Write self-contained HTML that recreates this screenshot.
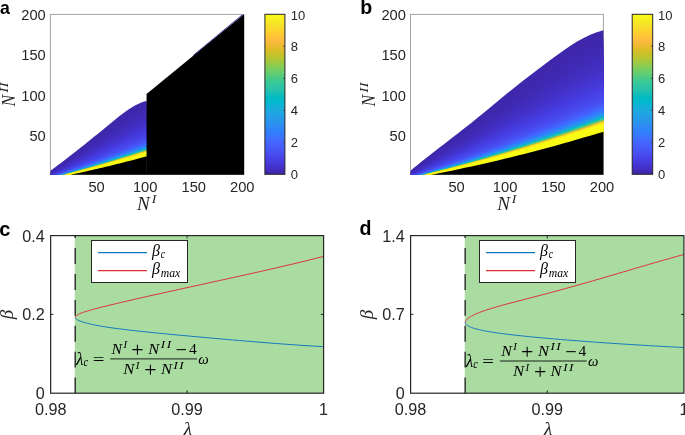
<!DOCTYPE html>
<html><head><meta charset="utf-8"><title>figure</title><style>html,body{margin:0;padding:0;background:#fff}body{width:685px;height:435px;overflow:hidden}</style></head><body>
<svg width="685" height="435" viewBox="0 0 685 435" style="display:block">
<rect width="685" height="435" fill="#fff"/>
<rect x="50.4" y="14.4" width="193.3" height="159.9" fill="none" stroke="#a4a4a4" stroke-width="1"/>
<clipPath id="clip1"><rect x="50.4" y="14.4" width="193.8" height="160.4"/></clipPath>
<g clip-path="url(#clip1)">
<polygon fill="#3e27aa" points="50.4,174.78 53.92,174.78 57.44,174.78 60.96,174.78 64.48,174.78 68.01,174.78 71.53,174.78 75.05,174.29 78.57,173.52 81.3,172.92 84.03,172.32 86.76,171.71 89.5,171.09 92.23,170.47 94.96,169.84 97.69,169.2 100.42,168.56 103.15,167.92 105.88,167.27 108.62,166.61 111.35,165.94 114.08,165.28 116.81,164.6 119.54,163.92 122.27,163.23 125,162.54 127.74,161.84 130.47,161.14 133.2,160.42 135.93,159.71 138.66,158.99 141.39,158.26 144.12,157.52 146.86,156.78 146.86,100.93 144.12,101.59 141.39,102.5 138.66,103.63 135.93,104.97 133.2,106.48 130.47,108.15 127.74,109.96 125,111.89 122.27,113.91 119.54,116.01 116.81,118.18 114.08,120.39 111.35,122.64 108.62,124.9 105.88,127.16 103.15,129.42 100.42,131.66 97.69,133.9 94.96,136.12 92.23,138.34 89.5,140.54 86.76,142.74 84.03,144.92 81.3,147.1 78.57,149.26 75.05,152.03 71.53,154.78 68.01,157.51 64.48,160.21 60.96,162.89 57.44,165.55 53.92,168.18 50.4,170.79"/>
<polygon fill="#3f28ad" points="50.4,174.78 53.92,174.78 57.44,174.78 60.96,174.78 64.48,174.78 68.01,174.78 71.53,174.78 75.05,174.29 78.57,173.52 81.3,172.92 84.03,172.32 86.76,171.71 89.5,171.09 92.23,170.47 94.96,169.84 97.69,169.2 100.42,168.56 103.15,167.92 105.88,167.27 108.62,166.61 111.35,165.94 114.08,165.28 116.81,164.6 119.54,163.92 122.27,163.23 125,162.54 127.74,161.84 130.47,161.14 133.2,160.42 135.93,159.71 138.66,158.99 141.39,158.26 144.12,157.52 146.86,156.78 146.86,104.98 144.12,105.78 141.39,106.79 138.66,108 135.93,109.37 133.2,110.89 130.47,112.54 127.74,114.3 125,116.16 122.27,118.1 119.54,120.1 116.81,122.15 114.08,124.24 111.35,126.35 108.62,128.48 105.88,130.61 103.15,132.72 100.42,134.83 97.69,136.93 94.96,139.03 92.23,141.11 89.5,143.18 86.76,145.25 84.03,147.3 81.3,149.35 78.57,151.38 75.05,153.99 71.53,156.57 68.01,159.14 64.48,161.69 60.96,164.22 57.44,166.74 53.92,169.23 50.4,171.71"/>
<polygon fill="#3f29b1" points="50.4,174.78 53.92,174.78 57.44,174.78 60.96,174.78 64.48,174.78 68.01,174.78 71.53,174.78 75.05,174.29 78.57,173.52 81.3,172.92 84.03,172.32 86.76,171.71 89.5,171.09 92.23,170.47 94.96,169.84 97.69,169.2 100.42,168.56 103.15,167.92 105.88,167.27 108.62,166.61 111.35,165.94 114.08,165.28 116.81,164.6 119.54,163.92 122.27,163.23 125,162.54 127.74,161.84 130.47,161.14 133.2,160.42 135.93,159.71 138.66,158.99 141.39,158.26 144.12,157.52 146.86,156.78 146.86,108.35 144.12,109.24 141.39,110.32 138.66,111.56 135.93,112.95 133.2,114.46 130.47,116.09 127.74,117.81 125,119.61 122.27,121.47 119.54,123.39 116.81,125.34 114.08,127.33 111.35,129.34 108.62,131.36 105.88,133.37 103.15,135.38 100.42,137.38 97.69,139.37 94.96,141.36 92.23,143.33 89.5,145.3 86.76,147.26 84.03,149.2 81.3,151.14 78.57,153.07 75.05,155.55 71.53,158 68.01,160.44 64.48,162.86 60.96,165.27 57.44,167.66 53.92,170.03 50.4,172.4"/>
<polygon fill="#402ab4" points="50.4,174.78 53.92,174.78 57.44,174.78 60.96,174.78 64.48,174.78 68.01,174.78 71.53,174.78 75.05,174.29 78.57,173.52 81.3,172.92 84.03,172.32 86.76,171.71 89.5,171.09 92.23,170.47 94.96,169.84 97.69,169.2 100.42,168.56 103.15,167.92 105.88,167.27 108.62,166.61 111.35,165.94 114.08,165.28 116.81,164.6 119.54,163.92 122.27,163.23 125,162.54 127.74,161.84 130.47,161.14 133.2,160.42 135.93,159.71 138.66,158.99 141.39,158.26 144.12,157.52 146.86,156.78 146.86,111.2 144.12,112.17 141.39,113.29 138.66,114.55 135.93,115.95 133.2,117.45 130.47,119.04 127.74,120.72 125,122.46 122.27,124.26 119.54,126.11 116.81,127.98 114.08,129.89 111.35,131.81 108.62,133.73 105.88,135.66 103.15,137.57 100.42,139.48 97.69,141.39 94.96,143.28 92.23,145.17 89.5,147.04 86.76,148.91 84.03,150.77 81.3,152.62 78.57,154.47 75.05,156.83 71.53,159.17 68.01,161.51 64.48,163.82 60.96,166.12 57.44,168.4 53.92,170.68 50.4,172.95"/>
<polygon fill="#402bb7" points="50.4,174.78 53.92,174.78 57.44,174.78 60.96,174.78 64.48,174.78 68.01,174.78 71.53,174.78 75.05,174.29 78.57,173.52 81.3,172.92 84.03,172.32 86.76,171.71 89.5,171.09 92.23,170.47 94.96,169.84 97.69,169.2 100.42,168.56 103.15,167.92 105.88,167.27 108.62,166.61 111.35,165.94 114.08,165.28 116.81,164.6 119.54,163.92 122.27,163.23 125,162.54 127.74,161.84 130.47,161.14 133.2,160.42 135.93,159.71 138.66,158.99 141.39,158.26 144.12,157.52 146.86,156.78 146.86,113.66 144.12,114.67 141.39,115.83 138.66,117.11 135.93,118.49 133.2,119.98 130.47,121.55 127.74,123.18 125,124.88 122.27,126.62 119.54,128.4 116.81,130.21 114.08,132.04 111.35,133.89 108.62,135.74 105.88,137.59 103.15,139.43 100.42,141.26 97.69,143.08 94.96,144.9 92.23,146.71 89.5,148.51 86.76,150.31 84.03,152.09 81.3,153.87 78.57,155.64 75.05,157.91 71.53,160.16 68.01,162.4 64.48,164.62 60.96,166.83 57.44,169.02 53.92,171.21 50.4,173.39"/>
<polygon fill="#412cbb" points="50.4,174.78 53.92,174.78 57.44,174.78 60.96,174.78 64.48,174.78 68.01,174.78 71.53,174.78 75.05,174.29 78.57,173.52 81.3,172.92 84.03,172.32 86.76,171.71 89.5,171.09 92.23,170.47 94.96,169.84 97.69,169.2 100.42,168.56 103.15,167.92 105.88,167.27 108.62,166.61 111.35,165.94 114.08,165.28 116.81,164.6 119.54,163.92 122.27,163.23 125,162.54 127.74,161.84 130.47,161.14 133.2,160.42 135.93,159.71 138.66,158.99 141.39,158.26 144.12,157.52 146.86,156.78 146.86,115.8 144.12,116.84 141.39,118.02 138.66,119.31 135.93,120.69 133.2,122.16 130.47,123.7 127.74,125.31 125,126.96 122.27,128.65 119.54,130.38 116.81,132.13 114.08,133.9 111.35,135.68 108.62,137.46 105.88,139.24 103.15,141.01 100.42,142.78 97.69,144.54 94.96,146.29 92.23,148.04 89.5,149.77 86.76,151.5 84.03,153.22 81.3,154.94 78.57,156.64 75.05,158.83 71.53,161 68.01,163.15 64.48,165.3 60.96,167.43 57.44,169.55 53.92,171.65 50.4,173.76"/>
<polygon fill="#412ebe" points="50.4,174.78 53.92,174.78 57.44,174.78 60.96,174.78 64.48,174.78 68.01,174.78 71.53,174.78 75.05,174.29 78.57,173.52 81.3,172.92 84.03,172.32 86.76,171.71 89.5,171.09 92.23,170.47 94.96,169.84 97.69,169.2 100.42,168.56 103.15,167.92 105.88,167.27 108.62,166.61 111.35,165.94 114.08,165.28 116.81,164.6 119.54,163.92 122.27,163.23 125,162.54 127.74,161.84 130.47,161.14 133.2,160.42 135.93,159.71 138.66,158.99 141.39,158.26 144.12,157.52 146.86,156.78 146.86,117.68 144.12,118.75 141.39,119.94 138.66,121.23 135.93,122.61 133.2,124.06 130.47,125.57 127.74,127.14 125,128.76 122.27,130.41 119.54,132.09 116.81,133.78 114.08,135.5 111.35,137.22 108.62,138.95 105.88,140.67 103.15,142.39 100.42,144.1 97.69,145.8 94.96,147.5 92.23,149.19 89.5,150.87 86.76,152.54 84.03,154.2 81.3,155.86 78.57,157.51 75.05,159.62 71.53,161.72 68.01,163.81 64.48,165.89 60.96,167.95 57.44,169.99 53.92,172.03 50.4,174.07"/>
<polygon fill="#422fc1" points="50.4,174.78 53.92,174.78 57.44,174.78 60.96,174.78 64.48,174.78 68.01,174.78 71.53,174.78 75.05,174.29 78.57,173.52 81.3,172.92 84.03,172.32 86.76,171.71 89.5,171.09 92.23,170.47 94.96,169.84 97.69,169.2 100.42,168.56 103.15,167.92 105.88,167.27 108.62,166.61 111.35,165.94 114.08,165.28 116.81,164.6 119.54,163.92 122.27,163.23 125,162.54 127.74,161.84 130.47,161.14 133.2,160.42 135.93,159.71 138.66,158.99 141.39,158.26 144.12,157.52 146.86,156.78 146.86,119.35 144.12,120.45 141.39,121.64 138.66,122.93 135.93,124.3 133.2,125.73 130.47,127.22 127.74,128.76 125,130.34 122.27,131.95 119.54,133.58 116.81,135.24 114.08,136.91 111.35,138.58 108.62,140.26 105.88,141.93 103.15,143.59 100.42,145.25 97.69,146.91 94.96,148.55 92.23,150.19 89.5,151.82 86.76,153.44 84.03,155.06 81.3,156.67 78.57,158.27 75.05,160.32 71.53,162.36 68.01,164.38 64.48,166.4 60.96,168.4 57.44,170.38 53.92,172.36 50.4,174.34"/>
<polygon fill="#4230c4" points="50.4,174.78 53.92,174.78 57.44,174.78 60.96,174.78 64.48,174.78 68.01,174.78 71.53,174.78 75.05,174.29 78.57,173.52 81.3,172.92 84.03,172.32 86.76,171.71 89.5,171.09 92.23,170.47 94.96,169.84 97.69,169.2 100.42,168.56 103.15,167.92 105.88,167.27 108.62,166.61 111.35,165.94 114.08,165.28 116.81,164.6 119.54,163.92 122.27,163.23 125,162.54 127.74,161.84 130.47,161.14 133.2,160.42 135.93,159.71 138.66,158.99 141.39,158.26 144.12,157.52 146.86,156.78 146.86,120.86 144.12,121.96 141.39,123.16 138.66,124.45 135.93,125.8 133.2,127.22 130.47,128.69 127.74,130.2 125,131.74 122.27,133.32 119.54,134.92 116.81,136.53 114.08,138.15 111.35,139.78 108.62,141.41 105.88,143.04 103.15,144.66 100.42,146.28 97.69,147.89 94.96,149.49 92.23,151.08 89.5,152.67 86.76,154.25 84.03,155.82 81.3,157.38 78.57,158.94 75.05,160.93 71.53,162.92 68.01,164.89 64.48,166.85 60.96,168.79 57.44,170.73 53.92,172.65 50.4,174.57"/>
<polygon fill="#4331c7" points="50.4,174.78 53.92,174.78 57.44,174.78 60.96,174.78 64.48,174.78 68.01,174.78 71.53,174.78 75.05,174.29 78.57,173.52 81.3,172.92 84.03,172.32 86.76,171.71 89.5,171.09 92.23,170.47 94.96,169.84 97.69,169.2 100.42,168.56 103.15,167.92 105.88,167.27 108.62,166.61 111.35,165.94 114.08,165.28 116.81,164.6 119.54,163.92 122.27,163.23 125,162.54 127.74,161.84 130.47,161.14 133.2,160.42 135.93,159.71 138.66,158.99 141.39,158.26 144.12,157.52 146.86,156.78 146.86,122.22 144.12,123.33 141.39,124.53 138.66,125.81 135.93,127.16 133.2,128.56 130.47,130 127.74,131.49 125,133 122.27,134.55 119.54,136.11 116.81,137.68 114.08,139.27 111.35,140.86 108.62,142.45 105.88,144.04 103.15,145.62 100.42,147.2 97.69,148.76 94.96,150.32 92.23,151.88 89.5,153.42 86.76,154.96 84.03,156.5 81.3,158.02 78.57,159.54 75.05,161.48 71.53,163.42 68.01,165.34 64.48,167.25 60.96,169.14 57.44,171.03 53.92,172.91 50.4,174.78"/>
<polygon fill="#4332ca" points="50.4,174.78 53.92,174.78 57.44,174.78 60.96,174.78 64.48,174.78 68.01,174.78 71.53,174.78 75.05,174.29 78.57,173.52 81.3,172.92 84.03,172.32 86.76,171.71 89.5,171.09 92.23,170.47 94.96,169.84 97.69,169.2 100.42,168.56 103.15,167.92 105.88,167.27 108.62,166.61 111.35,165.94 114.08,165.28 116.81,164.6 119.54,163.92 122.27,163.23 125,162.54 127.74,161.84 130.47,161.14 133.2,160.42 135.93,159.71 138.66,158.99 141.39,158.26 144.12,157.52 146.86,156.78 146.86,123.45 144.12,124.57 141.39,125.78 138.66,127.05 135.93,128.38 133.2,129.76 130.47,131.19 127.74,132.65 125,134.14 122.27,135.65 119.54,137.18 116.81,138.73 114.08,140.28 111.35,141.83 108.62,143.39 105.88,144.94 103.15,146.48 100.42,148.02 97.69,149.55 94.96,151.08 92.23,152.6 89.5,154.11 86.76,155.61 84.03,157.11 81.3,158.6 78.57,160.08 75.05,161.98 71.53,163.87 68.01,165.74 64.48,167.61 60.96,169.46 57.44,171.3 53.92,173.13 50.4,174.78"/>
<polygon fill="#4433cd" points="50.4,174.78 53.92,174.78 57.44,174.78 60.96,174.78 64.48,174.78 68.01,174.78 71.53,174.78 75.05,174.29 78.57,173.52 81.3,172.92 84.03,172.32 86.76,171.71 89.5,171.09 92.23,170.47 94.96,169.84 97.69,169.2 100.42,168.56 103.15,167.92 105.88,167.27 108.62,166.61 111.35,165.94 114.08,165.28 116.81,164.6 119.54,163.92 122.27,163.23 125,162.54 127.74,161.84 130.47,161.14 133.2,160.42 135.93,159.71 138.66,158.99 141.39,158.26 144.12,157.52 146.86,156.78 146.86,124.58 144.12,125.71 141.39,126.91 138.66,128.17 135.93,129.5 133.2,130.86 130.47,132.27 127.74,133.71 125,135.17 122.27,136.66 119.54,138.16 116.81,139.67 114.08,141.19 111.35,142.71 108.62,144.24 105.88,145.75 103.15,147.27 100.42,148.77 97.69,150.27 94.96,151.76 92.23,153.25 89.5,154.72 86.76,156.2 84.03,157.66 81.3,159.12 78.57,160.57 75.05,162.43 71.53,164.27 68.01,166.11 64.48,167.93 60.96,169.74 57.44,171.55 53.92,173.34 50.4,174.78"/>
<polygon fill="#4435d0" points="50.4,174.78 53.92,174.78 57.44,174.78 60.96,174.78 64.48,174.78 68.01,174.78 71.53,174.78 75.05,174.29 78.57,173.52 81.3,172.92 84.03,172.32 86.76,171.71 89.5,171.09 92.23,170.47 94.96,169.84 97.69,169.2 100.42,168.56 103.15,167.92 105.88,167.27 108.62,166.61 111.35,165.94 114.08,165.28 116.81,164.6 119.54,163.92 122.27,163.23 125,162.54 127.74,161.84 130.47,161.14 133.2,160.42 135.93,159.71 138.66,158.99 141.39,158.26 144.12,157.52 146.86,156.78 146.86,125.62 144.12,126.75 141.39,127.95 138.66,129.21 135.93,130.51 133.2,131.87 130.47,133.26 127.74,134.67 125,136.12 122.27,137.58 119.54,139.05 116.81,140.53 114.08,142.02 111.35,143.52 108.62,145.01 105.88,146.5 103.15,147.98 100.42,149.45 97.69,150.92 94.96,152.39 92.23,153.84 89.5,155.29 86.76,156.73 84.03,158.17 81.3,159.59 78.57,161.01 75.05,162.83 71.53,164.64 68.01,166.44 64.48,168.23 60.96,170 57.44,171.77 53.92,173.52 50.4,174.78"/>
<polygon fill="#4536d3" points="50.4,174.78 53.92,174.78 57.44,174.78 60.96,174.78 64.48,174.78 68.01,174.78 71.53,174.78 75.05,174.29 78.57,173.52 81.3,172.92 84.03,172.32 86.76,171.71 89.5,171.09 92.23,170.47 94.96,169.84 97.69,169.2 100.42,168.56 103.15,167.92 105.88,167.27 108.62,166.61 111.35,165.94 114.08,165.28 116.81,164.6 119.54,163.92 122.27,163.23 125,162.54 127.74,161.84 130.47,161.14 133.2,160.42 135.93,159.71 138.66,158.99 141.39,158.26 144.12,157.52 146.86,156.78 146.86,126.68 144.12,127.71 141.39,128.9 138.66,130.15 135.93,131.45 133.2,132.79 130.47,134.16 127.74,135.56 125,136.98 122.27,138.42 119.54,139.87 116.81,141.32 114.08,142.79 111.35,144.26 108.62,145.72 105.88,147.18 103.15,148.63 100.42,150.08 97.69,151.52 94.96,152.96 92.23,154.39 89.5,155.81 86.76,157.22 84.03,158.63 81.3,160.03 78.57,161.42 75.05,163.21 71.53,164.98 68.01,166.75 64.48,168.5 60.96,170.24 57.44,171.97 53.92,173.69 50.4,174.78"/>
<polygon fill="#4537d6" points="50.4,174.78 53.92,174.78 57.44,174.78 60.96,174.78 64.48,174.78 68.01,174.78 71.53,174.78 75.05,174.29 78.57,173.52 81.3,172.92 84.03,172.32 86.76,171.71 89.5,171.09 92.23,170.47 94.96,169.84 97.69,169.2 100.42,168.56 103.15,167.92 105.88,167.27 108.62,166.61 111.35,165.94 114.08,165.28 116.81,164.6 119.54,163.92 122.27,163.23 125,162.54 127.74,161.84 130.47,161.14 133.2,160.42 135.93,159.71 138.66,158.99 141.39,158.26 144.12,157.52 146.86,156.78 146.86,127.85 144.12,128.87 141.39,129.97 138.66,131.13 135.93,132.35 133.2,133.64 130.47,135 127.74,136.38 125,137.78 122.27,139.19 119.54,140.62 116.81,142.05 114.08,143.49 111.35,144.93 108.62,146.37 105.88,147.81 103.15,149.24 100.42,150.66 97.69,152.08 94.96,153.48 92.23,154.89 89.5,156.28 86.76,157.67 84.03,159.05 81.3,160.43 78.57,161.8 75.05,163.55 71.53,165.3 68.01,167.03 64.48,168.75 60.96,170.46 57.44,172.16 53.92,173.85 50.4,174.78"/>
<polygon fill="#4539d8" points="50.4,174.78 53.92,174.78 57.44,174.78 60.96,174.78 64.48,174.78 68.01,174.78 71.53,174.78 75.05,174.29 78.57,173.52 81.3,172.92 84.03,172.32 86.76,171.71 89.5,171.09 92.23,170.47 94.96,169.84 97.69,169.2 100.42,168.56 103.15,167.92 105.88,167.27 108.62,166.61 111.35,165.94 114.08,165.28 116.81,164.6 119.54,163.92 122.27,163.23 125,162.54 127.74,161.84 130.47,161.14 133.2,160.42 135.93,159.71 138.66,158.99 141.39,158.26 144.12,157.52 146.86,156.78 146.86,128.94 144.12,129.96 141.39,131.06 138.66,132.22 135.93,133.43 133.2,134.68 130.47,135.98 127.74,137.31 125,138.66 122.27,140.03 119.54,141.42 116.81,142.82 114.08,144.23 111.35,145.64 108.62,147.05 105.88,148.46 103.15,149.86 100.42,151.25 97.69,152.64 94.96,154.02 92.23,155.39 89.5,156.76 86.76,158.12 84.03,159.47 81.3,160.81 78.57,162.15 75.05,163.87 71.53,165.58 68.01,167.29 64.48,168.98 60.96,170.66 57.44,172.33 53.92,173.99 50.4,174.78"/>
<polygon fill="#463adb" points="50.4,174.78 53.92,174.78 57.44,174.78 60.96,174.78 64.48,174.78 68.01,174.78 71.53,174.78 75.05,174.29 78.57,173.52 81.3,172.92 84.03,172.32 86.76,171.71 89.5,171.09 92.23,170.47 94.96,169.84 97.69,169.2 100.42,168.56 103.15,167.92 105.88,167.27 108.62,166.61 111.35,165.94 114.08,165.28 116.81,164.6 119.54,163.92 122.27,163.23 125,162.54 127.74,161.84 130.47,161.14 133.2,160.42 135.93,159.71 138.66,158.99 141.39,158.26 144.12,157.52 146.86,156.78 146.86,129.96 144.12,130.99 141.39,132.08 138.66,133.23 135.93,134.43 133.2,135.68 130.47,136.95 127.74,138.26 125,139.59 122.27,140.94 119.54,142.3 116.81,143.67 114.08,145.05 111.35,146.43 108.62,147.81 105.88,149.19 103.15,150.56 100.42,151.93 97.69,153.28 94.96,154.63 92.23,155.98 89.5,157.31 86.76,158.64 84.03,159.97 81.3,161.28 78.57,162.59 75.05,164.27 71.53,165.94 68.01,167.59 64.48,169.23 60.96,170.86 57.44,172.49 53.92,174.12 50.4,174.78"/>
<polygon fill="#463bdd" points="50.4,174.78 53.92,174.78 57.44,174.78 60.96,174.78 64.48,174.78 68.01,174.78 71.53,174.78 75.05,174.29 78.57,173.52 81.3,172.92 84.03,172.32 86.76,171.71 89.5,171.09 92.23,170.47 94.96,169.84 97.69,169.2 100.42,168.56 103.15,167.92 105.88,167.27 108.62,166.61 111.35,165.94 114.08,165.28 116.81,164.6 119.54,163.92 122.27,163.23 125,162.54 127.74,161.84 130.47,161.14 133.2,160.42 135.93,159.71 138.66,158.99 141.39,158.26 144.12,157.52 146.86,156.78 146.86,130.92 144.12,131.95 141.39,133.05 138.66,134.19 135.93,135.38 133.2,136.61 130.47,137.87 127.74,139.15 125,140.46 122.27,141.79 119.54,143.12 116.81,144.47 114.08,145.82 111.35,147.18 108.62,148.53 105.88,149.88 103.15,151.22 100.42,152.56 97.69,153.89 94.96,155.21 92.23,156.53 89.5,157.84 86.76,159.14 84.03,160.43 81.3,161.72 78.57,163.01 75.05,164.65 71.53,166.28 68.01,167.9 64.48,169.5 60.96,171.1 57.44,172.69 53.92,174.26 50.4,174.78"/>
<polygon fill="#463de0" points="50.4,174.78 53.92,174.78 57.44,174.78 60.96,174.78 64.48,174.78 68.01,174.78 71.53,174.78 75.05,174.29 78.57,173.52 81.3,172.92 84.03,172.32 86.76,171.71 89.5,171.09 92.23,170.47 94.96,169.84 97.69,169.2 100.42,168.56 103.15,167.92 105.88,167.27 108.62,166.61 111.35,165.94 114.08,165.28 116.81,164.6 119.54,163.92 122.27,163.23 125,162.54 127.74,161.84 130.47,161.14 133.2,160.42 135.93,159.71 138.66,158.99 141.39,158.26 144.12,157.52 146.86,156.78 146.86,131.83 144.12,132.86 141.39,133.95 138.66,135.09 135.93,136.27 133.2,137.48 130.47,138.72 127.74,139.99 125,141.28 122.27,142.58 119.54,143.9 116.81,145.22 114.08,146.55 111.35,147.87 108.62,149.2 105.88,150.52 103.15,151.84 100.42,153.15 97.69,154.45 94.96,155.75 92.23,157.04 89.5,158.33 86.76,159.6 84.03,160.87 81.3,162.14 78.57,163.39 75.05,165 71.53,166.6 68.01,168.19 64.48,169.76 60.96,171.32 57.44,172.88 53.92,174.42 50.4,174.78"/>
<polygon fill="#473ee2" points="50.4,174.78 53.92,174.78 57.44,174.78 60.96,174.78 64.48,174.78 68.01,174.78 71.53,174.78 75.05,174.29 78.57,173.52 81.3,172.92 84.03,172.32 86.76,171.71 89.5,171.09 92.23,170.47 94.96,169.84 97.69,169.2 100.42,168.56 103.15,167.92 105.88,167.27 108.62,166.61 111.35,165.94 114.08,165.28 116.81,164.6 119.54,163.92 122.27,163.23 125,162.54 127.74,161.84 130.47,161.14 133.2,160.42 135.93,159.71 138.66,158.99 141.39,158.26 144.12,157.52 146.86,156.78 146.86,132.69 144.12,133.72 141.39,134.8 138.66,135.93 135.93,137.1 133.2,138.3 130.47,139.53 127.74,140.78 125,142.05 122.27,143.33 119.54,144.62 116.81,145.92 114.08,147.22 111.35,148.53 108.62,149.83 105.88,151.13 103.15,152.42 100.42,153.71 97.69,154.99 94.96,156.26 92.23,157.53 89.5,158.78 86.76,160.04 84.03,161.28 81.3,162.52 78.57,163.75 75.05,165.33 71.53,166.9 68.01,168.46 64.48,170 60.96,171.53 57.44,173.06 53.92,174.57 50.4,174.78"/>
<polygon fill="#4740e4" points="50.4,174.78 53.92,174.78 57.44,174.78 60.96,174.78 64.48,174.78 68.01,174.78 71.53,174.78 75.05,174.29 78.57,173.52 81.3,172.92 84.03,172.32 86.76,171.71 89.5,171.09 92.23,170.47 94.96,169.84 97.69,169.2 100.42,168.56 103.15,167.92 105.88,167.27 108.62,166.61 111.35,165.94 114.08,165.28 116.81,164.6 119.54,163.92 122.27,163.23 125,162.54 127.74,161.84 130.47,161.14 133.2,160.42 135.93,159.71 138.66,158.99 141.39,158.26 144.12,157.52 146.86,156.78 146.86,133.5 144.12,134.53 141.39,135.61 138.66,136.73 135.93,137.89 133.2,139.07 130.47,140.29 127.74,141.52 125,142.77 122.27,144.03 119.54,145.3 116.81,146.58 114.08,147.86 111.35,149.15 108.62,150.42 105.88,151.7 103.15,152.97 100.42,154.23 97.69,155.49 94.96,156.74 92.23,157.98 89.5,159.22 86.76,160.45 84.03,161.67 81.3,162.89 78.57,164.1 75.05,165.65 71.53,167.18 68.01,168.71 64.48,170.23 60.96,171.73 57.44,173.23 53.92,174.71 50.4,174.78"/>
<polygon fill="#4742e6" points="53.92,174.78 57.44,174.78 60.96,174.78 64.48,174.78 68.01,174.78 71.53,174.78 75.05,174.29 78.57,173.52 81.3,172.92 84.03,172.32 86.76,171.71 89.5,171.09 92.23,170.47 94.96,169.84 97.69,169.2 100.42,168.56 103.15,167.92 105.88,167.27 108.62,166.61 111.35,165.94 114.08,165.28 116.81,164.6 119.54,163.92 122.27,163.23 125,162.54 127.74,161.84 130.47,161.14 133.2,160.42 135.93,159.71 138.66,158.99 141.39,158.26 144.12,157.52 146.86,156.78 146.86,134.26 144.12,135.29 141.39,136.37 138.66,137.48 135.93,138.63 133.2,139.8 130.47,141 127.74,142.22 125,143.45 122.27,144.7 119.54,145.95 116.81,147.2 114.08,148.46 111.35,149.73 108.62,150.98 105.88,152.24 103.15,153.48 100.42,154.72 97.69,155.96 94.96,157.19 92.23,158.41 89.5,159.62 86.76,160.83 84.03,162.03 81.3,163.23 78.57,164.42 75.05,165.94 71.53,167.45 68.01,168.95 64.48,170.44 60.96,171.92 57.44,173.38 53.92,174.78"/>
<polygon fill="#4743e7" points="53.92,174.78 57.44,174.78 60.96,174.78 64.48,174.78 68.01,174.78 71.53,174.78 75.05,174.29 78.57,173.52 81.3,172.92 84.03,172.32 86.76,171.71 89.5,171.09 92.23,170.47 94.96,169.84 97.69,169.2 100.42,168.56 103.15,167.92 105.88,167.27 108.62,166.61 111.35,165.94 114.08,165.28 116.81,164.6 119.54,163.92 122.27,163.23 125,162.54 127.74,161.84 130.47,161.14 133.2,160.42 135.93,159.71 138.66,158.99 141.39,158.26 144.12,157.52 146.86,156.78 146.86,134.99 144.12,136.02 141.39,137.08 138.66,138.19 135.93,139.33 133.2,140.49 130.47,141.68 127.74,142.88 125,144.09 122.27,145.32 119.54,146.55 116.81,147.79 114.08,149.03 111.35,150.27 108.62,151.51 105.88,152.74 103.15,153.97 100.42,155.19 97.69,156.4 94.96,157.61 92.23,158.81 89.5,160.01 86.76,161.19 84.03,162.38 81.3,163.55 78.57,164.72 75.05,166.22 71.53,167.7 68.01,169.17 64.48,170.64 60.96,172.09 57.44,173.53 53.92,174.78"/>
<polygon fill="#4745e9" points="53.92,174.78 57.44,174.78 60.96,174.78 64.48,174.78 68.01,174.78 71.53,174.78 75.05,174.29 78.57,173.52 81.3,172.92 84.03,172.32 86.76,171.71 89.5,171.09 92.23,170.47 94.96,169.84 97.69,169.2 100.42,168.56 103.15,167.92 105.88,167.27 108.62,166.61 111.35,165.94 114.08,165.28 116.81,164.6 119.54,163.92 122.27,163.23 125,162.54 127.74,161.84 130.47,161.14 133.2,160.42 135.93,159.71 138.66,158.99 141.39,158.26 144.12,157.52 146.86,156.78 146.86,135.67 144.12,136.7 141.39,137.76 138.66,138.86 135.93,139.99 133.2,141.14 130.47,142.31 127.74,143.5 125,144.7 122.27,145.91 119.54,147.13 116.81,148.35 114.08,149.57 111.35,150.79 108.62,152.01 105.88,153.22 103.15,154.43 100.42,155.63 97.69,156.82 94.96,158.01 92.23,159.19 89.5,160.37 86.76,161.54 84.03,162.7 81.3,163.86 78.57,165 75.05,166.48 71.53,167.94 68.01,169.39 64.48,170.83 60.96,172.25 57.44,173.67 53.92,174.78"/>
<polygon fill="#4746ea" points="53.92,174.78 57.44,174.78 60.96,174.78 64.48,174.78 68.01,174.78 71.53,174.78 75.05,174.29 78.57,173.52 81.3,172.92 84.03,172.32 86.76,171.71 89.5,171.09 92.23,170.47 94.96,169.84 97.69,169.2 100.42,168.56 103.15,167.92 105.88,167.27 108.62,166.61 111.35,165.94 114.08,165.28 116.81,164.6 119.54,163.92 122.27,163.23 125,162.54 127.74,161.84 130.47,161.14 133.2,160.42 135.93,159.71 138.66,158.99 141.39,158.26 144.12,157.52 146.86,156.78 146.86,136.32 144.12,137.35 141.39,138.41 138.66,139.5 135.93,140.62 133.2,141.76 130.47,142.92 127.74,144.09 125,145.28 122.27,146.47 119.54,147.67 116.81,148.87 114.08,150.07 111.35,151.28 108.62,152.48 105.88,153.67 103.15,154.86 100.42,156.04 97.69,157.22 94.96,158.39 92.23,159.55 89.5,160.71 86.76,161.86 84.03,163.01 81.3,164.14 78.57,165.27 75.05,166.72 71.53,168.16 68.01,169.59 64.48,171 60.96,172.41 57.44,173.8 53.92,174.78"/>
<polygon fill="#4848ec" points="53.92,174.78 57.44,174.78 60.96,174.78 64.48,174.78 68.01,174.78 71.53,174.78 75.05,174.29 78.57,173.52 81.3,172.92 84.03,172.32 86.76,171.71 89.5,171.09 92.23,170.47 94.96,169.84 97.69,169.2 100.42,168.56 103.15,167.92 105.88,167.27 108.62,166.61 111.35,165.94 114.08,165.28 116.81,164.6 119.54,163.92 122.27,163.23 125,162.54 127.74,161.84 130.47,161.14 133.2,160.42 135.93,159.71 138.66,158.99 141.39,158.26 144.12,157.52 146.86,156.78 146.86,136.94 144.12,137.96 141.39,139.02 138.66,140.1 135.93,141.21 133.2,142.34 130.47,143.49 127.74,144.65 125,145.82 122.27,147 119.54,148.18 116.81,149.37 114.08,150.55 111.35,151.74 108.62,152.92 105.88,154.1 103.15,155.27 100.42,156.44 97.69,157.59 94.96,158.75 92.23,159.89 89.5,161.03 86.76,162.17 84.03,163.29 81.3,164.42 78.57,165.53 75.05,166.96 71.53,168.37 68.01,169.78 64.48,171.17 60.96,172.56 57.44,173.93 53.92,174.78"/>
<polygon fill="#484aed" points="53.92,174.78 57.44,174.78 60.96,174.78 64.48,174.78 68.01,174.78 71.53,174.78 75.05,174.29 78.57,173.52 81.3,172.92 84.03,172.32 86.76,171.71 89.5,171.09 92.23,170.47 94.96,169.84 97.69,169.2 100.42,168.56 103.15,167.92 105.88,167.27 108.62,166.61 111.35,165.94 114.08,165.28 116.81,164.6 119.54,163.92 122.27,163.23 125,162.54 127.74,161.84 130.47,161.14 133.2,160.42 135.93,159.71 138.66,158.99 141.39,158.26 144.12,157.52 146.86,156.78 146.86,137.53 144.12,138.55 141.39,139.6 138.66,140.67 135.93,141.77 133.2,142.89 130.47,144.03 127.74,145.18 125,146.33 122.27,147.5 119.54,148.67 116.81,149.84 114.08,151.01 111.35,152.18 108.62,153.34 105.88,154.5 103.15,155.66 100.42,156.81 97.69,157.95 94.96,159.09 92.23,160.22 89.5,161.34 86.76,162.46 84.03,163.57 81.3,164.67 78.57,165.77 75.05,167.18 71.53,168.57 68.01,169.96 64.48,171.33 60.96,172.69 57.44,174.05 53.92,174.78"/>
<polygon fill="#484bef" points="53.92,174.78 57.44,174.78 60.96,174.78 64.48,174.78 68.01,174.78 71.53,174.78 75.05,174.29 78.57,173.52 81.3,172.92 84.03,172.32 86.76,171.71 89.5,171.09 92.23,170.47 94.96,169.84 97.69,169.2 100.42,168.56 103.15,167.92 105.88,167.27 108.62,166.61 111.35,165.94 114.08,165.28 116.81,164.6 119.54,163.92 122.27,163.23 125,162.54 127.74,161.84 130.47,161.14 133.2,160.42 135.93,159.71 138.66,158.99 141.39,158.26 144.12,157.52 146.86,156.78 146.86,138.09 144.12,139.1 141.39,140.15 138.66,141.22 135.93,142.31 133.2,143.42 130.47,144.54 127.74,145.68 125,146.82 122.27,147.97 119.54,149.13 116.81,150.28 114.08,151.44 111.35,152.59 108.62,153.74 105.88,154.89 103.15,156.03 100.42,157.16 97.69,158.29 94.96,159.41 92.23,160.52 89.5,161.63 86.76,162.73 84.03,163.83 81.3,164.92 78.57,166 75.05,167.39 71.53,168.76 68.01,170.13 64.48,171.48 60.96,172.82 57.44,174.16 53.92,174.78"/>
<polygon fill="#484df0" points="53.92,174.78 57.44,174.78 60.96,174.78 64.48,174.78 68.01,174.78 71.53,174.78 75.05,174.29 78.57,173.52 81.3,172.92 84.03,172.32 86.76,171.71 89.5,171.09 92.23,170.47 94.96,169.84 97.69,169.2 100.42,168.56 103.15,167.92 105.88,167.27 108.62,166.61 111.35,165.94 114.08,165.28 116.81,164.6 119.54,163.92 122.27,163.23 125,162.54 127.74,161.84 130.47,161.14 133.2,160.42 135.93,159.71 138.66,158.99 141.39,158.26 144.12,157.52 146.86,156.78 146.86,138.62 144.12,139.63 141.39,140.67 138.66,141.73 135.93,142.82 133.2,143.92 130.47,145.03 127.74,146.15 125,147.29 122.27,148.42 119.54,149.56 116.81,150.71 114.08,151.85 111.35,152.99 108.62,154.12 105.88,155.25 103.15,156.38 100.42,157.5 97.69,158.61 94.96,159.71 92.23,160.81 89.5,161.91 86.76,162.99 84.03,164.07 81.3,165.15 78.57,166.22 75.05,167.58 71.53,168.94 68.01,170.29 64.48,171.62 60.96,172.95 57.44,174.26 53.92,174.78"/>
<polygon fill="#484ef1" points="53.92,174.78 57.44,174.78 60.96,174.78 64.48,174.78 68.01,174.78 71.53,174.78 75.05,174.29 78.57,173.52 81.3,172.92 84.03,172.32 86.76,171.71 89.5,171.09 92.23,170.47 94.96,169.84 97.69,169.2 100.42,168.56 103.15,167.92 105.88,167.27 108.62,166.61 111.35,165.94 114.08,165.28 116.81,164.6 119.54,163.92 122.27,163.23 125,162.54 127.74,161.84 130.47,161.14 133.2,160.42 135.93,159.71 138.66,158.99 141.39,158.26 144.12,157.52 146.86,156.78 146.86,139.12 144.12,140.13 141.39,141.17 138.66,142.22 135.93,143.3 133.2,144.39 130.47,145.49 127.74,146.61 125,147.73 122.27,148.85 119.54,149.98 116.81,151.11 114.08,152.23 111.35,153.36 108.62,154.48 105.88,155.6 103.15,156.71 100.42,157.81 97.69,158.91 94.96,160 92.23,161.09 89.5,162.17 86.76,163.24 84.03,164.31 81.3,165.37 78.57,166.42 75.05,167.77 71.53,169.11 68.01,170.44 64.48,171.76 60.96,173.07 57.44,174.36 53.92,174.78"/>
<polygon fill="#4850f2" points="53.92,174.78 57.44,174.78 60.96,174.78 64.48,174.78 68.01,174.78 71.53,174.78 75.05,174.29 78.57,173.52 81.3,172.92 84.03,172.32 86.76,171.71 89.5,171.09 92.23,170.47 94.96,169.84 97.69,169.2 100.42,168.56 103.15,167.92 105.88,167.27 108.62,166.61 111.35,165.94 114.08,165.28 116.81,164.6 119.54,163.92 122.27,163.23 125,162.54 127.74,161.84 130.47,161.14 133.2,160.42 135.93,159.71 138.66,158.99 141.39,158.26 144.12,157.52 146.86,156.78 146.86,139.61 144.12,140.61 141.39,141.64 138.66,142.69 135.93,143.76 133.2,144.84 130.47,145.94 127.74,147.04 125,148.15 122.27,149.26 119.54,150.37 116.81,151.49 114.08,152.6 111.35,153.72 108.62,154.82 105.88,155.93 103.15,157.02 100.42,158.12 97.69,159.2 94.96,160.28 92.23,161.35 89.5,162.42 86.76,163.48 84.03,164.53 81.3,165.58 78.57,166.62 75.05,167.95 71.53,169.27 68.01,170.59 64.48,171.89 60.96,173.18 57.44,174.46 53.92,174.78"/>
<polygon fill="#4852f4" points="53.92,174.78 57.44,174.78 60.96,174.78 64.48,174.78 68.01,174.78 71.53,174.78 75.05,174.29 78.57,173.52 81.3,172.92 84.03,172.32 86.76,171.71 89.5,171.09 92.23,170.47 94.96,169.84 97.69,169.2 100.42,168.56 103.15,167.92 105.88,167.27 108.62,166.61 111.35,165.94 114.08,165.28 116.81,164.6 119.54,163.92 122.27,163.23 125,162.54 127.74,161.84 130.47,161.14 133.2,160.42 135.93,159.71 138.66,158.99 141.39,158.26 144.12,157.52 146.86,156.78 146.86,140 144.12,141.05 141.39,142.09 138.66,143.14 135.93,144.2 133.2,145.27 130.47,146.36 127.74,147.45 125,148.55 122.27,149.65 119.54,150.75 116.81,151.85 114.08,152.96 111.35,154.06 108.62,155.15 105.88,156.24 103.15,157.33 100.42,158.4 97.69,159.48 94.96,160.54 92.23,161.6 89.5,162.65 86.76,163.7 84.03,164.74 81.3,165.78 78.57,166.81 75.05,168.12 71.53,169.43 68.01,170.72 64.48,172.01 60.96,173.28 57.44,174.55 53.92,174.78"/>
<polygon fill="#4853f5" points="53.92,174.78 57.44,174.78 60.96,174.78 64.48,174.78 68.01,174.78 71.53,174.78 75.05,174.29 78.57,173.52 81.3,172.92 84.03,172.32 86.76,171.71 89.5,171.09 92.23,170.47 94.96,169.84 97.69,169.2 100.42,168.56 103.15,167.92 105.88,167.27 108.62,166.61 111.35,165.94 114.08,165.28 116.81,164.6 119.54,163.92 122.27,163.23 125,162.54 127.74,161.84 130.47,161.14 133.2,160.42 135.93,159.71 138.66,158.99 141.39,158.26 144.12,157.52 146.86,156.78 146.86,140.32 144.12,141.36 141.39,142.42 138.66,143.49 135.93,144.56 133.2,145.65 130.47,146.74 127.74,147.84 125,148.93 122.27,150.02 119.54,151.11 116.81,152.2 114.08,153.29 111.35,154.38 108.62,155.46 105.88,156.54 103.15,157.61 100.42,158.68 97.69,159.74 94.96,160.79 92.23,161.84 89.5,162.88 86.76,163.92 84.03,164.94 81.3,165.97 78.57,166.98 75.05,168.28 71.53,169.58 68.01,170.86 64.48,172.12 60.96,173.38 57.44,174.63 53.92,174.78"/>
<polygon fill="#4755f6" points="53.92,174.78 57.44,174.78 60.96,174.78 64.48,174.78 68.01,174.78 71.53,174.78 75.05,174.29 78.57,173.52 81.3,172.92 84.03,172.32 86.76,171.71 89.5,171.09 92.23,170.47 94.96,169.84 97.69,169.2 100.42,168.56 103.15,167.92 105.88,167.27 108.62,166.61 111.35,165.94 114.08,165.28 116.81,164.6 119.54,163.92 122.27,163.23 125,162.54 127.74,161.84 130.47,161.14 133.2,160.42 135.93,159.71 138.66,158.99 141.39,158.26 144.12,157.52 146.86,156.78 146.86,140.63 144.12,141.66 141.39,142.71 138.66,143.78 135.93,144.85 133.2,145.93 130.47,147.01 127.74,148.1 125,149.19 122.27,150.28 119.54,151.37 116.81,152.45 114.08,153.54 111.35,154.62 108.62,155.69 105.88,156.76 103.15,157.83 100.42,158.88 97.69,159.94 94.96,160.98 92.23,162.02 89.5,163.06 86.76,164.08 84.03,165.1 81.3,166.12 78.57,167.13 75.05,168.42 71.53,169.7 68.01,170.97 64.48,172.23 60.96,173.48 57.44,174.72 53.92,174.78"/>
<polygon fill="#4756f7" points="53.92,174.78 57.44,174.78 60.96,174.78 64.48,174.78 68.01,174.78 71.53,174.78 75.05,174.29 78.57,173.52 81.3,172.92 84.03,172.32 86.76,171.71 89.5,171.09 92.23,170.47 94.96,169.84 97.69,169.2 100.42,168.56 103.15,167.92 105.88,167.27 108.62,166.61 111.35,165.94 114.08,165.28 116.81,164.6 119.54,163.92 122.27,163.23 125,162.54 127.74,161.84 130.47,161.14 133.2,160.42 135.93,159.71 138.66,158.99 141.39,158.26 144.12,157.52 146.86,156.78 146.86,140.92 144.12,141.95 141.39,143 138.66,144.06 135.93,145.12 133.2,146.2 130.47,147.28 127.74,148.36 125,149.44 122.27,150.52 119.54,151.6 116.81,152.68 114.08,153.76 111.35,154.83 108.62,155.89 105.88,156.96 103.15,158.01 100.42,159.06 97.69,160.11 94.96,161.14 92.23,162.18 89.5,163.2 86.76,164.22 84.03,165.23 81.3,166.24 78.57,167.24 75.05,168.52 71.53,169.8 68.01,171.06 64.48,172.31 60.96,173.55 57.44,174.78 53.92,174.78"/>
<polygon fill="#4758f8" points="57.44,174.78 60.96,174.78 64.48,174.78 68.01,174.78 71.53,174.78 75.05,174.29 78.57,173.52 81.3,172.92 84.03,172.32 86.76,171.71 89.5,171.09 92.23,170.47 94.96,169.84 97.69,169.2 100.42,168.56 103.15,167.92 105.88,167.27 108.62,166.61 111.35,165.94 114.08,165.28 116.81,164.6 119.54,163.92 122.27,163.23 125,162.54 127.74,161.84 130.47,161.14 133.2,160.42 135.93,159.71 138.66,158.99 141.39,158.26 144.12,157.52 146.86,156.78 146.86,141.2 144.12,142.23 141.39,143.27 138.66,144.33 135.93,145.39 133.2,146.45 130.47,147.53 127.74,148.6 125,149.68 122.27,150.75 119.54,151.82 116.81,152.9 114.08,153.96 111.35,155.03 108.62,156.09 105.88,157.14 103.15,158.19 100.42,159.23 97.69,160.27 94.96,161.3 92.23,162.32 89.5,163.34 86.76,164.35 84.03,165.36 81.3,166.36 78.57,167.35 75.05,168.62 71.53,169.89 68.01,171.14 64.48,172.38 60.96,173.61 57.44,174.78"/>
<polygon fill="#4759f9" points="57.44,174.78 60.96,174.78 64.48,174.78 68.01,174.78 71.53,174.78 75.05,174.29 78.57,173.52 81.3,172.92 84.03,172.32 86.76,171.71 89.5,171.09 92.23,170.47 94.96,169.84 97.69,169.2 100.42,168.56 103.15,167.92 105.88,167.27 108.62,166.61 111.35,165.94 114.08,165.28 116.81,164.6 119.54,163.92 122.27,163.23 125,162.54 127.74,161.84 130.47,161.14 133.2,160.42 135.93,159.71 138.66,158.99 141.39,158.26 144.12,157.52 146.86,156.78 146.86,141.47 144.12,142.49 141.39,143.53 138.66,144.58 135.93,145.64 133.2,146.7 130.47,147.77 127.74,148.83 125,149.9 122.27,150.97 119.54,152.04 116.81,153.1 114.08,154.16 111.35,155.22 108.62,156.27 105.88,157.32 103.15,158.36 100.42,159.4 97.69,160.42 94.96,161.45 92.23,162.46 89.5,163.48 86.76,164.48 84.03,165.48 81.3,166.47 78.57,167.46 75.05,168.72 71.53,169.97 68.01,171.22 64.48,172.45 60.96,173.67 57.44,174.78"/>
<polygon fill="#475bf9" points="57.44,174.78 60.96,174.78 64.48,174.78 68.01,174.78 71.53,174.78 75.05,174.29 78.57,173.52 81.3,172.92 84.03,172.32 86.76,171.71 89.5,171.09 92.23,170.47 94.96,169.84 97.69,169.2 100.42,168.56 103.15,167.92 105.88,167.27 108.62,166.61 111.35,165.94 114.08,165.28 116.81,164.6 119.54,163.92 122.27,163.23 125,162.54 127.74,161.84 130.47,161.14 133.2,160.42 135.93,159.71 138.66,158.99 141.39,158.26 144.12,157.52 146.86,156.78 146.86,141.73 144.12,142.75 141.39,143.79 138.66,144.83 135.93,145.88 133.2,146.94 130.47,148 127.74,149.06 125,150.12 122.27,151.18 119.54,152.24 116.81,153.3 114.08,154.35 111.35,155.41 108.62,156.45 105.88,157.49 103.15,158.52 100.42,159.55 97.69,160.57 94.96,161.59 92.23,162.6 89.5,163.6 86.76,164.6 84.03,165.59 81.3,166.58 78.57,167.56 75.05,168.81 71.53,170.06 68.01,171.29 64.48,172.51 60.96,173.73 57.44,174.78"/>
<polygon fill="#475dfa" points="57.44,174.78 60.96,174.78 64.48,174.78 68.01,174.78 71.53,174.78 75.05,174.29 78.57,173.52 81.3,172.92 84.03,172.32 86.76,171.71 89.5,171.09 92.23,170.47 94.96,169.84 97.69,169.2 100.42,168.56 103.15,167.92 105.88,167.27 108.62,166.61 111.35,165.94 114.08,165.28 116.81,164.6 119.54,163.92 122.27,163.23 125,162.54 127.74,161.84 130.47,161.14 133.2,160.42 135.93,159.71 138.66,158.99 141.39,158.26 144.12,157.52 146.86,156.78 146.86,141.98 144.12,143 141.39,144.03 138.66,145.07 135.93,146.11 133.2,147.16 130.47,148.22 127.74,149.27 125,150.33 122.27,151.39 119.54,152.44 116.81,153.49 114.08,154.54 111.35,155.58 108.62,156.62 105.88,157.65 103.15,158.68 100.42,159.7 97.69,160.72 94.96,161.73 92.23,162.73 89.5,163.73 86.76,164.72 84.03,165.7 81.3,166.68 78.57,167.66 75.05,168.9 71.53,170.14 68.01,171.36 64.48,172.58 60.96,173.78 57.44,174.78"/>
<polygon fill="#465efb" points="57.44,174.78 60.96,174.78 64.48,174.78 68.01,174.78 71.53,174.78 75.05,174.29 78.57,173.52 81.3,172.92 84.03,172.32 86.76,171.71 89.5,171.09 92.23,170.47 94.96,169.84 97.69,169.2 100.42,168.56 103.15,167.92 105.88,167.27 108.62,166.61 111.35,165.94 114.08,165.28 116.81,164.6 119.54,163.92 122.27,163.23 125,162.54 127.74,161.84 130.47,161.14 133.2,160.42 135.93,159.71 138.66,158.99 141.39,158.26 144.12,157.52 146.86,156.78 146.86,142.22 144.12,143.23 141.39,144.26 138.66,145.3 135.93,146.34 133.2,147.38 130.47,148.43 127.74,149.48 125,150.53 122.27,151.58 119.54,152.63 116.81,153.67 114.08,154.72 111.35,155.75 108.62,156.79 105.88,157.81 103.15,158.83 100.42,159.85 97.69,160.86 94.96,161.86 92.23,162.86 89.5,163.85 86.76,164.83 84.03,165.81 81.3,166.78 78.57,167.75 75.05,168.99 71.53,170.21 68.01,171.43 64.48,172.64 60.96,173.83 57.44,174.78"/>
<polygon fill="#4660fb" points="57.44,174.78 60.96,174.78 64.48,174.78 68.01,174.78 71.53,174.78 75.05,174.29 78.57,173.52 81.3,172.92 84.03,172.32 86.76,171.71 89.5,171.09 92.23,170.47 94.96,169.84 97.69,169.2 100.42,168.56 103.15,167.92 105.88,167.27 108.62,166.61 111.35,165.94 114.08,165.28 116.81,164.6 119.54,163.92 122.27,163.23 125,162.54 127.74,161.84 130.47,161.14 133.2,160.42 135.93,159.71 138.66,158.99 141.39,158.26 144.12,157.52 146.86,156.78 146.86,142.45 144.12,143.46 141.39,144.48 138.66,145.51 135.93,146.55 133.2,147.59 130.47,148.64 127.74,149.68 125,150.73 122.27,151.77 119.54,152.81 116.81,153.85 114.08,154.89 111.35,155.92 108.62,156.94 105.88,157.96 103.15,158.98 100.42,159.99 97.69,160.99 94.96,161.99 92.23,162.98 89.5,163.96 86.76,164.94 84.03,165.91 81.3,166.88 78.57,167.84 75.05,169.07 71.53,170.29 68.01,171.5 64.48,172.7 60.96,173.88 57.44,174.78"/>
<polygon fill="#4561fc" points="57.44,174.78 60.96,174.78 64.48,174.78 68.01,174.78 71.53,174.78 75.05,174.29 78.57,173.52 81.3,172.92 84.03,172.32 86.76,171.71 89.5,171.09 92.23,170.47 94.96,169.84 97.69,169.2 100.42,168.56 103.15,167.92 105.88,167.27 108.62,166.61 111.35,165.94 114.08,165.28 116.81,164.6 119.54,163.92 122.27,163.23 125,162.54 127.74,161.84 130.47,161.14 133.2,160.42 135.93,159.71 138.66,158.99 141.39,158.26 144.12,157.52 146.86,156.78 146.86,142.67 144.12,143.68 141.39,144.7 138.66,145.73 135.93,146.76 133.2,147.8 130.47,148.83 127.74,149.87 125,150.91 122.27,151.95 119.54,152.99 116.81,154.02 114.08,155.05 111.35,156.08 108.62,157.1 105.88,158.11 103.15,159.12 100.42,160.12 97.69,161.12 94.96,162.11 92.23,163.09 89.5,164.07 86.76,165.04 84.03,166.01 81.3,166.97 78.57,167.93 75.05,169.15 71.53,170.36 68.01,171.56 64.48,172.75 60.96,173.93 57.44,174.78"/>
<polygon fill="#4563fd" points="57.44,174.78 60.96,174.78 64.48,174.78 68.01,174.78 71.53,174.78 75.05,174.29 78.57,173.52 81.3,172.92 84.03,172.32 86.76,171.71 89.5,171.09 92.23,170.47 94.96,169.84 97.69,169.2 100.42,168.56 103.15,167.92 105.88,167.27 108.62,166.61 111.35,165.94 114.08,165.28 116.81,164.6 119.54,163.92 122.27,163.23 125,162.54 127.74,161.84 130.47,161.14 133.2,160.42 135.93,159.71 138.66,158.99 141.39,158.26 144.12,157.52 146.86,156.78 146.86,142.88 144.12,143.89 141.39,144.91 138.66,145.93 135.93,146.96 133.2,147.99 130.47,149.03 127.74,150.06 125,151.09 122.27,152.13 119.54,153.16 116.81,154.18 114.08,155.21 111.35,156.23 108.62,157.24 105.88,158.25 103.15,159.25 100.42,160.25 97.69,161.24 94.96,162.23 92.23,163.21 89.5,164.18 86.76,165.15 84.03,166.11 81.3,167.06 78.57,168.01 75.05,169.22 71.53,170.43 68.01,171.62 64.48,172.81 60.96,173.98 57.44,174.78"/>
<polygon fill="#4465fd" points="57.44,174.78 60.96,174.78 64.48,174.78 68.01,174.78 71.53,174.78 75.05,174.29 78.57,173.52 81.3,172.92 84.03,172.32 86.76,171.71 89.5,171.09 92.23,170.47 94.96,169.84 97.69,169.2 100.42,168.56 103.15,167.92 105.88,167.27 108.62,166.61 111.35,165.94 114.08,165.28 116.81,164.6 119.54,163.92 122.27,163.23 125,162.54 127.74,161.84 130.47,161.14 133.2,160.42 135.93,159.71 138.66,158.99 141.39,158.26 144.12,157.52 146.86,156.78 146.86,143.09 144.12,144.09 141.39,145.11 138.66,146.13 135.93,147.15 133.2,148.18 130.47,149.21 127.74,150.24 125,151.27 122.27,152.3 119.54,153.32 116.81,154.34 114.08,155.36 111.35,156.37 108.62,157.38 105.88,158.39 103.15,159.38 100.42,160.38 97.69,161.36 94.96,162.34 92.23,163.31 89.5,164.28 86.76,165.24 84.03,166.2 81.3,167.15 78.57,168.09 75.05,169.3 71.53,170.49 68.01,171.68 64.48,172.86 60.96,174.02 57.44,174.78"/>
<polygon fill="#4466fd" points="57.44,174.78 60.96,174.78 64.48,174.78 68.01,174.78 71.53,174.78 75.05,174.29 78.57,173.52 81.3,172.92 84.03,172.32 86.76,171.71 89.5,171.09 92.23,170.47 94.96,169.84 97.69,169.2 100.42,168.56 103.15,167.92 105.88,167.27 108.62,166.61 111.35,165.94 114.08,165.28 116.81,164.6 119.54,163.92 122.27,163.23 125,162.54 127.74,161.84 130.47,161.14 133.2,160.42 135.93,159.71 138.66,158.99 141.39,158.26 144.12,157.52 146.86,156.78 146.86,143.29 144.12,144.29 141.39,145.3 138.66,146.32 135.93,147.34 133.2,148.36 130.47,149.39 127.74,150.41 125,151.44 122.27,152.46 119.54,153.48 116.81,154.49 114.08,155.51 111.35,156.52 108.62,157.52 105.88,158.52 103.15,159.51 100.42,160.5 97.69,161.48 94.96,162.45 92.23,163.42 89.5,164.38 86.76,165.34 84.03,166.29 81.3,167.23 78.57,168.17 75.05,169.37 71.53,170.56 68.01,171.74 64.48,172.91 60.96,174.07 57.44,174.78"/>
<polygon fill="#4368fe" points="57.44,174.78 60.96,174.78 64.48,174.78 68.01,174.78 71.53,174.78 75.05,174.29 78.57,173.52 81.3,172.92 84.03,172.32 86.76,171.71 89.5,171.09 92.23,170.47 94.96,169.84 97.69,169.2 100.42,168.56 103.15,167.92 105.88,167.27 108.62,166.61 111.35,165.94 114.08,165.28 116.81,164.6 119.54,163.92 122.27,163.23 125,162.54 127.74,161.84 130.47,161.14 133.2,160.42 135.93,159.71 138.66,158.99 141.39,158.26 144.12,157.52 146.86,156.78 146.86,143.48 144.12,144.48 141.39,145.49 138.66,146.5 135.93,147.52 133.2,148.54 130.47,149.56 127.74,150.58 125,151.6 122.27,152.62 119.54,153.63 116.81,154.64 114.08,155.65 111.35,156.65 108.62,157.65 105.88,158.64 103.15,159.63 100.42,160.61 97.69,161.59 94.96,162.56 92.23,163.52 89.5,164.48 86.76,165.43 84.03,166.37 81.3,167.31 78.57,168.24 75.05,169.44 71.53,170.62 68.01,171.79 64.48,172.96 60.96,174.11 57.44,174.78"/>
<polygon fill="#426afe" points="57.44,174.78 60.96,174.78 64.48,174.78 68.01,174.78 71.53,174.78 75.05,174.29 78.57,173.52 81.3,172.92 84.03,172.32 86.76,171.71 89.5,171.09 92.23,170.47 94.96,169.84 97.69,169.2 100.42,168.56 103.15,167.92 105.88,167.27 108.62,166.61 111.35,165.94 114.08,165.28 116.81,164.6 119.54,163.92 122.27,163.23 125,162.54 127.74,161.84 130.47,161.14 133.2,160.42 135.93,159.71 138.66,158.99 141.39,158.26 144.12,157.52 146.86,156.78 146.86,143.67 144.12,144.67 141.39,145.67 138.66,146.68 135.93,147.69 133.2,148.71 130.47,149.72 127.74,150.74 125,151.75 122.27,152.77 119.54,153.78 116.81,154.78 114.08,155.79 111.35,156.79 108.62,157.78 105.88,158.77 103.15,159.75 100.42,160.72 97.69,161.69 94.96,162.66 92.23,163.62 89.5,164.57 86.76,165.51 84.03,166.45 81.3,167.39 78.57,168.31 75.05,169.5 71.53,170.68 68.01,171.85 64.48,173 60.96,174.15 57.44,174.78"/>
<polygon fill="#416bfe" points="57.44,174.78 60.96,174.78 64.48,174.78 68.01,174.78 71.53,174.78 75.05,174.29 78.57,173.52 81.3,172.92 84.03,172.32 86.76,171.71 89.5,171.09 92.23,170.47 94.96,169.84 97.69,169.2 100.42,168.56 103.15,167.92 105.88,167.27 108.62,166.61 111.35,165.94 114.08,165.28 116.81,164.6 119.54,163.92 122.27,163.23 125,162.54 127.74,161.84 130.47,161.14 133.2,160.42 135.93,159.71 138.66,158.99 141.39,158.26 144.12,157.52 146.86,156.78 146.86,143.85 144.12,144.85 141.39,145.85 138.66,146.85 135.93,147.86 133.2,148.87 130.47,149.88 127.74,150.9 125,151.91 122.27,152.91 119.54,153.92 116.81,154.92 114.08,155.92 111.35,156.91 108.62,157.9 105.88,158.88 103.15,159.86 100.42,160.83 97.69,161.8 94.96,162.76 92.23,163.71 89.5,164.66 86.76,165.6 84.03,166.53 81.3,167.46 78.57,168.38 75.05,169.57 71.53,170.74 68.01,171.9 64.48,173.05 60.96,174.19 57.44,174.78"/>
<polygon fill="#406dfe" points="57.44,174.78 60.96,174.78 64.48,174.78 68.01,174.78 71.53,174.78 75.05,174.29 78.57,173.52 81.3,172.92 84.03,172.32 86.76,171.71 89.5,171.09 92.23,170.47 94.96,169.84 97.69,169.2 100.42,168.56 103.15,167.92 105.88,167.27 108.62,166.61 111.35,165.94 114.08,165.28 116.81,164.6 119.54,163.92 122.27,163.23 125,162.54 127.74,161.84 130.47,161.14 133.2,160.42 135.93,159.71 138.66,158.99 141.39,158.26 144.12,157.52 146.86,156.78 146.86,144.03 144.12,145.02 141.39,146.02 138.66,147.02 135.93,148.02 133.2,149.03 130.47,150.04 127.74,151.05 125,152.05 122.27,153.06 119.54,154.06 116.81,155.05 114.08,156.05 111.35,157.04 108.62,158.02 105.88,159 103.15,159.97 100.42,160.94 97.69,161.9 94.96,162.85 92.23,163.8 89.5,164.74 86.76,165.68 84.03,166.61 81.3,167.53 78.57,168.45 75.05,169.63 71.53,170.79 68.01,171.95 64.48,173.09 60.96,174.23 57.44,174.78"/>
<polygon fill="#3f6fff" points="57.44,174.78 60.96,174.78 64.48,174.78 68.01,174.78 71.53,174.78 75.05,174.29 78.57,173.52 81.3,172.92 84.03,172.32 86.76,171.71 89.5,171.09 92.23,170.47 94.96,169.84 97.69,169.2 100.42,168.56 103.15,167.92 105.88,167.27 108.62,166.61 111.35,165.94 114.08,165.28 116.81,164.6 119.54,163.92 122.27,163.23 125,162.54 127.74,161.84 130.47,161.14 133.2,160.42 135.93,159.71 138.66,158.99 141.39,158.26 144.12,157.52 146.86,156.78 146.86,144.2 144.12,145.19 141.39,146.18 138.66,147.18 135.93,148.18 133.2,149.19 130.47,150.19 127.74,151.19 125,152.19 122.27,153.19 119.54,154.19 116.81,155.18 114.08,156.17 111.35,157.16 108.62,158.14 105.88,159.11 103.15,160.08 100.42,161.04 97.69,162 94.96,162.94 92.23,163.89 89.5,164.83 86.76,165.76 84.03,166.68 81.3,167.6 78.57,168.52 75.05,169.69 71.53,170.85 68.01,172 64.48,173.13 60.96,174.26 57.44,174.78"/>
<polygon fill="#3d70ff" points="57.44,174.78 60.96,174.78 64.48,174.78 68.01,174.78 71.53,174.78 75.05,174.29 78.57,173.52 81.3,172.92 84.03,172.32 86.76,171.71 89.5,171.09 92.23,170.47 94.96,169.84 97.69,169.2 100.42,168.56 103.15,167.92 105.88,167.27 108.62,166.61 111.35,165.94 114.08,165.28 116.81,164.6 119.54,163.92 122.27,163.23 125,162.54 127.74,161.84 130.47,161.14 133.2,160.42 135.93,159.71 138.66,158.99 141.39,158.26 144.12,157.52 146.86,156.78 146.86,144.36 144.12,145.35 141.39,146.34 138.66,147.34 135.93,148.33 133.2,149.33 130.47,150.33 127.74,151.33 125,152.33 122.27,153.33 119.54,154.32 116.81,155.31 114.08,156.29 111.35,157.27 108.62,158.25 105.88,159.22 103.15,160.18 100.42,161.14 97.69,162.09 94.96,163.03 92.23,163.97 89.5,164.91 86.76,165.84 84.03,166.76 81.3,167.67 78.57,168.58 75.05,169.75 71.53,170.9 68.01,172.04 64.48,173.18 60.96,174.3 57.44,174.78"/>
<polygon fill="#3b72ff" points="57.44,174.78 60.96,174.78 64.48,174.78 68.01,174.78 71.53,174.78 75.05,174.29 78.57,173.52 81.3,172.92 84.03,172.32 86.76,171.71 89.5,171.09 92.23,170.47 94.96,169.84 97.69,169.2 100.42,168.56 103.15,167.92 105.88,167.27 108.62,166.61 111.35,165.94 114.08,165.28 116.81,164.6 119.54,163.92 122.27,163.23 125,162.54 127.74,161.84 130.47,161.14 133.2,160.42 135.93,159.71 138.66,158.99 141.39,158.26 144.12,157.52 146.86,156.78 146.86,144.52 144.12,145.51 141.39,146.49 138.66,147.49 135.93,148.48 133.2,149.48 130.47,150.48 127.74,151.47 125,152.47 122.27,153.46 119.54,154.45 116.81,155.43 114.08,156.41 111.35,157.39 108.62,158.36 105.88,159.32 103.15,160.28 100.42,161.23 97.69,162.18 94.96,163.12 92.23,164.06 89.5,164.99 86.76,165.91 84.03,166.83 81.3,167.74 78.57,168.64 75.05,169.8 71.53,170.95 68.01,172.09 64.48,173.22 60.96,174.33 57.44,174.78"/>
<polygon fill="#3a74fe" points="57.44,174.78 60.96,174.78 64.48,174.78 68.01,174.78 71.53,174.78 75.05,174.29 78.57,173.52 81.3,172.92 84.03,172.32 86.76,171.71 89.5,171.09 92.23,170.47 94.96,169.84 97.69,169.2 100.42,168.56 103.15,167.92 105.88,167.27 108.62,166.61 111.35,165.94 114.08,165.28 116.81,164.6 119.54,163.92 122.27,163.23 125,162.54 127.74,161.84 130.47,161.14 133.2,160.42 135.93,159.71 138.66,158.99 141.39,158.26 144.12,157.52 146.86,156.78 146.86,144.68 144.12,145.66 141.39,146.64 138.66,147.63 135.93,148.63 133.2,149.62 130.47,150.61 127.74,151.6 125,152.59 122.27,153.58 119.54,154.57 116.81,155.55 114.08,156.52 111.35,157.5 108.62,158.46 105.88,159.42 103.15,160.38 100.42,161.33 97.69,162.27 94.96,163.21 92.23,164.14 89.5,165.06 86.76,165.98 84.03,166.89 81.3,167.8 78.57,168.7 75.05,169.86 71.53,171 68.01,172.13 64.48,173.25 60.96,174.37 57.44,174.78"/>
<polygon fill="#3876fe" points="57.44,174.78 60.96,174.78 64.48,174.78 68.01,174.78 71.53,174.78 75.05,174.29 78.57,173.52 81.3,172.92 84.03,172.32 86.76,171.71 89.5,171.09 92.23,170.47 94.96,169.84 97.69,169.2 100.42,168.56 103.15,167.92 105.88,167.27 108.62,166.61 111.35,165.94 114.08,165.28 116.81,164.6 119.54,163.92 122.27,163.23 125,162.54 127.74,161.84 130.47,161.14 133.2,160.42 135.93,159.71 138.66,158.99 141.39,158.26 144.12,157.52 146.86,156.78 146.86,144.83 144.12,145.81 141.39,146.79 138.66,147.78 135.93,148.77 133.2,149.76 130.47,150.75 127.74,151.73 125,152.72 122.27,153.7 119.54,154.68 116.81,155.66 114.08,156.63 111.35,157.6 108.62,158.56 105.88,159.52 103.15,160.47 100.42,161.42 97.69,162.36 94.96,163.29 92.23,164.22 89.5,165.14 86.76,166.05 84.03,166.96 81.3,167.86 78.57,168.76 75.05,169.91 71.53,171.05 68.01,172.17 64.48,173.29 60.96,174.4 57.44,174.78"/>
<polygon fill="#3677fe" points="57.44,174.78 60.96,174.78 64.48,174.78 68.01,174.78 71.53,174.78 75.05,174.29 78.57,173.52 81.3,172.92 84.03,172.32 86.76,171.71 89.5,171.09 92.23,170.47 94.96,169.84 97.69,169.2 100.42,168.56 103.15,167.92 105.88,167.27 108.62,166.61 111.35,165.94 114.08,165.28 116.81,164.6 119.54,163.92 122.27,163.23 125,162.54 127.74,161.84 130.47,161.14 133.2,160.42 135.93,159.71 138.66,158.99 141.39,158.26 144.12,157.52 146.86,156.78 146.86,144.98 144.12,145.95 141.39,146.93 138.66,147.92 135.93,148.9 133.2,149.89 130.47,150.87 127.74,151.86 125,152.84 122.27,153.82 119.54,154.8 116.81,155.77 114.08,156.74 111.35,157.7 108.62,158.66 105.88,159.62 103.15,160.56 100.42,161.5 97.69,162.44 94.96,163.37 92.23,164.29 89.5,165.21 86.76,166.12 84.03,167.02 81.3,167.92 78.57,168.82 75.05,169.96 71.53,171.09 68.01,172.22 64.48,173.33 60.96,174.43 57.44,174.78"/>
<polygon fill="#3479fd" points="57.44,174.78 60.96,174.78 64.48,174.78 68.01,174.78 71.53,174.78 75.05,174.29 78.57,173.52 81.3,172.92 84.03,172.32 86.76,171.71 89.5,171.09 92.23,170.47 94.96,169.84 97.69,169.2 100.42,168.56 103.15,167.92 105.88,167.27 108.62,166.61 111.35,165.94 114.08,165.28 116.81,164.6 119.54,163.92 122.27,163.23 125,162.54 127.74,161.84 130.47,161.14 133.2,160.42 135.93,159.71 138.66,158.99 141.39,158.26 144.12,157.52 146.86,156.78 146.86,145.12 144.12,146.09 141.39,147.07 138.66,148.05 135.93,149.03 133.2,150.02 130.47,151 127.74,151.98 125,152.96 122.27,153.94 119.54,154.91 116.81,155.88 114.08,156.84 111.35,157.8 108.62,158.76 105.88,159.71 103.15,160.65 100.42,161.59 97.69,162.52 94.96,163.44 92.23,164.36 89.5,165.28 86.76,166.19 84.03,167.09 81.3,167.98 78.57,168.87 75.05,170.01 71.53,171.14 68.01,172.26 64.48,173.36 60.96,174.46 57.44,174.78"/>
<polygon fill="#317efb" points="57.44,174.78 60.96,174.78 64.48,174.78 68.01,174.78 71.53,174.78 75.05,174.29 78.57,173.52 81.3,172.92 84.03,172.32 86.76,171.71 89.5,171.09 92.23,170.47 94.96,169.84 97.69,169.2 100.42,168.56 103.15,167.92 105.88,167.27 108.62,166.61 111.35,165.94 114.08,165.28 116.81,164.6 119.54,163.92 122.27,163.23 125,162.54 127.74,161.84 130.47,161.14 133.2,160.42 135.93,159.71 138.66,158.99 141.39,158.26 144.12,157.52 146.86,156.78 146.86,145.26 144.12,146.23 141.39,147.2 138.66,148.18 135.93,149.16 133.2,150.14 130.47,151.12 127.74,152.1 125,153.08 122.27,154.05 119.54,155.02 116.81,155.98 114.08,156.94 111.35,157.9 108.62,158.85 105.88,159.8 103.15,160.74 100.42,161.67 97.69,162.6 94.96,163.52 92.23,164.44 89.5,165.35 86.76,166.25 84.03,167.15 81.3,168.04 78.57,168.92 75.05,170.06 71.53,171.18 68.01,172.29 64.48,173.4 60.96,174.49 57.44,174.78"/>
<polygon fill="#2e86f7" points="57.44,174.78 60.96,174.78 64.48,174.78 68.01,174.78 71.53,174.78 75.05,174.29 78.57,173.52 81.3,172.92 84.03,172.32 86.76,171.71 89.5,171.09 92.23,170.47 94.96,169.84 97.69,169.2 100.42,168.56 103.15,167.92 105.88,167.27 108.62,166.61 111.35,165.94 114.08,165.28 116.81,164.6 119.54,163.92 122.27,163.23 125,162.54 127.74,161.84 130.47,161.14 133.2,160.42 135.93,159.71 138.66,158.99 141.39,158.26 144.12,157.52 146.86,156.78 146.86,145.91 144.12,146.87 141.39,147.83 138.66,148.8 135.93,149.76 133.2,150.73 130.47,151.69 127.74,152.65 125,153.61 122.27,154.57 119.54,155.52 116.81,156.47 114.08,157.42 111.35,158.36 108.62,159.29 105.88,160.22 103.15,161.14 100.42,162.06 97.69,162.97 94.96,163.87 92.23,164.77 89.5,165.66 86.76,166.55 84.03,167.43 81.3,168.3 78.57,169.17 75.05,170.28 71.53,171.39 68.01,172.48 64.48,173.56 60.96,174.63 57.44,174.78"/>
<polygon fill="#2c8ef1" points="57.44,174.78 60.96,174.78 64.48,174.78 68.01,174.78 71.53,174.78 75.05,174.29 78.57,173.52 81.3,172.92 84.03,172.32 86.76,171.71 89.5,171.09 92.23,170.47 94.96,169.84 97.69,169.2 100.42,168.56 103.15,167.92 105.88,167.27 108.62,166.61 111.35,165.94 114.08,165.28 116.81,164.6 119.54,163.92 122.27,163.23 125,162.54 127.74,161.84 130.47,161.14 133.2,160.42 135.93,159.71 138.66,158.99 141.39,158.26 144.12,157.52 146.86,156.78 146.86,146.48 144.12,147.43 141.39,148.38 138.66,149.33 135.93,150.29 133.2,151.24 130.47,152.19 127.74,153.14 125,154.09 122.27,155.03 119.54,155.97 116.81,156.9 114.08,157.83 111.35,158.75 108.62,159.67 105.88,160.59 103.15,161.49 100.42,162.39 97.69,163.29 94.96,164.18 92.23,165.06 89.5,165.94 86.76,166.81 84.03,167.68 81.3,168.54 78.57,169.39 75.05,170.48 71.53,171.56 68.01,172.64 64.48,173.7 60.96,174.75 57.44,174.78"/>
<polygon fill="#2895ec" points="60.96,174.78 64.48,174.78 68.01,174.78 71.53,174.78 75.05,174.29 78.57,173.52 81.3,172.92 84.03,172.32 86.76,171.71 89.5,171.09 92.23,170.47 94.96,169.84 97.69,169.2 100.42,168.56 103.15,167.92 105.88,167.27 108.62,166.61 111.35,165.94 114.08,165.28 116.81,164.6 119.54,163.92 122.27,163.23 125,162.54 127.74,161.84 130.47,161.14 133.2,160.42 135.93,159.71 138.66,158.99 141.39,158.26 144.12,157.52 146.86,156.78 146.86,146.98 144.12,147.92 141.39,148.87 138.66,149.81 135.93,150.75 133.2,151.69 130.47,152.63 127.74,153.57 125,154.5 122.27,155.43 119.54,156.36 116.81,157.28 114.08,158.2 111.35,159.11 108.62,160.01 105.88,160.91 103.15,161.81 100.42,162.69 97.69,163.57 94.96,164.45 92.23,165.32 89.5,166.19 86.76,167.04 84.03,167.9 81.3,168.74 78.57,169.58 75.05,170.66 71.53,171.72 68.01,172.78 64.48,173.82 60.96,174.78"/>
<polygon fill="#259ce7" points="60.96,174.78 64.48,174.78 68.01,174.78 71.53,174.78 75.05,174.29 78.57,173.52 81.3,172.92 84.03,172.32 86.76,171.71 89.5,171.09 92.23,170.47 94.96,169.84 97.69,169.2 100.42,168.56 103.15,167.92 105.88,167.27 108.62,166.61 111.35,165.94 114.08,165.28 116.81,164.6 119.54,163.92 122.27,163.23 125,162.54 127.74,161.84 130.47,161.14 133.2,160.42 135.93,159.71 138.66,158.99 141.39,158.26 144.12,157.52 146.86,156.78 146.86,147.38 144.12,148.32 141.39,149.26 138.66,150.21 135.93,151.14 133.2,152.08 130.47,153.01 127.74,153.94 125,154.87 122.27,155.79 119.54,156.7 116.81,157.61 114.08,158.52 111.35,159.42 108.62,160.31 105.88,161.2 103.15,162.08 100.42,162.96 97.69,163.83 94.96,164.69 92.23,165.55 89.5,166.4 86.76,167.25 84.03,168.09 81.3,168.92 78.57,169.75 75.05,170.81 71.53,171.86 68.01,172.9 64.48,173.93 60.96,174.78"/>
<polygon fill="#21a3e3" points="60.96,174.78 64.48,174.78 68.01,174.78 71.53,174.78 75.05,174.29 78.57,173.52 81.3,172.92 84.03,172.32 86.76,171.71 89.5,171.09 92.23,170.47 94.96,169.84 97.69,169.2 100.42,168.56 103.15,167.92 105.88,167.27 108.62,166.61 111.35,165.94 114.08,165.28 116.81,164.6 119.54,163.92 122.27,163.23 125,162.54 127.74,161.84 130.47,161.14 133.2,160.42 135.93,159.71 138.66,158.99 141.39,158.26 144.12,157.52 146.86,156.78 146.86,147.66 144.12,148.6 141.39,149.54 138.66,150.47 135.93,151.4 133.2,152.33 130.47,153.26 127.74,154.18 125,155.1 122.27,156.01 119.54,156.92 116.81,157.82 114.08,158.72 111.35,159.61 108.62,160.5 105.88,161.38 103.15,162.25 100.42,163.12 97.69,163.99 94.96,164.84 92.23,165.69 89.5,166.54 86.76,167.38 84.03,168.21 81.3,169.04 78.57,169.86 75.05,170.91 71.53,171.95 68.01,172.98 64.48,174 60.96,174.78"/>
<polygon fill="#1ca9df" points="60.96,174.78 64.48,174.78 68.01,174.78 71.53,174.78 75.05,174.29 78.57,173.52 81.3,172.92 84.03,172.32 86.76,171.71 89.5,171.09 92.23,170.47 94.96,169.84 97.69,169.2 100.42,168.56 103.15,167.92 105.88,167.27 108.62,166.61 111.35,165.94 114.08,165.28 116.81,164.6 119.54,163.92 122.27,163.23 125,162.54 127.74,161.84 130.47,161.14 133.2,160.42 135.93,159.71 138.66,158.99 141.39,158.26 144.12,157.52 146.86,156.78 146.86,147.92 144.12,148.85 141.39,149.79 138.66,150.72 135.93,151.64 133.2,152.57 130.47,153.48 127.74,154.4 125,155.31 122.27,156.22 119.54,157.12 116.81,158.01 114.08,158.9 111.35,159.79 108.62,160.67 105.88,161.54 103.15,162.41 100.42,163.27 97.69,164.13 94.96,164.98 92.23,165.82 89.5,166.66 86.76,167.5 84.03,168.32 81.3,169.14 78.57,169.96 75.05,171 71.53,172.03 68.01,173.05 64.48,174.07 60.96,174.78"/>
<polygon fill="#15afd9" points="60.96,174.78 64.48,174.78 68.01,174.78 71.53,174.78 75.05,174.29 78.57,173.52 81.3,172.92 84.03,172.32 86.76,171.71 89.5,171.09 92.23,170.47 94.96,169.84 97.69,169.2 100.42,168.56 103.15,167.92 105.88,167.27 108.62,166.61 111.35,165.94 114.08,165.28 116.81,164.6 119.54,163.92 122.27,163.23 125,162.54 127.74,161.84 130.47,161.14 133.2,160.42 135.93,159.71 138.66,158.99 141.39,158.26 144.12,157.52 146.86,156.78 146.86,148.16 144.12,149.09 141.39,150.01 138.66,150.94 135.93,151.86 133.2,152.78 130.47,153.69 127.74,154.6 125,155.51 122.27,156.41 119.54,157.3 116.81,158.19 114.08,159.07 111.35,159.95 108.62,160.83 105.88,161.69 103.15,162.56 100.42,163.41 97.69,164.26 94.96,165.11 92.23,165.94 89.5,166.78 86.76,167.6 84.03,168.42 81.3,169.24 78.57,170.05 75.05,171.08 71.53,172.11 68.01,173.12 64.48,174.12 60.96,174.78"/>
<polygon fill="#08b4d1" points="60.96,174.78 64.48,174.78 68.01,174.78 71.53,174.78 75.05,174.29 78.57,173.52 81.3,172.92 84.03,172.32 86.76,171.71 89.5,171.09 92.23,170.47 94.96,169.84 97.69,169.2 100.42,168.56 103.15,167.92 105.88,167.27 108.62,166.61 111.35,165.94 114.08,165.28 116.81,164.6 119.54,163.92 122.27,163.23 125,162.54 127.74,161.84 130.47,161.14 133.2,160.42 135.93,159.71 138.66,158.99 141.39,158.26 144.12,157.52 146.86,156.78 146.86,148.38 144.12,149.3 141.39,150.23 138.66,151.14 135.93,152.06 133.2,152.97 130.47,153.88 127.74,154.79 125,155.68 122.27,156.58 119.54,157.47 116.81,158.35 114.08,159.23 111.35,160.1 108.62,160.97 105.88,161.83 103.15,162.69 100.42,163.54 97.69,164.38 94.96,165.22 92.23,166.06 89.5,166.88 86.76,167.7 84.03,168.52 81.3,169.33 78.57,170.13 75.05,171.16 71.53,172.17 68.01,173.18 64.48,174.18 60.96,174.78"/>
<polygon fill="#01b9c8" points="60.96,174.78 64.48,174.78 68.01,174.78 71.53,174.78 75.05,174.29 78.57,173.52 81.3,172.92 84.03,172.32 86.76,171.71 89.5,171.09 92.23,170.47 94.96,169.84 97.69,169.2 100.42,168.56 103.15,167.92 105.88,167.27 108.62,166.61 111.35,165.94 114.08,165.28 116.81,164.6 119.54,163.92 122.27,163.23 125,162.54 127.74,161.84 130.47,161.14 133.2,160.42 135.93,159.71 138.66,158.99 141.39,158.26 144.12,157.52 146.86,156.78 146.86,148.58 144.12,149.5 141.39,150.42 138.66,151.34 135.93,152.25 133.2,153.15 130.47,154.06 127.74,154.96 125,155.85 122.27,156.74 119.54,157.62 116.81,158.5 114.08,159.38 111.35,160.24 108.62,161.11 105.88,161.96 103.15,162.81 100.42,163.66 97.69,164.5 94.96,165.33 92.23,166.16 89.5,166.98 86.76,167.79 84.03,168.6 81.3,169.41 78.57,170.21 75.05,171.23 71.53,172.23 68.01,173.24 64.48,174.23 60.96,174.78"/>
<polygon fill="#09bcbe" points="60.96,174.78 64.48,174.78 68.01,174.78 71.53,174.78 75.05,174.29 78.57,173.52 81.3,172.92 84.03,172.32 86.76,171.71 89.5,171.09 92.23,170.47 94.96,169.84 97.69,169.2 100.42,168.56 103.15,167.92 105.88,167.27 108.62,166.61 111.35,165.94 114.08,165.28 116.81,164.6 119.54,163.92 122.27,163.23 125,162.54 127.74,161.84 130.47,161.14 133.2,160.42 135.93,159.71 138.66,158.99 141.39,158.26 144.12,157.52 146.86,156.78 146.86,148.77 144.12,149.69 141.39,150.6 138.66,151.51 135.93,152.42 133.2,153.32 130.47,154.22 127.74,155.11 125,156 122.27,156.89 119.54,157.77 116.81,158.64 114.08,159.51 111.35,160.37 108.62,161.23 105.88,162.08 103.15,162.93 100.42,163.77 97.69,164.6 94.96,165.43 92.23,166.25 89.5,167.07 86.76,167.88 84.03,168.68 81.3,169.48 78.57,170.28 75.05,171.29 71.53,172.29 68.01,173.29 64.48,174.27 60.96,174.78"/>
<polygon fill="#1bc0b4" points="60.96,174.78 64.48,174.78 68.01,174.78 71.53,174.78 75.05,174.29 78.57,173.52 81.3,172.92 84.03,172.32 86.76,171.71 89.5,171.09 92.23,170.47 94.96,169.84 97.69,169.2 100.42,168.56 103.15,167.92 105.88,167.27 108.62,166.61 111.35,165.94 114.08,165.28 116.81,164.6 119.54,163.92 122.27,163.23 125,162.54 127.74,161.84 130.47,161.14 133.2,160.42 135.93,159.71 138.66,158.99 141.39,158.26 144.12,157.52 146.86,156.78 146.86,148.95 144.12,149.86 141.39,150.77 138.66,151.68 135.93,152.58 133.2,153.48 130.47,154.37 127.74,155.26 125,156.15 122.27,157.03 119.54,157.9 116.81,158.77 114.08,159.64 111.35,160.49 108.62,161.35 105.88,162.19 103.15,163.04 100.42,163.87 97.69,164.7 94.96,165.52 92.23,166.34 89.5,167.15 86.76,167.96 84.03,168.76 81.3,169.55 78.57,170.34 75.05,171.35 71.53,172.35 68.01,173.33 64.48,174.31 60.96,174.78"/>
<polygon fill="#29c3aa" points="60.96,174.78 64.48,174.78 68.01,174.78 71.53,174.78 75.05,174.29 78.57,173.52 81.3,172.92 84.03,172.32 86.76,171.71 89.5,171.09 92.23,170.47 94.96,169.84 97.69,169.2 100.42,168.56 103.15,167.92 105.88,167.27 108.62,166.61 111.35,165.94 114.08,165.28 116.81,164.6 119.54,163.92 122.27,163.23 125,162.54 127.74,161.84 130.47,161.14 133.2,160.42 135.93,159.71 138.66,158.99 141.39,158.26 144.12,157.52 146.86,156.78 146.86,149.18 144.12,150.09 141.39,150.98 138.66,151.88 135.93,152.78 133.2,153.67 130.47,154.55 127.74,155.44 125,156.31 122.27,157.19 119.54,158.06 116.81,158.92 114.08,159.78 111.35,160.63 108.62,161.48 105.88,162.32 103.15,163.16 100.42,163.99 97.69,164.81 94.96,165.63 92.23,166.44 89.5,167.25 86.76,168.05 84.03,168.84 81.3,169.63 78.57,170.41 75.05,171.42 71.53,172.41 68.01,173.39 64.48,174.36 60.96,174.78"/>
<polygon fill="#32c69f" points="60.96,174.78 64.48,174.78 68.01,174.78 71.53,174.78 75.05,174.29 78.57,173.52 81.3,172.92 84.03,172.32 86.76,171.71 89.5,171.09 92.23,170.47 94.96,169.84 97.69,169.2 100.42,168.56 103.15,167.92 105.88,167.27 108.62,166.61 111.35,165.94 114.08,165.28 116.81,164.6 119.54,163.92 122.27,163.23 125,162.54 127.74,161.84 130.47,161.14 133.2,160.42 135.93,159.71 138.66,158.99 141.39,158.26 144.12,157.52 146.86,156.78 146.86,149.41 144.12,150.3 141.39,151.2 138.66,152.09 135.93,152.98 133.2,153.86 130.47,154.75 127.74,155.62 125,156.5 122.27,157.36 119.54,158.23 116.81,159.09 114.08,159.94 111.35,160.79 108.62,161.63 105.88,162.46 103.15,163.29 100.42,164.12 97.69,164.94 94.96,165.75 92.23,166.55 89.5,167.36 86.76,168.15 84.03,168.94 81.3,169.72 78.57,170.5 75.05,171.49 71.53,172.47 68.01,173.45 64.48,174.41 60.96,174.78"/>
<polygon fill="#3bc992" points="60.96,174.78 64.48,174.78 68.01,174.78 71.53,174.78 75.05,174.29 78.57,173.52 81.3,172.92 84.03,172.32 86.76,171.71 89.5,171.09 92.23,170.47 94.96,169.84 97.69,169.2 100.42,168.56 103.15,167.92 105.88,167.27 108.62,166.61 111.35,165.94 114.08,165.28 116.81,164.6 119.54,163.92 122.27,163.23 125,162.54 127.74,161.84 130.47,161.14 133.2,160.42 135.93,159.71 138.66,158.99 141.39,158.26 144.12,157.52 146.86,156.78 146.86,149.62 144.12,150.51 141.39,151.4 138.66,152.29 135.93,153.17 133.2,154.05 130.47,154.93 127.74,155.8 125,156.67 122.27,157.53 119.54,158.39 116.81,159.24 114.08,160.09 111.35,160.93 108.62,161.77 105.88,162.6 103.15,163.42 100.42,164.24 97.69,165.05 94.96,165.86 92.23,166.66 89.5,167.45 86.76,168.24 84.03,169.03 81.3,169.8 78.57,170.58 75.05,171.56 71.53,172.54 68.01,173.5 64.48,174.46 60.96,174.78"/>
<polygon fill="#49cb85" points="60.96,174.78 64.48,174.78 68.01,174.78 71.53,174.78 75.05,174.29 78.57,173.52 81.3,172.92 84.03,172.32 86.76,171.71 89.5,171.09 92.23,170.47 94.96,169.84 97.69,169.2 100.42,168.56 103.15,167.92 105.88,167.27 108.62,166.61 111.35,165.94 114.08,165.28 116.81,164.6 119.54,163.92 122.27,163.23 125,162.54 127.74,161.84 130.47,161.14 133.2,160.42 135.93,159.71 138.66,158.99 141.39,158.26 144.12,157.52 146.86,156.78 146.86,149.81 144.12,150.7 141.39,151.58 138.66,152.47 135.93,153.35 133.2,154.22 130.47,155.09 127.74,155.96 125,156.82 122.27,157.68 119.54,158.54 116.81,159.38 114.08,160.23 111.35,161.06 108.62,161.89 105.88,162.72 103.15,163.54 100.42,164.35 97.69,165.16 94.96,165.96 92.23,166.76 89.5,167.55 86.76,168.33 84.03,169.11 81.3,169.88 78.57,170.65 75.05,171.63 71.53,172.6 68.01,173.56 64.48,174.51 60.96,174.78"/>
<polygon fill="#5ccc76" points="60.96,174.78 64.48,174.78 68.01,174.78 71.53,174.78 75.05,174.29 78.57,173.52 81.3,172.92 84.03,172.32 86.76,171.71 89.5,171.09 92.23,170.47 94.96,169.84 97.69,169.2 100.42,168.56 103.15,167.92 105.88,167.27 108.62,166.61 111.35,165.94 114.08,165.28 116.81,164.6 119.54,163.92 122.27,163.23 125,162.54 127.74,161.84 130.47,161.14 133.2,160.42 135.93,159.71 138.66,158.99 141.39,158.26 144.12,157.52 146.86,156.78 146.86,149.99 144.12,150.88 141.39,151.76 138.66,152.64 135.93,153.51 133.2,154.38 130.47,155.25 127.74,156.12 125,156.97 122.27,157.83 119.54,158.68 116.81,159.52 114.08,160.36 111.35,161.19 108.62,162.01 105.88,162.83 103.15,163.65 100.42,164.46 97.69,165.26 94.96,166.06 92.23,166.85 89.5,167.63 86.76,168.41 84.03,169.19 81.3,169.96 78.57,170.72 75.05,171.69 71.53,172.65 68.01,173.61 64.48,174.55 60.96,174.78"/>
<polygon fill="#6fcd66" points="60.96,174.78 64.48,174.78 68.01,174.78 71.53,174.78 75.05,174.29 78.57,173.52 81.3,172.92 84.03,172.32 86.76,171.71 89.5,171.09 92.23,170.47 94.96,169.84 97.69,169.2 100.42,168.56 103.15,167.92 105.88,167.27 108.62,166.61 111.35,165.94 114.08,165.28 116.81,164.6 119.54,163.92 122.27,163.23 125,162.54 127.74,161.84 130.47,161.14 133.2,160.42 135.93,159.71 138.66,158.99 141.39,158.26 144.12,157.52 146.86,156.78 146.86,150.16 144.12,151.04 141.39,151.92 138.66,152.8 135.93,153.67 133.2,154.54 130.47,155.4 127.74,156.26 125,157.11 122.27,157.96 119.54,158.81 116.81,159.64 114.08,160.48 111.35,161.31 108.62,162.13 105.88,162.94 103.15,163.75 100.42,164.56 97.69,165.36 94.96,166.15 92.23,166.94 89.5,167.72 86.76,168.49 84.03,169.26 81.3,170.02 78.57,170.78 75.05,171.75 71.53,172.71 68.01,173.65 64.48,174.59 60.96,174.78"/>
<polygon fill="#84cc56" points="60.96,174.78 64.48,174.78 68.01,174.78 71.53,174.78 75.05,174.29 78.57,173.52 81.3,172.92 84.03,172.32 86.76,171.71 89.5,171.09 92.23,170.47 94.96,169.84 97.69,169.2 100.42,168.56 103.15,167.92 105.88,167.27 108.62,166.61 111.35,165.94 114.08,165.28 116.81,164.6 119.54,163.92 122.27,163.23 125,162.54 127.74,161.84 130.47,161.14 133.2,160.42 135.93,159.71 138.66,158.99 141.39,158.26 144.12,157.52 146.86,156.78 146.86,150.31 144.12,151.19 141.39,152.07 138.66,152.94 135.93,153.81 133.2,154.68 130.47,155.54 127.74,156.39 125,157.24 122.27,158.09 119.54,158.93 116.81,159.76 114.08,160.59 111.35,161.42 108.62,162.23 105.88,163.05 103.15,163.85 100.42,164.65 97.69,165.45 94.96,166.23 92.23,167.02 89.5,167.79 86.76,168.56 84.03,169.33 81.3,170.09 78.57,170.84 75.05,171.8 71.53,172.76 68.01,173.7 64.48,174.63 60.96,174.78"/>
<polygon fill="#99c946" points="60.96,174.78 64.48,174.78 68.01,174.78 71.53,174.78 75.05,174.29 78.57,173.52 81.3,172.92 84.03,172.32 86.76,171.71 89.5,171.09 92.23,170.47 94.96,169.84 97.69,169.2 100.42,168.56 103.15,167.92 105.88,167.27 108.62,166.61 111.35,165.94 114.08,165.28 116.81,164.6 119.54,163.92 122.27,163.23 125,162.54 127.74,161.84 130.47,161.14 133.2,160.42 135.93,159.71 138.66,158.99 141.39,158.26 144.12,157.52 146.86,156.78 146.86,150.41 144.12,151.29 141.39,152.17 138.66,153.04 135.93,153.91 133.2,154.77 130.47,155.63 127.74,156.48 125,157.33 122.27,158.18 119.54,159.01 116.81,159.85 114.08,160.67 111.35,161.49 108.62,162.31 105.88,163.12 103.15,163.92 100.42,164.72 97.69,165.51 94.96,166.29 92.23,167.07 89.5,167.85 86.76,168.62 84.03,169.38 81.3,170.13 78.57,170.88 75.05,171.84 71.53,172.79 68.01,173.73 64.48,174.66 60.96,174.78"/>
<polygon fill="#adc638" points="60.96,174.78 64.48,174.78 68.01,174.78 71.53,174.78 75.05,174.29 78.57,173.52 81.3,172.92 84.03,172.32 86.76,171.71 89.5,171.09 92.23,170.47 94.96,169.84 97.69,169.2 100.42,168.56 103.15,167.92 105.88,167.27 108.62,166.61 111.35,165.94 114.08,165.28 116.81,164.6 119.54,163.92 122.27,163.23 125,162.54 127.74,161.84 130.47,161.14 133.2,160.42 135.93,159.71 138.66,158.99 141.39,158.26 144.12,157.52 146.86,156.78 146.86,150.52 144.12,151.39 141.39,152.27 138.66,153.14 135.93,154 133.2,154.86 130.47,155.72 127.74,156.57 125,157.42 122.27,158.26 119.54,159.09 116.81,159.92 114.08,160.74 111.35,161.56 108.62,162.37 105.88,163.18 103.15,163.98 100.42,164.78 97.69,165.56 94.96,166.35 92.23,167.12 89.5,167.9 86.76,168.66 84.03,169.42 81.3,170.17 78.57,170.92 75.05,171.88 71.53,172.82 68.01,173.76 64.48,174.68 60.96,174.78"/>
<polygon fill="#bfc32d" points="60.96,174.78 64.48,174.78 68.01,174.78 71.53,174.78 75.05,174.29 78.57,173.52 81.3,172.92 84.03,172.32 86.76,171.71 89.5,171.09 92.23,170.47 94.96,169.84 97.69,169.2 100.42,168.56 103.15,167.92 105.88,167.27 108.62,166.61 111.35,165.94 114.08,165.28 116.81,164.6 119.54,163.92 122.27,163.23 125,162.54 127.74,161.84 130.47,161.14 133.2,160.42 135.93,159.71 138.66,158.99 141.39,158.26 144.12,157.52 146.86,156.78 146.86,150.61 144.12,151.49 141.39,152.36 138.66,153.23 135.93,154.09 133.2,154.95 130.47,155.8 127.74,156.65 125,157.49 122.27,158.33 119.54,159.16 116.81,159.99 114.08,160.81 111.35,161.63 108.62,162.44 105.88,163.24 103.15,164.04 100.42,164.83 97.69,165.62 94.96,166.4 92.23,167.17 89.5,167.94 86.76,168.7 84.03,169.46 81.3,170.21 78.57,170.96 75.05,171.91 71.53,172.85 68.01,173.78 64.48,174.71 60.96,174.78"/>
<polygon fill="#d1bf27" points="60.96,174.78 64.48,174.78 68.01,174.78 71.53,174.78 75.05,174.29 78.57,173.52 81.3,172.92 84.03,172.32 86.76,171.71 89.5,171.09 92.23,170.47 94.96,169.84 97.69,169.2 100.42,168.56 103.15,167.92 105.88,167.27 108.62,166.61 111.35,165.94 114.08,165.28 116.81,164.6 119.54,163.92 122.27,163.23 125,162.54 127.74,161.84 130.47,161.14 133.2,160.42 135.93,159.71 138.66,158.99 141.39,158.26 144.12,157.52 146.86,156.78 146.86,150.71 144.12,151.58 141.39,152.45 138.66,153.31 135.93,154.17 133.2,155.03 130.47,155.88 127.74,156.73 125,157.57 122.27,158.4 119.54,159.23 116.81,160.06 114.08,160.88 111.35,161.69 108.62,162.5 105.88,163.3 103.15,164.09 100.42,164.88 97.69,165.67 94.96,166.45 92.23,167.22 89.5,167.99 86.76,168.75 84.03,169.5 81.3,170.25 78.57,170.99 75.05,171.94 71.53,172.88 68.01,173.81 64.48,174.73 60.96,174.78"/>
<polygon fill="#e0bc2b" points="60.96,174.78 64.48,174.78 68.01,174.78 71.53,174.78 75.05,174.29 78.57,173.52 81.3,172.92 84.03,172.32 86.76,171.71 89.5,171.09 92.23,170.47 94.96,169.84 97.69,169.2 100.42,168.56 103.15,167.92 105.88,167.27 108.62,166.61 111.35,165.94 114.08,165.28 116.81,164.6 119.54,163.92 122.27,163.23 125,162.54 127.74,161.84 130.47,161.14 133.2,160.42 135.93,159.71 138.66,158.99 141.39,158.26 144.12,157.52 146.86,156.78 146.86,150.79 144.12,151.67 141.39,152.53 138.66,153.4 135.93,154.26 133.2,155.11 130.47,155.96 127.74,156.8 125,157.64 122.27,158.47 119.54,159.3 116.81,160.12 114.08,160.94 111.35,161.75 108.62,162.56 105.88,163.35 103.15,164.15 100.42,164.94 97.69,165.72 94.96,166.49 92.23,167.26 89.5,168.03 86.76,168.79 84.03,169.54 81.3,170.28 78.57,171.02 75.05,171.97 71.53,172.91 68.01,173.83 64.48,174.75 60.96,174.78"/>
<polygon fill="#eeba34" points="60.96,174.78 64.48,174.78 68.01,174.78 71.53,174.78 75.05,174.29 78.57,173.52 81.3,172.92 84.03,172.32 86.76,171.71 89.5,171.09 92.23,170.47 94.96,169.84 97.69,169.2 100.42,168.56 103.15,167.92 105.88,167.27 108.62,166.61 111.35,165.94 114.08,165.28 116.81,164.6 119.54,163.92 122.27,163.23 125,162.54 127.74,161.84 130.47,161.14 133.2,160.42 135.93,159.71 138.66,158.99 141.39,158.26 144.12,157.52 146.86,156.78 146.86,150.88 144.12,151.75 141.39,152.61 138.66,153.48 135.93,154.33 133.2,155.18 130.47,156.03 127.74,156.87 125,157.71 122.27,158.54 119.54,159.37 116.81,160.19 114.08,161 111.35,161.81 108.62,162.61 105.88,163.41 103.15,164.2 100.42,164.98 97.69,165.76 94.96,166.54 92.23,167.31 89.5,168.07 86.76,168.82 84.03,169.57 81.3,170.32 78.57,171.06 75.05,172 71.53,172.93 68.01,173.86 64.48,174.77 60.96,174.78"/>
<polygon fill="#fabb3d" points="64.48,174.78 68.01,174.78 71.53,174.78 75.05,174.29 78.57,173.52 81.3,172.92 84.03,172.32 86.76,171.71 89.5,171.09 92.23,170.47 94.96,169.84 97.69,169.2 100.42,168.56 103.15,167.92 105.88,167.27 108.62,166.61 111.35,165.94 114.08,165.28 116.81,164.6 119.54,163.92 122.27,163.23 125,162.54 127.74,161.84 130.47,161.14 133.2,160.42 135.93,159.71 138.66,158.99 141.39,158.26 144.12,157.52 146.86,156.78 146.86,150.96 144.12,151.83 141.39,152.69 138.66,153.55 135.93,154.41 133.2,155.26 130.47,156.1 127.74,156.94 125,157.77 122.27,158.6 119.54,159.43 116.81,160.24 114.08,161.06 111.35,161.86 108.62,162.66 105.88,163.46 103.15,164.25 100.42,165.03 97.69,165.81 94.96,166.58 92.23,167.35 89.5,168.11 86.76,168.86 84.03,169.61 81.3,170.35 78.57,171.09 75.05,172.03 71.53,172.96 68.01,173.88 64.48,174.78"/>
<polygon fill="#fec239" points="64.48,174.78 68.01,174.78 71.53,174.78 75.05,174.29 78.57,173.52 81.3,172.92 84.03,172.32 86.76,171.71 89.5,171.09 92.23,170.47 94.96,169.84 97.69,169.2 100.42,168.56 103.15,167.92 105.88,167.27 108.62,166.61 111.35,165.94 114.08,165.28 116.81,164.6 119.54,163.92 122.27,163.23 125,162.54 127.74,161.84 130.47,161.14 133.2,160.42 135.93,159.71 138.66,158.99 141.39,158.26 144.12,157.52 146.86,156.78 146.86,151.04 144.12,151.9 141.39,152.77 138.66,153.62 135.93,154.48 133.2,155.32 130.47,156.17 127.74,157 125,157.84 122.27,158.66 119.54,159.49 116.81,160.3 114.08,161.11 111.35,161.92 108.62,162.71 105.88,163.51 103.15,164.29 100.42,165.08 97.69,165.85 94.96,166.62 92.23,167.38 89.5,168.14 86.76,168.89 84.03,169.64 81.3,170.38 78.57,171.11 75.05,172.05 71.53,172.98 68.01,173.9 64.48,174.78"/>
<polygon fill="#feca33" points="64.48,174.78 68.01,174.78 71.53,174.78 75.05,174.29 78.57,173.52 81.3,172.92 84.03,172.32 86.76,171.71 89.5,171.09 92.23,170.47 94.96,169.84 97.69,169.2 100.42,168.56 103.15,167.92 105.88,167.27 108.62,166.61 111.35,165.94 114.08,165.28 116.81,164.6 119.54,163.92 122.27,163.23 125,162.54 127.74,161.84 130.47,161.14 133.2,160.42 135.93,159.71 138.66,158.99 141.39,158.26 144.12,157.52 146.86,156.78 146.86,151.11 144.12,151.98 141.39,152.84 138.66,153.69 135.93,154.54 133.2,155.39 130.47,156.23 127.74,157.07 125,157.9 122.27,158.72 119.54,159.54 116.81,160.36 114.08,161.16 111.35,161.97 108.62,162.76 105.88,163.55 103.15,164.34 100.42,165.12 97.69,165.89 94.96,166.66 92.23,167.42 89.5,168.18 86.76,168.93 84.03,169.67 81.3,170.41 78.57,171.14 75.05,172.08 71.53,173 68.01,173.92 64.48,174.78"/>
<polygon fill="#fbd32e" points="64.48,174.78 68.01,174.78 71.53,174.78 75.05,174.29 78.57,173.52 81.3,172.92 84.03,172.32 86.76,171.71 89.5,171.09 92.23,170.47 94.96,169.84 97.69,169.2 100.42,168.56 103.15,167.92 105.88,167.27 108.62,166.61 111.35,165.94 114.08,165.28 116.81,164.6 119.54,163.92 122.27,163.23 125,162.54 127.74,161.84 130.47,161.14 133.2,160.42 135.93,159.71 138.66,158.99 141.39,158.26 144.12,157.52 146.86,156.78 146.86,151.25 144.12,152.1 141.39,152.95 138.66,153.8 135.93,154.64 133.2,155.48 130.47,156.32 127.74,157.15 125,157.97 122.27,158.79 119.54,159.61 116.81,160.42 114.08,161.23 111.35,162.03 108.62,162.82 105.88,163.61 103.15,164.39 100.42,165.17 97.69,165.94 94.96,166.71 92.23,167.46 89.5,168.22 86.76,168.97 84.03,169.71 81.3,170.44 78.57,171.17 75.05,172.1 71.53,173.03 68.01,173.94 64.48,174.78"/>
<polygon fill="#f7dc2a" points="64.48,174.78 68.01,174.78 71.53,174.78 75.05,174.29 78.57,173.52 81.3,172.92 84.03,172.32 86.76,171.71 89.5,171.09 92.23,170.47 94.96,169.84 97.69,169.2 100.42,168.56 103.15,167.92 105.88,167.27 108.62,166.61 111.35,165.94 114.08,165.28 116.81,164.6 119.54,163.92 122.27,163.23 125,162.54 127.74,161.84 130.47,161.14 133.2,160.42 135.93,159.71 138.66,158.99 141.39,158.26 144.12,157.52 146.86,156.78 146.86,151.41 144.12,152.26 141.39,153.11 138.66,153.95 135.93,154.79 133.2,155.63 130.47,156.46 127.74,157.28 125,158.11 122.27,158.92 119.54,159.73 116.81,160.54 114.08,161.34 111.35,162.14 108.62,162.93 105.88,163.71 103.15,164.49 100.42,165.26 97.69,166.03 94.96,166.79 92.23,167.55 89.5,168.3 86.76,169.04 84.03,169.78 81.3,170.51 78.57,171.23 75.05,172.16 71.53,173.08 68.01,173.98 64.48,174.78"/>
<polygon fill="#f5e526" points="64.48,174.78 68.01,174.78 71.53,174.78 75.05,174.29 78.57,173.52 81.3,172.92 84.03,172.32 86.76,171.71 89.5,171.09 92.23,170.47 94.96,169.84 97.69,169.2 100.42,168.56 103.15,167.92 105.88,167.27 108.62,166.61 111.35,165.94 114.08,165.28 116.81,164.6 119.54,163.92 122.27,163.23 125,162.54 127.74,161.84 130.47,161.14 133.2,160.42 135.93,159.71 138.66,158.99 141.39,158.26 144.12,157.52 146.86,156.78 146.86,151.57 144.12,152.41 141.39,153.25 138.66,154.09 135.93,154.93 133.2,155.76 130.47,156.59 127.74,157.41 125,158.23 122.27,159.04 119.54,159.85 116.81,160.65 114.08,161.45 111.35,162.24 108.62,163.03 105.88,163.81 103.15,164.58 100.42,165.35 97.69,166.12 94.96,166.87 92.23,167.62 89.5,168.37 86.76,169.11 84.03,169.84 81.3,170.57 78.57,171.29 75.05,172.21 71.53,173.12 68.01,174.03 64.48,174.78"/>
<polygon fill="#f5ee21" points="64.48,174.78 68.01,174.78 71.53,174.78 75.05,174.29 78.57,173.52 81.3,172.92 84.03,172.32 86.76,171.71 89.5,171.09 92.23,170.47 94.96,169.84 97.69,169.2 100.42,168.56 103.15,167.92 105.88,167.27 108.62,166.61 111.35,165.94 114.08,165.28 116.81,164.6 119.54,163.92 122.27,163.23 125,162.54 127.74,161.84 130.47,161.14 133.2,160.42 135.93,159.71 138.66,158.99 141.39,158.26 144.12,157.52 146.86,156.78 146.86,151.71 144.12,152.55 141.39,153.39 138.66,154.23 135.93,155.06 133.2,155.89 130.47,156.72 127.74,157.53 125,158.35 122.27,159.16 119.54,159.96 116.81,160.76 114.08,161.56 111.35,162.34 108.62,163.13 105.88,163.9 103.15,164.67 100.42,165.44 97.69,166.2 94.96,166.95 92.23,167.7 89.5,168.44 86.76,169.17 84.03,169.9 81.3,170.63 78.57,171.35 75.05,172.26 71.53,173.17 68.01,174.07 64.48,174.78"/>
<polygon fill="#f8f719" points="64.48,174.78 68.01,174.78 71.53,174.78 75.05,174.29 78.57,173.52 81.3,172.92 84.03,172.32 86.76,171.71 89.5,171.09 92.23,170.47 94.96,169.84 97.69,169.2 100.42,168.56 103.15,167.92 105.88,167.27 108.62,166.61 111.35,165.94 114.08,165.28 116.81,164.6 119.54,163.92 122.27,163.23 125,162.54 127.74,161.84 130.47,161.14 133.2,160.42 135.93,159.71 138.66,158.99 141.39,158.26 144.12,157.52 146.86,156.78 146.86,151.85 144.12,152.69 141.39,153.53 138.66,154.36 135.93,155.19 133.2,156.01 130.47,156.84 127.74,157.65 125,158.46 122.27,159.27 119.54,160.07 116.81,160.86 114.08,161.65 111.35,162.44 108.62,163.22 105.88,163.99 103.15,164.76 100.42,165.52 97.69,166.27 94.96,167.02 92.23,167.77 89.5,168.51 86.76,169.24 84.03,169.96 81.3,170.68 78.57,171.4 75.05,172.31 71.53,173.21 68.01,174.1 64.48,174.78"/>
<polygon fill="#f9fb15" points="64.48,174.78 68.01,174.78 71.53,174.78 75.05,174.29 78.57,173.52 81.3,172.92 84.03,172.32 86.76,171.71 89.5,171.09 92.23,170.47 94.96,169.84 97.69,169.2 100.42,168.56 103.15,167.92 105.88,167.27 108.62,166.61 111.35,165.94 114.08,165.28 116.81,164.6 119.54,163.92 122.27,163.23 125,162.54 127.74,161.84 130.47,161.14 133.2,160.42 135.93,159.71 138.66,158.99 141.39,158.26 144.12,157.52 146.86,156.78 146.86,151.98 144.12,152.82 141.39,153.65 138.66,154.48 135.93,155.31 133.2,156.13 130.47,156.95 127.74,157.76 125,158.57 122.27,159.37 119.54,160.17 116.81,160.96 114.08,161.75 111.35,162.53 108.62,163.31 105.88,164.07 103.15,164.84 100.42,165.6 97.69,166.35 94.96,167.09 92.23,167.83 89.5,168.57 86.76,169.3 84.03,170.02 81.3,170.74 78.57,171.45 75.05,172.35 71.53,173.25 68.01,174.14 64.48,174.78"/>
<polygon fill="#000" points="71.53,174.56 75.05,173.8 78.57,173.04 81.3,172.44 84.03,171.84 86.76,171.23 89.5,170.61 92.23,169.99 94.96,169.36 97.69,168.72 100.42,168.08 103.15,167.44 105.88,166.78 108.62,166.13 111.35,165.46 114.08,164.79 116.81,164.12 119.54,163.44 122.27,162.75 125,162.06 127.74,161.36 130.47,160.65 133.2,159.94 135.93,159.23 138.66,158.5 141.39,157.78 144.12,157.04 146.86,156.3 146.86,175.3 71.53,175.3"/>
<line x1="193.19" y1="55.46" x2="243.7" y2="13.68" stroke="#4a35b0" stroke-width="1"/><polygon fill="#000" points="146.56,93.95 244.7,13.6 244.7,175.3 146.56,175.3"/>
</g>
<rect x="410.5" y="14.4" width="192.9" height="159.9" fill="none" stroke="#a4a4a4" stroke-width="1"/>
<clipPath id="clip2"><rect x="410.5" y="14.4" width="193.4" height="160.4"/></clipPath>
<g clip-path="url(#clip2)">
<polygon fill="#3e27aa" points="410.5,174.78 414.01,174.78 417.53,174.78 421.04,174.78 424.56,174.78 428.07,174.78 431.58,174.78 435.1,174.47 438.61,173.78 445.2,172.46 451.79,171.12 458.39,169.74 464.98,168.34 471.57,166.9 478.16,165.44 484.75,163.95 491.34,162.43 497.94,160.88 504.53,159.3 511.12,157.7 517.71,156.06 524.3,154.39 530.89,152.7 537.48,150.98 544.08,149.22 550.67,147.44 557.26,145.63 563.85,143.79 570.44,141.93 577.03,140.03 583.63,138.1 590.22,136.15 596.81,134.16 603.4,132.15 603.4,30.36 596.81,32.18 590.22,34.74 583.63,37.91 577.03,41.62 570.44,45.76 563.85,50.23 557.26,54.94 550.67,59.78 544.08,64.68 537.48,69.64 530.89,74.66 524.3,79.74 517.71,84.91 511.12,90.17 504.53,95.53 497.94,100.99 491.34,106.49 484.75,111.98 478.16,117.37 471.57,122.66 464.98,127.86 458.39,133.01 451.79,138.11 445.2,143.2 438.61,148.29 435.1,151.02 431.58,153.76 428.07,156.52 424.56,159.3 421.04,162.1 417.53,164.92 414.01,167.78 410.5,170.67"/>
<polygon fill="#3f28ad" points="410.5,174.78 414.01,174.78 417.53,174.78 421.04,174.78 424.56,174.78 428.07,174.78 431.58,174.78 435.1,174.47 438.61,173.78 445.2,172.46 451.79,171.12 458.39,169.74 464.98,168.34 471.57,166.9 478.16,165.44 484.75,163.95 491.34,162.43 497.94,160.88 504.53,159.3 511.12,157.7 517.71,156.06 524.3,154.39 530.89,152.7 537.48,150.98 544.08,149.22 550.67,147.44 557.26,145.63 563.85,143.79 570.44,141.93 577.03,140.03 583.63,138.1 590.22,136.15 596.81,134.16 603.4,132.15 603.4,37.43 596.81,39.57 590.22,42.33 583.63,45.62 577.03,49.36 570.44,53.45 563.85,57.82 557.26,62.37 550.67,67.03 544.08,71.74 537.48,76.49 530.89,81.29 524.3,86.14 517.71,91.05 511.12,96.03 504.53,101.08 497.94,106.21 491.34,111.37 484.75,116.51 478.16,121.57 471.57,126.54 464.98,131.43 458.39,136.27 451.79,141.08 445.2,145.86 438.61,150.65 435.1,153.21 431.58,155.78 428.07,158.37 424.56,160.96 421.04,163.57 417.53,166.21 414.01,168.86 410.5,171.55"/>
<polygon fill="#3f29b1" points="410.5,174.78 414.01,174.78 417.53,174.78 421.04,174.78 424.56,174.78 428.07,174.78 431.58,174.78 435.1,174.47 438.61,173.78 445.2,172.46 451.79,171.12 458.39,169.74 464.98,168.34 471.57,166.9 478.16,165.44 484.75,163.95 491.34,162.43 497.94,160.88 504.53,159.3 511.12,157.7 517.71,156.06 524.3,154.39 530.89,152.7 537.48,150.98 544.08,149.22 550.67,147.44 557.26,145.63 563.85,143.79 570.44,141.93 577.03,140.03 583.63,138.1 590.22,136.15 596.81,134.16 603.4,132.15 603.4,43.36 596.81,45.71 590.22,48.6 583.63,51.96 577.03,55.69 570.44,59.73 563.85,63.99 557.26,68.41 550.67,72.92 544.08,77.46 537.48,82.03 530.89,86.64 524.3,91.29 517.71,95.98 511.12,100.72 504.53,105.53 497.94,110.39 491.34,115.28 484.75,120.14 478.16,124.93 471.57,129.64 464.98,134.28 458.39,138.88 451.79,143.44 445.2,147.98 438.61,152.52 435.1,154.94 431.58,157.37 428.07,159.81 424.56,162.26 421.04,164.72 417.53,167.2 414.01,169.7 410.5,172.21"/>
<polygon fill="#402ab4" points="410.5,174.78 414.01,174.78 417.53,174.78 421.04,174.78 424.56,174.78 428.07,174.78 431.58,174.78 435.1,174.47 438.61,173.78 445.2,172.46 451.79,171.12 458.39,169.74 464.98,168.34 471.57,166.9 478.16,165.44 484.75,163.95 491.34,162.43 497.94,160.88 504.53,159.3 511.12,157.7 517.71,156.06 524.3,154.39 530.89,152.7 537.48,150.98 544.08,149.22 550.67,147.44 557.26,145.63 563.85,143.79 570.44,141.93 577.03,140.03 583.63,138.1 590.22,136.15 596.81,134.16 603.4,132.15 603.4,48.42 596.81,50.92 590.22,53.91 583.63,57.29 577.03,61 570.44,64.98 563.85,69.14 557.26,73.44 550.67,77.81 544.08,82.21 537.48,86.62 530.89,91.07 524.3,95.54 517.71,100.05 511.12,104.6 504.53,109.2 497.94,113.84 491.34,118.5 484.75,123.13 478.16,127.7 471.57,132.19 464.98,136.63 458.39,141.02 451.79,145.37 445.2,149.7 438.61,154.03 435.1,156.34 431.58,158.66 428.07,160.98 424.56,163.31 421.04,165.64 417.53,167.99 414.01,170.36 410.5,172.74"/>
<polygon fill="#402bb7" points="410.5,174.78 414.01,174.78 417.53,174.78 421.04,174.78 424.56,174.78 428.07,174.78 431.58,174.78 435.1,174.47 438.61,173.78 445.2,172.46 451.79,171.12 458.39,169.74 464.98,168.34 471.57,166.9 478.16,165.44 484.75,163.95 491.34,162.43 497.94,160.88 504.53,159.3 511.12,157.7 517.71,156.06 524.3,154.39 530.89,152.7 537.48,150.98 544.08,149.22 550.67,147.44 557.26,145.63 563.85,143.79 570.44,141.93 577.03,140.03 583.63,138.1 590.22,136.15 596.81,134.16 603.4,132.15 603.4,52.78 596.81,55.41 590.22,58.46 583.63,61.86 577.03,65.54 570.44,69.45 563.85,73.53 557.26,77.71 550.67,81.96 544.08,86.23 537.48,90.51 530.89,94.81 524.3,99.14 517.71,103.49 511.12,107.87 504.53,112.29 497.94,116.75 491.34,121.21 484.75,125.65 478.16,130.03 471.57,134.34 464.98,138.6 458.39,142.81 451.79,146.99 445.2,151.15 438.61,155.3 435.1,157.51 431.58,159.73 428.07,161.95 424.56,164.17 421.04,166.41 417.53,168.65 414.01,170.9 410.5,173.17"/>
<polygon fill="#412cbb" points="410.5,174.78 414.01,174.78 417.53,174.78 421.04,174.78 424.56,174.78 428.07,174.78 431.58,174.78 435.1,174.47 438.61,173.78 445.2,172.46 451.79,171.12 458.39,169.74 464.98,168.34 471.57,166.9 478.16,165.44 484.75,163.95 491.34,162.43 497.94,160.88 504.53,159.3 511.12,157.7 517.71,156.06 524.3,154.39 530.89,152.7 537.48,150.98 544.08,149.22 550.67,147.44 557.26,145.63 563.85,143.79 570.44,141.93 577.03,140.03 583.63,138.1 590.22,136.15 596.81,134.16 603.4,132.15 603.4,56.6 596.81,59.31 590.22,62.4 583.63,65.8 577.03,69.46 570.44,73.31 563.85,77.31 557.26,81.4 550.67,85.54 544.08,89.69 537.48,93.85 530.89,98.03 524.3,102.22 517.71,106.44 511.12,110.68 504.53,114.95 497.94,119.24 491.34,123.54 484.75,127.81 478.16,132.03 471.57,136.18 464.98,140.29 458.39,144.35 451.79,148.37 445.2,152.38 438.61,156.38 435.1,158.51 431.58,160.64 428.07,162.77 424.56,164.91 421.04,167.05 417.53,169.2 414.01,171.36 410.5,173.53"/>
<polygon fill="#412ebe" points="410.5,174.78 414.01,174.78 417.53,174.78 421.04,174.78 424.56,174.78 428.07,174.78 431.58,174.78 435.1,174.47 438.61,173.78 445.2,172.46 451.79,171.12 458.39,169.74 464.98,168.34 471.57,166.9 478.16,165.44 484.75,163.95 491.34,162.43 497.94,160.88 504.53,159.3 511.12,157.7 517.71,156.06 524.3,154.39 530.89,152.7 537.48,150.98 544.08,149.22 550.67,147.44 557.26,145.63 563.85,143.79 570.44,141.93 577.03,140.03 583.63,138.1 590.22,136.15 596.81,134.16 603.4,132.15 603.4,59.98 596.81,62.75 590.22,65.87 583.63,69.26 577.03,72.88 570.44,76.67 563.85,80.59 557.26,84.6 550.67,88.64 544.08,92.69 537.48,96.75 530.89,100.82 524.3,104.9 517.71,108.99 511.12,113.11 504.53,117.24 497.94,121.4 491.34,125.55 484.75,129.68 478.16,133.76 471.57,137.78 464.98,141.75 458.39,145.68 451.79,149.57 445.2,153.45 438.61,157.31 435.1,159.36 431.58,161.42 428.07,163.48 424.56,165.54 421.04,167.6 417.53,169.67 414.01,171.75 410.5,173.83"/>
<polygon fill="#422fc1" points="410.5,174.78 414.01,174.78 417.53,174.78 421.04,174.78 424.56,174.78 428.07,174.78 431.58,174.78 435.1,174.47 438.61,173.78 445.2,172.46 451.79,171.12 458.39,169.74 464.98,168.34 471.57,166.9 478.16,165.44 484.75,163.95 491.34,162.43 497.94,160.88 504.53,159.3 511.12,157.7 517.71,156.06 524.3,154.39 530.89,152.7 537.48,150.98 544.08,149.22 550.67,147.44 557.26,145.63 563.85,143.79 570.44,141.93 577.03,140.03 583.63,138.1 590.22,136.15 596.81,134.16 603.4,132.15 603.4,63 596.81,65.82 590.22,68.95 583.63,72.33 577.03,75.91 570.44,79.65 563.85,83.5 557.26,87.42 550.67,91.37 544.08,95.33 537.48,99.3 530.89,103.27 524.3,107.24 517.71,111.23 511.12,115.23 504.53,119.25 497.94,123.28 491.34,127.31 484.75,131.32 478.16,135.27 471.57,139.17 464.98,143.02 458.39,146.83 451.79,150.61 445.2,154.37 438.61,158.11 435.1,160.11 431.58,162.1 428.07,164.09 424.56,166.08 421.04,168.08 417.53,170.08 414.01,172.08 410.5,174.1"/>
<polygon fill="#4230c4" points="410.5,174.78 414.01,174.78 417.53,174.78 421.04,174.78 424.56,174.78 428.07,174.78 431.58,174.78 435.1,174.47 438.61,173.78 445.2,172.46 451.79,171.12 458.39,169.74 464.98,168.34 471.57,166.9 478.16,165.44 484.75,163.95 491.34,162.43 497.94,160.88 504.53,159.3 511.12,157.7 517.71,156.06 524.3,154.39 530.89,152.7 537.48,150.98 544.08,149.22 550.67,147.44 557.26,145.63 563.85,143.79 570.44,141.93 577.03,140.03 583.63,138.1 590.22,136.15 596.81,134.16 603.4,132.15 603.4,65.72 596.81,68.57 590.22,71.71 583.63,75.07 577.03,78.62 570.44,82.3 563.85,86.08 557.26,89.93 550.67,93.81 544.08,97.68 537.48,101.56 530.89,105.44 524.3,109.33 517.71,113.22 511.12,117.12 504.53,121.03 497.94,124.96 491.34,128.88 484.75,132.77 478.16,136.61 471.57,140.4 464.98,144.15 458.39,147.86 451.79,151.53 445.2,155.19 438.61,158.83 435.1,160.76 431.58,162.69 428.07,164.63 424.56,166.56 421.04,168.5 417.53,170.44 414.01,172.38 410.5,174.33"/>
<polygon fill="#4331c7" points="410.5,174.78 414.01,174.78 417.53,174.78 421.04,174.78 424.56,174.78 428.07,174.78 431.58,174.78 435.1,174.47 438.61,173.78 445.2,172.46 451.79,171.12 458.39,169.74 464.98,168.34 471.57,166.9 478.16,165.44 484.75,163.95 491.34,162.43 497.94,160.88 504.53,159.3 511.12,157.7 517.71,156.06 524.3,154.39 530.89,152.7 537.48,150.98 544.08,149.22 550.67,147.44 557.26,145.63 563.85,143.79 570.44,141.93 577.03,140.03 583.63,138.1 590.22,136.15 596.81,134.16 603.4,132.15 603.4,68.18 596.81,71.06 590.22,74.19 583.63,77.54 577.03,81.05 570.44,84.68 563.85,88.41 557.26,92.19 550.67,95.99 544.08,99.79 537.48,103.59 530.89,107.39 524.3,111.19 517.71,115 511.12,118.81 504.53,122.63 497.94,126.45 491.34,130.27 484.75,134.06 478.16,137.81 471.57,141.51 464.98,145.16 458.39,148.77 451.79,152.36 445.2,155.92 438.61,159.46 435.1,161.34 431.58,163.22 428.07,165.11 424.56,166.99 421.04,168.87 417.53,170.75 414.01,172.64 410.5,174.53"/>
<polygon fill="#4332ca" points="410.5,174.78 414.01,174.78 417.53,174.78 421.04,174.78 424.56,174.78 428.07,174.78 431.58,174.78 435.1,174.47 438.61,173.78 445.2,172.46 451.79,171.12 458.39,169.74 464.98,168.34 471.57,166.9 478.16,165.44 484.75,163.95 491.34,162.43 497.94,160.88 504.53,159.3 511.12,157.7 517.71,156.06 524.3,154.39 530.89,152.7 537.48,150.98 544.08,149.22 550.67,147.44 557.26,145.63 563.85,143.79 570.44,141.93 577.03,140.03 583.63,138.1 590.22,136.15 596.81,134.16 603.4,132.15 603.4,70.43 596.81,73.32 590.22,76.45 583.63,79.78 577.03,83.25 570.44,86.84 563.85,90.51 557.26,94.23 550.67,97.96 544.08,101.69 537.48,105.42 530.89,109.15 524.3,112.87 517.71,116.6 511.12,120.33 504.53,124.06 497.94,127.8 491.34,131.53 484.75,135.23 478.16,138.89 471.57,142.5 464.98,146.07 458.39,149.6 451.79,153.1 445.2,156.57 438.61,160.03 435.1,161.87 431.58,163.7 428.07,165.53 424.56,167.37 421.04,169.2 417.53,171.03 414.01,172.87 410.5,174.71"/>
<polygon fill="#4433cd" points="410.5,174.78 414.01,174.78 417.53,174.78 421.04,174.78 424.56,174.78 428.07,174.78 431.58,174.78 435.1,174.47 438.61,173.78 445.2,172.46 451.79,171.12 458.39,169.74 464.98,168.34 471.57,166.9 478.16,165.44 484.75,163.95 491.34,162.43 497.94,160.88 504.53,159.3 511.12,157.7 517.71,156.06 524.3,154.39 530.89,152.7 537.48,150.98 544.08,149.22 550.67,147.44 557.26,145.63 563.85,143.79 570.44,141.93 577.03,140.03 583.63,138.1 590.22,136.15 596.81,134.16 603.4,132.15 603.4,72.48 596.81,75.39 590.22,78.52 583.63,81.82 577.03,85.26 570.44,88.81 563.85,92.42 557.26,96.08 550.67,99.75 544.08,103.42 537.48,107.09 530.89,110.74 524.3,114.4 517.71,118.05 511.12,121.71 504.53,125.36 497.94,129.02 491.34,132.67 484.75,136.29 478.16,139.87 471.57,143.4 464.98,146.89 458.39,150.34 451.79,153.77 445.2,157.16 438.61,160.54 435.1,162.34 431.58,164.13 428.07,165.92 424.56,167.71 421.04,169.5 417.53,171.29 414.01,173.08 410.5,174.78"/>
<polygon fill="#4435d0" points="410.5,174.78 414.01,174.78 417.53,174.78 421.04,174.78 424.56,174.78 428.07,174.78 431.58,174.78 435.1,174.47 438.61,173.78 445.2,172.46 451.79,171.12 458.39,169.74 464.98,168.34 471.57,166.9 478.16,165.44 484.75,163.95 491.34,162.43 497.94,160.88 504.53,159.3 511.12,157.7 517.71,156.06 524.3,154.39 530.89,152.7 537.48,150.98 544.08,149.22 550.67,147.44 557.26,145.63 563.85,143.79 570.44,141.93 577.03,140.03 583.63,138.1 590.22,136.15 596.81,134.16 603.4,132.15 603.4,74.37 596.81,77.29 590.22,80.41 583.63,83.69 577.03,87.1 570.44,90.6 563.85,94.17 557.26,97.78 550.67,101.39 544.08,105 537.48,108.61 530.89,112.2 524.3,115.79 517.71,119.38 511.12,122.97 504.53,126.55 497.94,130.14 491.34,133.71 484.75,137.26 478.16,140.77 471.57,144.22 464.98,147.64 458.39,151.02 451.79,154.38 445.2,157.7 438.61,161.01 435.1,162.77 431.58,164.52 428.07,166.27 424.56,168.02 421.04,169.77 417.53,171.52 414.01,173.26 410.5,174.78"/>
<polygon fill="#4536d3" points="410.5,174.78 414.01,174.78 417.53,174.78 421.04,174.78 424.56,174.78 428.07,174.78 431.58,174.78 435.1,174.47 438.61,173.78 445.2,172.46 451.79,171.12 458.39,169.74 464.98,168.34 471.57,166.9 478.16,165.44 484.75,163.95 491.34,162.43 497.94,160.88 504.53,159.3 511.12,157.7 517.71,156.06 524.3,154.39 530.89,152.7 537.48,150.98 544.08,149.22 550.67,147.44 557.26,145.63 563.85,143.79 570.44,141.93 577.03,140.03 583.63,138.1 590.22,136.15 596.81,134.16 603.4,132.15 603.4,76.63 596.81,79.28 590.22,82.18 583.63,85.42 577.03,88.79 570.44,92.26 563.85,95.78 557.26,99.33 550.67,102.9 544.08,106.45 537.48,110 530.89,113.54 524.3,117.07 517.71,120.6 511.12,124.12 504.53,127.64 497.94,131.16 491.34,134.67 484.75,138.15 478.16,141.58 471.57,144.98 464.98,148.33 458.39,151.65 451.79,154.93 445.2,158.2 438.61,161.44 435.1,163.16 431.58,164.88 428.07,166.59 424.56,168.3 421.04,170.02 417.53,171.73 414.01,173.44 410.5,174.78"/>
<polygon fill="#4537d6" points="410.5,174.78 414.01,174.78 417.53,174.78 421.04,174.78 424.56,174.78 428.07,174.78 431.58,174.78 435.1,174.47 438.61,173.78 445.2,172.46 451.79,171.12 458.39,169.74 464.98,168.34 471.57,166.9 478.16,165.44 484.75,163.95 491.34,162.43 497.94,160.88 504.53,159.3 511.12,157.7 517.71,156.06 524.3,154.39 530.89,152.7 537.48,150.98 544.08,149.22 550.67,147.44 557.26,145.63 563.85,143.79 570.44,141.93 577.03,140.03 583.63,138.1 590.22,136.15 596.81,134.16 603.4,132.15 603.4,78.74 596.81,81.41 590.22,84.3 583.63,87.37 577.03,90.58 570.44,93.9 563.85,97.3 557.26,100.77 550.67,104.28 544.08,107.79 537.48,111.28 530.89,114.77 524.3,118.25 517.71,121.72 511.12,125.18 504.53,128.64 497.94,132.1 491.34,135.55 484.75,138.96 478.16,142.34 471.57,145.67 464.98,148.96 458.39,152.22 451.79,155.45 445.2,158.65 438.61,161.83 435.1,163.52 431.58,165.2 428.07,166.89 424.56,168.57 421.04,170.24 417.53,171.92 414.01,173.59 410.5,174.78"/>
<polygon fill="#4539d8" points="410.5,174.78 414.01,174.78 417.53,174.78 421.04,174.78 424.56,174.78 428.07,174.78 431.58,174.78 435.1,174.47 438.61,173.78 445.2,172.46 451.79,171.12 458.39,169.74 464.98,168.34 471.57,166.9 478.16,165.44 484.75,163.95 491.34,162.43 497.94,160.88 504.53,159.3 511.12,157.7 517.71,156.06 524.3,154.39 530.89,152.7 537.48,150.98 544.08,149.22 550.67,147.44 557.26,145.63 563.85,143.79 570.44,141.93 577.03,140.03 583.63,138.1 590.22,136.15 596.81,134.16 603.4,132.15 603.4,80.73 596.81,83.41 590.22,86.29 583.63,89.34 577.03,92.52 570.44,95.79 563.85,99.14 557.26,102.53 550.67,105.93 544.08,109.33 537.48,112.72 530.89,116.11 524.3,119.5 517.71,122.88 511.12,126.26 504.53,129.65 497.94,133.04 491.34,136.42 484.75,139.77 478.16,143.08 471.57,146.34 464.98,149.55 458.39,152.75 451.79,155.92 445.2,159.07 438.61,162.19 435.1,163.85 431.58,165.51 428.07,167.16 424.56,168.81 421.04,170.45 417.53,172.09 414.01,173.74 410.5,174.78"/>
<polygon fill="#463adb" points="410.5,174.78 414.01,174.78 417.53,174.78 421.04,174.78 424.56,174.78 428.07,174.78 431.58,174.78 435.1,174.47 438.61,173.78 445.2,172.46 451.79,171.12 458.39,169.74 464.98,168.34 471.57,166.9 478.16,165.44 484.75,163.95 491.34,162.43 497.94,160.88 504.53,159.3 511.12,157.7 517.71,156.06 524.3,154.39 530.89,152.7 537.48,150.98 544.08,149.22 550.67,147.44 557.26,145.63 563.85,143.79 570.44,141.93 577.03,140.03 583.63,138.1 590.22,136.15 596.81,134.16 603.4,132.15 603.4,82.61 596.81,85.29 590.22,88.16 583.63,91.19 577.03,94.33 570.44,97.57 563.85,100.87 557.26,104.2 550.67,107.55 544.08,110.89 537.48,114.22 530.89,117.55 524.3,120.87 517.71,124.19 511.12,127.5 504.53,130.82 497.94,134.14 491.34,137.44 484.75,140.72 478.16,143.96 471.57,147.15 464.98,150.3 458.39,153.41 451.79,156.49 445.2,159.55 438.61,162.58 435.1,164.2 431.58,165.8 428.07,167.41 424.56,169.03 421.04,170.64 417.53,172.26 414.01,173.87 410.5,174.78"/>
<polygon fill="#463bdd" points="410.5,174.78 414.01,174.78 417.53,174.78 421.04,174.78 424.56,174.78 428.07,174.78 431.58,174.78 435.1,174.47 438.61,173.78 445.2,172.46 451.79,171.12 458.39,169.74 464.98,168.34 471.57,166.9 478.16,165.44 484.75,163.95 491.34,162.43 497.94,160.88 504.53,159.3 511.12,157.7 517.71,156.06 524.3,154.39 530.89,152.7 537.48,150.98 544.08,149.22 550.67,147.44 557.26,145.63 563.85,143.79 570.44,141.93 577.03,140.03 583.63,138.1 590.22,136.15 596.81,134.16 603.4,132.15 603.4,84.37 596.81,87.05 590.22,89.92 583.63,92.92 577.03,96.04 570.44,99.23 563.85,102.49 557.26,105.77 550.67,109.06 544.08,112.35 537.48,115.63 530.89,118.9 524.3,122.16 517.71,125.41 511.12,128.67 504.53,131.92 497.94,135.17 491.34,138.41 484.75,141.61 478.16,144.78 471.57,147.91 464.98,150.99 458.39,154.04 451.79,157.05 445.2,160.04 438.61,163.01 435.1,164.59 431.58,166.17 428.07,167.74 424.56,169.3 421.04,170.87 417.53,172.44 414.01,174 410.5,174.78"/>
<polygon fill="#463de0" points="410.5,174.78 414.01,174.78 417.53,174.78 421.04,174.78 424.56,174.78 428.07,174.78 431.58,174.78 435.1,174.47 438.61,173.78 445.2,172.46 451.79,171.12 458.39,169.74 464.98,168.34 471.57,166.9 478.16,165.44 484.75,163.95 491.34,162.43 497.94,160.88 504.53,159.3 511.12,157.7 517.71,156.06 524.3,154.39 530.89,152.7 537.48,150.98 544.08,149.22 550.67,147.44 557.26,145.63 563.85,143.79 570.44,141.93 577.03,140.03 583.63,138.1 590.22,136.15 596.81,134.16 603.4,132.15 603.4,86.03 596.81,88.72 590.22,91.57 583.63,94.55 577.03,97.64 570.44,100.8 563.85,104.01 557.26,107.24 550.67,110.49 544.08,113.72 537.48,116.95 530.89,120.16 524.3,123.37 517.71,126.56 511.12,129.76 504.53,132.95 497.94,136.14 491.34,139.31 484.75,142.45 478.16,145.56 471.57,148.62 464.98,151.64 458.39,154.62 451.79,157.58 445.2,160.51 438.61,163.42 435.1,164.96 431.58,166.5 428.07,168.04 424.56,169.57 421.04,171.1 417.53,172.64 414.01,174.16 410.5,174.78"/>
<polygon fill="#473ee2" points="410.5,174.78 414.01,174.78 417.53,174.78 421.04,174.78 424.56,174.78 428.07,174.78 431.58,174.78 435.1,174.47 438.61,173.78 445.2,172.46 451.79,171.12 458.39,169.74 464.98,168.34 471.57,166.9 478.16,165.44 484.75,163.95 491.34,162.43 497.94,160.88 504.53,159.3 511.12,157.7 517.71,156.06 524.3,154.39 530.89,152.7 537.48,150.98 544.08,149.22 550.67,147.44 557.26,145.63 563.85,143.79 570.44,141.93 577.03,140.03 583.63,138.1 590.22,136.15 596.81,134.16 603.4,132.15 603.4,87.6 596.81,90.29 590.22,93.13 583.63,96.09 577.03,99.15 570.44,102.27 563.85,105.44 557.26,108.63 550.67,111.83 544.08,115.01 537.48,118.19 530.89,121.35 524.3,124.5 517.71,127.65 511.12,130.78 504.53,133.92 497.94,137.04 491.34,140.16 484.75,143.24 478.16,146.28 471.57,149.29 464.98,152.25 458.39,155.18 451.79,158.07 445.2,160.95 438.61,163.8 435.1,165.31 431.58,166.82 428.07,168.32 424.56,169.82 421.04,171.32 417.53,172.82 414.01,174.32 410.5,174.78"/>
<polygon fill="#4740e4" points="410.5,174.78 414.01,174.78 417.53,174.78 421.04,174.78 424.56,174.78 428.07,174.78 431.58,174.78 435.1,174.47 438.61,173.78 445.2,172.46 451.79,171.12 458.39,169.74 464.98,168.34 471.57,166.9 478.16,165.44 484.75,163.95 491.34,162.43 497.94,160.88 504.53,159.3 511.12,157.7 517.71,156.06 524.3,154.39 530.89,152.7 537.48,150.98 544.08,149.22 550.67,147.44 557.26,145.63 563.85,143.79 570.44,141.93 577.03,140.03 583.63,138.1 590.22,136.15 596.81,134.16 603.4,132.15 603.4,89.09 596.81,91.77 590.22,94.6 583.63,97.54 577.03,100.57 570.44,103.66 563.85,106.79 557.26,109.94 550.67,113.09 544.08,116.23 537.48,119.35 530.89,122.47 524.3,125.57 517.71,128.66 511.12,131.75 504.53,134.83 497.94,137.9 491.34,140.95 484.75,143.98 478.16,146.97 471.57,149.91 464.98,152.82 458.39,155.7 451.79,158.54 445.2,161.36 438.61,164.15 435.1,165.64 431.58,167.11 428.07,168.59 424.56,170.06 421.04,171.53 417.53,172.99 414.01,174.46 410.5,174.78"/>
<polygon fill="#4742e6" points="410.5,174.78 414.01,174.78 417.53,174.78 421.04,174.78 424.56,174.78 428.07,174.78 431.58,174.78 435.1,174.47 438.61,173.78 445.2,172.46 451.79,171.12 458.39,169.74 464.98,168.34 471.57,166.9 478.16,165.44 484.75,163.95 491.34,162.43 497.94,160.88 504.53,159.3 511.12,157.7 517.71,156.06 524.3,154.39 530.89,152.7 537.48,150.98 544.08,149.22 550.67,147.44 557.26,145.63 563.85,143.79 570.44,141.93 577.03,140.03 583.63,138.1 590.22,136.15 596.81,134.16 603.4,132.15 603.4,90.49 596.81,93.18 590.22,95.99 583.63,98.91 577.03,101.91 570.44,104.97 563.85,108.06 557.26,111.17 550.67,114.27 544.08,117.37 537.48,120.45 530.89,123.52 524.3,126.57 517.71,129.62 511.12,132.65 504.53,135.68 497.94,138.7 491.34,141.7 484.75,144.67 478.16,147.61 471.57,150.5 464.98,153.36 458.39,156.18 451.79,158.98 445.2,161.74 438.61,164.49 435.1,165.94 431.58,167.39 428.07,168.84 424.56,170.28 421.04,171.72 417.53,173.16 414.01,174.59 410.5,174.78"/>
<polygon fill="#4743e7" points="410.5,174.78 414.01,174.78 417.53,174.78 421.04,174.78 424.56,174.78 428.07,174.78 431.58,174.78 435.1,174.47 438.61,173.78 445.2,172.46 451.79,171.12 458.39,169.74 464.98,168.34 471.57,166.9 478.16,165.44 484.75,163.95 491.34,162.43 497.94,160.88 504.53,159.3 511.12,157.7 517.71,156.06 524.3,154.39 530.89,152.7 537.48,150.98 544.08,149.22 550.67,147.44 557.26,145.63 563.85,143.79 570.44,141.93 577.03,140.03 583.63,138.1 590.22,136.15 596.81,134.16 603.4,132.15 603.4,91.82 596.81,94.5 590.22,97.31 583.63,100.21 577.03,103.18 570.44,106.2 563.85,109.26 557.26,112.33 550.67,115.4 544.08,118.45 537.48,121.49 530.89,124.51 524.3,127.52 517.71,130.52 511.12,133.51 504.53,136.49 497.94,139.46 491.34,142.41 484.75,145.33 478.16,148.22 471.57,151.06 464.98,153.87 458.39,156.64 451.79,159.39 445.2,162.11 438.61,164.8 435.1,166.23 431.58,167.66 428.07,169.07 424.56,170.49 421.04,171.9 417.53,173.31 414.01,174.72 410.5,174.78"/>
<polygon fill="#4745e9" points="414.01,174.78 417.53,174.78 421.04,174.78 424.56,174.78 428.07,174.78 431.58,174.78 435.1,174.47 438.61,173.78 445.2,172.46 451.79,171.12 458.39,169.74 464.98,168.34 471.57,166.9 478.16,165.44 484.75,163.95 491.34,162.43 497.94,160.88 504.53,159.3 511.12,157.7 517.71,156.06 524.3,154.39 530.89,152.7 537.48,150.98 544.08,149.22 550.67,147.44 557.26,145.63 563.85,143.79 570.44,141.93 577.03,140.03 583.63,138.1 590.22,136.15 596.81,134.16 603.4,132.15 603.4,93.08 596.81,95.76 590.22,98.55 583.63,101.43 577.03,104.38 570.44,107.37 563.85,110.39 557.26,113.43 550.67,116.45 544.08,119.47 537.48,122.47 530.89,125.45 524.3,128.42 517.71,131.37 511.12,134.32 504.53,137.25 497.94,140.17 491.34,143.08 484.75,145.95 478.16,148.79 471.57,151.59 464.98,154.35 458.39,157.08 451.79,159.78 445.2,162.45 438.61,165.1 435.1,166.5 431.58,167.9 428.07,169.3 424.56,170.69 421.04,172.07 417.53,173.45 414.01,174.78"/>
<polygon fill="#4746ea" points="414.01,174.78 417.53,174.78 421.04,174.78 424.56,174.78 428.07,174.78 431.58,174.78 435.1,174.47 438.61,173.78 445.2,172.46 451.79,171.12 458.39,169.74 464.98,168.34 471.57,166.9 478.16,165.44 484.75,163.95 491.34,162.43 497.94,160.88 504.53,159.3 511.12,157.7 517.71,156.06 524.3,154.39 530.89,152.7 537.48,150.98 544.08,149.22 550.67,147.44 557.26,145.63 563.85,143.79 570.44,141.93 577.03,140.03 583.63,138.1 590.22,136.15 596.81,134.16 603.4,132.15 603.4,94.28 596.81,96.96 590.22,99.74 583.63,102.6 577.03,105.52 570.44,108.48 563.85,111.47 557.26,114.46 550.67,117.46 544.08,120.43 537.48,123.39 530.89,126.34 524.3,129.27 517.71,132.18 511.12,135.08 504.53,137.97 497.94,140.85 491.34,143.71 484.75,146.54 478.16,149.33 471.57,152.08 464.98,154.8 458.39,157.49 451.79,160.14 445.2,162.77 438.61,165.38 435.1,166.76 431.58,168.14 428.07,169.51 424.56,170.87 421.04,172.23 417.53,173.59 414.01,174.78"/>
<polygon fill="#4848ec" points="414.01,174.78 417.53,174.78 421.04,174.78 424.56,174.78 428.07,174.78 431.58,174.78 435.1,174.47 438.61,173.78 445.2,172.46 451.79,171.12 458.39,169.74 464.98,168.34 471.57,166.9 478.16,165.44 484.75,163.95 491.34,162.43 497.94,160.88 504.53,159.3 511.12,157.7 517.71,156.06 524.3,154.39 530.89,152.7 537.48,150.98 544.08,149.22 550.67,147.44 557.26,145.63 563.85,143.79 570.44,141.93 577.03,140.03 583.63,138.1 590.22,136.15 596.81,134.16 603.4,132.15 603.4,95.42 596.81,98.09 590.22,100.86 583.63,103.7 577.03,106.59 570.44,109.53 563.85,112.48 557.26,115.45 550.67,118.41 544.08,121.35 537.48,124.27 530.89,127.18 524.3,130.07 517.71,132.94 511.12,135.8 504.53,138.65 497.94,141.49 491.34,144.3 484.75,147.09 478.16,149.84 471.57,152.55 464.98,155.23 458.39,157.88 451.79,160.49 445.2,163.08 438.61,165.64 435.1,167 431.58,168.35 428.07,169.7 424.56,171.05 421.04,172.38 417.53,173.72 414.01,174.78"/>
<polygon fill="#484aed" points="414.01,174.78 417.53,174.78 421.04,174.78 424.56,174.78 428.07,174.78 431.58,174.78 435.1,174.47 438.61,173.78 445.2,172.46 451.79,171.12 458.39,169.74 464.98,168.34 471.57,166.9 478.16,165.44 484.75,163.95 491.34,162.43 497.94,160.88 504.53,159.3 511.12,157.7 517.71,156.06 524.3,154.39 530.89,152.7 537.48,150.98 544.08,149.22 550.67,147.44 557.26,145.63 563.85,143.79 570.44,141.93 577.03,140.03 583.63,138.1 590.22,136.15 596.81,134.16 603.4,132.15 603.4,96.5 596.81,99.17 590.22,101.92 583.63,104.74 577.03,107.62 570.44,110.52 563.85,113.45 557.26,116.38 550.67,119.31 544.08,122.21 537.48,125.1 530.89,127.97 524.3,130.83 517.71,133.66 511.12,136.49 504.53,139.3 497.94,142.09 491.34,144.87 484.75,147.61 478.16,150.33 471.57,153 464.98,155.64 458.39,158.24 451.79,160.82 445.2,163.37 438.61,165.89 435.1,167.23 431.58,168.56 428.07,169.89 424.56,171.21 421.04,172.53 417.53,173.84 414.01,174.78"/>
<polygon fill="#484bef" points="414.01,174.78 417.53,174.78 421.04,174.78 424.56,174.78 428.07,174.78 431.58,174.78 435.1,174.47 438.61,173.78 445.2,172.46 451.79,171.12 458.39,169.74 464.98,168.34 471.57,166.9 478.16,165.44 484.75,163.95 491.34,162.43 497.94,160.88 504.53,159.3 511.12,157.7 517.71,156.06 524.3,154.39 530.89,152.7 537.48,150.98 544.08,149.22 550.67,147.44 557.26,145.63 563.85,143.79 570.44,141.93 577.03,140.03 583.63,138.1 590.22,136.15 596.81,134.16 603.4,132.15 603.4,97.53 596.81,100.19 590.22,102.93 583.63,105.74 577.03,108.59 570.44,111.47 563.85,114.37 557.26,117.27 550.67,120.16 544.08,123.03 537.48,125.89 530.89,128.73 524.3,131.55 517.71,134.35 511.12,137.14 504.53,139.91 497.94,142.67 491.34,145.4 484.75,148.11 478.16,150.79 471.57,153.42 464.98,156.02 458.39,158.59 451.79,161.13 445.2,163.64 438.61,166.13 435.1,167.45 431.58,168.76 428.07,170.07 424.56,171.37 421.04,172.66 417.53,173.95 414.01,174.78"/>
<polygon fill="#484df0" points="414.01,174.78 417.53,174.78 421.04,174.78 424.56,174.78 428.07,174.78 431.58,174.78 435.1,174.47 438.61,173.78 445.2,172.46 451.79,171.12 458.39,169.74 464.98,168.34 471.57,166.9 478.16,165.44 484.75,163.95 491.34,162.43 497.94,160.88 504.53,159.3 511.12,157.7 517.71,156.06 524.3,154.39 530.89,152.7 537.48,150.98 544.08,149.22 550.67,147.44 557.26,145.63 563.85,143.79 570.44,141.93 577.03,140.03 583.63,138.1 590.22,136.15 596.81,134.16 603.4,132.15 603.4,98.51 596.81,101.16 590.22,103.89 583.63,106.68 577.03,109.51 570.44,112.37 563.85,115.24 557.26,118.11 550.67,120.97 544.08,123.81 537.48,126.64 530.89,129.44 524.3,132.23 517.71,135 511.12,137.75 504.53,140.49 497.94,143.21 491.34,145.91 484.75,148.58 478.16,151.22 471.57,153.82 464.98,156.39 458.39,158.92 451.79,161.43 445.2,163.9 438.61,166.36 435.1,167.65 431.58,168.95 428.07,170.23 424.56,171.51 421.04,172.79 417.53,174.06 414.01,174.78"/>
<polygon fill="#484ef1" points="414.01,174.78 417.53,174.78 421.04,174.78 424.56,174.78 428.07,174.78 431.58,174.78 435.1,174.47 438.61,173.78 445.2,172.46 451.79,171.12 458.39,169.74 464.98,168.34 471.57,166.9 478.16,165.44 484.75,163.95 491.34,162.43 497.94,160.88 504.53,159.3 511.12,157.7 517.71,156.06 524.3,154.39 530.89,152.7 537.48,150.98 544.08,149.22 550.67,147.44 557.26,145.63 563.85,143.79 570.44,141.93 577.03,140.03 583.63,138.1 590.22,136.15 596.81,134.16 603.4,132.15 603.4,99.45 596.81,102.09 590.22,104.81 583.63,107.58 577.03,110.39 570.44,113.22 563.85,116.06 557.26,118.91 550.67,121.74 544.08,124.55 537.48,127.35 530.89,130.12 524.3,132.88 517.71,135.62 511.12,138.34 504.53,141.04 497.94,143.73 491.34,146.39 484.75,149.03 478.16,151.64 471.57,154.2 464.98,156.73 458.39,159.23 451.79,161.71 445.2,164.15 438.61,166.57 435.1,167.85 431.58,169.12 428.07,170.39 424.56,171.65 421.04,172.91 417.53,174.16 414.01,174.78"/>
<polygon fill="#4850f2" points="414.01,174.78 417.53,174.78 421.04,174.78 424.56,174.78 428.07,174.78 431.58,174.78 435.1,174.47 438.61,173.78 445.2,172.46 451.79,171.12 458.39,169.74 464.98,168.34 471.57,166.9 478.16,165.44 484.75,163.95 491.34,162.43 497.94,160.88 504.53,159.3 511.12,157.7 517.71,156.06 524.3,154.39 530.89,152.7 537.48,150.98 544.08,149.22 550.67,147.44 557.26,145.63 563.85,143.79 570.44,141.93 577.03,140.03 583.63,138.1 590.22,136.15 596.81,134.16 603.4,132.15 603.4,100.33 596.81,102.98 590.22,105.68 583.63,108.44 577.03,111.22 570.44,114.03 563.85,116.85 557.26,119.67 550.67,122.47 544.08,125.26 537.48,128.03 530.89,130.77 524.3,133.5 517.71,136.2 511.12,138.89 504.53,141.57 497.94,144.22 491.34,146.85 484.75,149.46 478.16,152.03 471.57,154.56 464.98,157.06 458.39,159.53 451.79,161.97 445.2,164.38 438.61,166.77 435.1,168.03 431.58,169.29 428.07,170.54 424.56,171.79 421.04,173.03 417.53,174.26 414.01,174.78"/>
<polygon fill="#4852f4" points="414.01,174.78 417.53,174.78 421.04,174.78 424.56,174.78 428.07,174.78 431.58,174.78 435.1,174.47 438.61,173.78 445.2,172.46 451.79,171.12 458.39,169.74 464.98,168.34 471.57,166.9 478.16,165.44 484.75,163.95 491.34,162.43 497.94,160.88 504.53,159.3 511.12,157.7 517.71,156.06 524.3,154.39 530.89,152.7 537.48,150.98 544.08,149.22 550.67,147.44 557.26,145.63 563.85,143.79 570.44,141.93 577.03,140.03 583.63,138.1 590.22,136.15 596.81,134.16 603.4,132.15 603.4,100.95 596.81,103.69 590.22,106.46 583.63,109.25 577.03,112.02 570.44,114.81 563.85,117.6 557.26,120.39 550.67,123.17 544.08,125.93 537.48,128.67 530.89,131.39 524.3,134.08 517.71,136.76 511.12,139.42 504.53,142.07 497.94,144.69 491.34,147.29 484.75,149.86 478.16,152.4 471.57,154.91 464.98,157.38 458.39,159.82 451.79,162.23 445.2,164.61 438.61,166.96 435.1,168.21 431.58,169.45 428.07,170.68 424.56,171.91 421.04,173.14 417.53,174.35 414.01,174.78"/>
<polygon fill="#4853f5" points="414.01,174.78 417.53,174.78 421.04,174.78 424.56,174.78 428.07,174.78 431.58,174.78 435.1,174.47 438.61,173.78 445.2,172.46 451.79,171.12 458.39,169.74 464.98,168.34 471.57,166.9 478.16,165.44 484.75,163.95 491.34,162.43 497.94,160.88 504.53,159.3 511.12,157.7 517.71,156.06 524.3,154.39 530.89,152.7 537.48,150.98 544.08,149.22 550.67,147.44 557.26,145.63 563.85,143.79 570.44,141.93 577.03,140.03 583.63,138.1 590.22,136.15 596.81,134.16 603.4,132.15 603.4,101.55 596.81,104.28 590.22,107.04 583.63,109.83 577.03,112.63 570.44,115.44 563.85,118.24 557.26,121.03 550.67,123.81 544.08,126.56 537.48,129.28 530.89,131.97 524.3,134.64 517.71,137.3 511.12,139.93 504.53,142.54 497.94,145.14 491.34,147.71 484.75,150.25 478.16,152.76 471.57,155.24 464.98,157.68 458.39,160.09 451.79,162.47 445.2,164.82 438.61,167.15 435.1,168.38 431.58,169.6 428.07,170.82 424.56,172.03 421.04,173.24 417.53,174.44 414.01,174.78"/>
<polygon fill="#4755f6" points="414.01,174.78 417.53,174.78 421.04,174.78 424.56,174.78 428.07,174.78 431.58,174.78 435.1,174.47 438.61,173.78 445.2,172.46 451.79,171.12 458.39,169.74 464.98,168.34 471.57,166.9 478.16,165.44 484.75,163.95 491.34,162.43 497.94,160.88 504.53,159.3 511.12,157.7 517.71,156.06 524.3,154.39 530.89,152.7 537.48,150.98 544.08,149.22 550.67,147.44 557.26,145.63 563.85,143.79 570.44,141.93 577.03,140.03 583.63,138.1 590.22,136.15 596.81,134.16 603.4,132.15 603.4,102.12 596.81,104.84 590.22,107.59 583.63,110.37 577.03,113.15 570.44,115.95 563.85,118.73 557.26,121.51 550.67,124.26 544.08,126.99 537.48,129.7 530.89,132.39 524.3,135.05 517.71,137.69 511.12,140.31 504.53,142.91 497.94,145.48 491.34,148.03 484.75,150.55 478.16,153.04 471.57,155.5 464.98,157.92 458.39,160.31 451.79,162.68 445.2,165.01 438.61,167.32 435.1,168.54 431.58,169.75 428.07,170.95 424.56,172.15 421.04,173.34 417.53,174.52 414.01,174.78"/>
<polygon fill="#4756f7" points="414.01,174.78 417.53,174.78 421.04,174.78 424.56,174.78 428.07,174.78 431.58,174.78 435.1,174.47 438.61,173.78 445.2,172.46 451.79,171.12 458.39,169.74 464.98,168.34 471.57,166.9 478.16,165.44 484.75,163.95 491.34,162.43 497.94,160.88 504.53,159.3 511.12,157.7 517.71,156.06 524.3,154.39 530.89,152.7 537.48,150.98 544.08,149.22 550.67,147.44 557.26,145.63 563.85,143.79 570.44,141.93 577.03,140.03 583.63,138.1 590.22,136.15 596.81,134.16 603.4,132.15 603.4,102.66 596.81,105.37 590.22,108.12 583.63,110.88 577.03,113.65 570.44,116.43 563.85,119.2 557.26,121.96 550.67,124.7 544.08,127.41 537.48,130.1 530.89,132.77 524.3,135.42 517.71,138.04 511.12,140.64 504.53,143.22 497.94,145.77 491.34,148.3 484.75,150.8 478.16,153.27 471.57,155.71 464.98,158.11 458.39,160.49 451.79,162.83 445.2,165.15 438.61,167.44 435.1,168.65 431.58,169.85 428.07,171.05 424.56,172.24 421.04,173.42 417.53,174.6 414.01,174.78"/>
<polygon fill="#4758f8" points="414.01,174.78 417.53,174.78 421.04,174.78 424.56,174.78 428.07,174.78 431.58,174.78 435.1,174.47 438.61,173.78 445.2,172.46 451.79,171.12 458.39,169.74 464.98,168.34 471.57,166.9 478.16,165.44 484.75,163.95 491.34,162.43 497.94,160.88 504.53,159.3 511.12,157.7 517.71,156.06 524.3,154.39 530.89,152.7 537.48,150.98 544.08,149.22 550.67,147.44 557.26,145.63 563.85,143.79 570.44,141.93 577.03,140.03 583.63,138.1 590.22,136.15 596.81,134.16 603.4,132.15 603.4,103.19 596.81,105.89 590.22,108.62 583.63,111.37 577.03,114.13 570.44,116.9 563.85,119.65 557.26,122.39 550.67,125.11 544.08,127.81 537.48,130.49 530.89,133.14 524.3,135.76 517.71,138.37 511.12,140.95 504.53,143.51 497.94,146.05 491.34,148.56 484.75,151.04 478.16,153.49 471.57,155.91 464.98,158.3 458.39,160.65 451.79,162.98 445.2,165.28 438.61,167.55 435.1,168.75 431.58,169.95 428.07,171.13 424.56,172.31 421.04,173.49 417.53,174.65 414.01,174.78"/>
<polygon fill="#4759f9" points="414.01,174.78 417.53,174.78 421.04,174.78 424.56,174.78 428.07,174.78 431.58,174.78 435.1,174.47 438.61,173.78 445.2,172.46 451.79,171.12 458.39,169.74 464.98,168.34 471.57,166.9 478.16,165.44 484.75,163.95 491.34,162.43 497.94,160.88 504.53,159.3 511.12,157.7 517.71,156.06 524.3,154.39 530.89,152.7 537.48,150.98 544.08,149.22 550.67,147.44 557.26,145.63 563.85,143.79 570.44,141.93 577.03,140.03 583.63,138.1 590.22,136.15 596.81,134.16 603.4,132.15 603.4,103.69 596.81,106.38 590.22,109.11 583.63,111.85 577.03,114.59 570.44,117.34 563.85,120.08 557.26,122.81 550.67,125.51 544.08,128.2 537.48,130.85 530.89,133.49 524.3,136.1 517.71,138.69 511.12,141.25 504.53,143.79 497.94,146.31 491.34,148.81 484.75,151.27 478.16,153.71 471.57,156.11 464.98,158.48 458.39,160.81 451.79,163.12 445.2,165.4 438.61,167.66 435.1,168.85 431.58,170.04 428.07,171.21 424.56,172.38 421.04,173.55 417.53,174.7 414.01,174.78"/>
<polygon fill="#475bf9" points="414.01,174.78 417.53,174.78 421.04,174.78 424.56,174.78 428.07,174.78 431.58,174.78 435.1,174.47 438.61,173.78 445.2,172.46 451.79,171.12 458.39,169.74 464.98,168.34 471.57,166.9 478.16,165.44 484.75,163.95 491.34,162.43 497.94,160.88 504.53,159.3 511.12,157.7 517.71,156.06 524.3,154.39 530.89,152.7 537.48,150.98 544.08,149.22 550.67,147.44 557.26,145.63 563.85,143.79 570.44,141.93 577.03,140.03 583.63,138.1 590.22,136.15 596.81,134.16 603.4,132.15 603.4,104.17 596.81,106.86 590.22,109.57 583.63,112.3 577.03,115.04 570.44,117.77 563.85,120.49 557.26,123.21 550.67,125.9 544.08,128.56 537.48,131.21 530.89,133.82 524.3,136.42 517.71,138.99 511.12,141.54 504.53,144.06 497.94,146.57 491.34,149.04 484.75,151.49 478.16,153.91 471.57,156.29 464.98,158.65 458.39,160.97 451.79,163.26 445.2,165.52 438.61,167.76 435.1,168.95 431.58,170.12 428.07,171.29 424.56,172.45 421.04,173.6 417.53,174.75 414.01,174.78"/>
<polygon fill="#475dfa" points="417.53,174.78 421.04,174.78 424.56,174.78 428.07,174.78 431.58,174.78 435.1,174.47 438.61,173.78 445.2,172.46 451.79,171.12 458.39,169.74 464.98,168.34 471.57,166.9 478.16,165.44 484.75,163.95 491.34,162.43 497.94,160.88 504.53,159.3 511.12,157.7 517.71,156.06 524.3,154.39 530.89,152.7 537.48,150.98 544.08,149.22 550.67,147.44 557.26,145.63 563.85,143.79 570.44,141.93 577.03,140.03 583.63,138.1 590.22,136.15 596.81,134.16 603.4,132.15 603.4,104.64 596.81,107.32 590.22,110.02 583.63,112.74 577.03,115.46 570.44,118.18 563.85,120.89 557.26,123.59 550.67,126.27 544.08,128.92 537.48,131.54 530.89,134.15 524.3,136.73 517.71,139.28 511.12,141.82 504.53,144.33 497.94,146.81 491.34,149.27 484.75,151.7 478.16,154.1 471.57,156.47 464.98,158.81 458.39,161.11 451.79,163.39 445.2,165.64 438.61,167.86 435.1,169.04 431.58,170.2 428.07,171.36 424.56,172.51 421.04,173.66 417.53,174.78"/>
<polygon fill="#465efb" points="417.53,174.78 421.04,174.78 424.56,174.78 428.07,174.78 431.58,174.78 435.1,174.47 438.61,173.78 445.2,172.46 451.79,171.12 458.39,169.74 464.98,168.34 471.57,166.9 478.16,165.44 484.75,163.95 491.34,162.43 497.94,160.88 504.53,159.3 511.12,157.7 517.71,156.06 524.3,154.39 530.89,152.7 537.48,150.98 544.08,149.22 550.67,147.44 557.26,145.63 563.85,143.79 570.44,141.93 577.03,140.03 583.63,138.1 590.22,136.15 596.81,134.16 603.4,132.15 603.4,105.09 596.81,107.76 590.22,110.45 583.63,113.16 577.03,115.87 570.44,118.58 563.85,121.27 557.26,123.96 550.67,126.62 544.08,129.26 537.48,131.87 530.89,134.46 524.3,137.02 517.71,139.56 511.12,142.08 504.53,144.58 497.94,147.05 491.34,149.49 484.75,151.91 478.16,154.29 471.57,156.64 464.98,158.97 458.39,161.26 451.79,163.52 445.2,165.75 438.61,167.96 435.1,169.12 431.58,170.28 428.07,171.43 424.56,172.58 421.04,173.71 417.53,174.78"/>
<polygon fill="#4660fb" points="417.53,174.78 421.04,174.78 424.56,174.78 428.07,174.78 431.58,174.78 435.1,174.47 438.61,173.78 445.2,172.46 451.79,171.12 458.39,169.74 464.98,168.34 471.57,166.9 478.16,165.44 484.75,163.95 491.34,162.43 497.94,160.88 504.53,159.3 511.12,157.7 517.71,156.06 524.3,154.39 530.89,152.7 537.48,150.98 544.08,149.22 550.67,147.44 557.26,145.63 563.85,143.79 570.44,141.93 577.03,140.03 583.63,138.1 590.22,136.15 596.81,134.16 603.4,132.15 603.4,105.52 596.81,108.18 590.22,110.87 583.63,113.56 577.03,116.26 570.44,118.96 563.85,121.64 557.26,124.31 550.67,126.96 544.08,129.58 537.48,132.18 530.89,134.76 524.3,137.31 517.71,139.84 511.12,142.34 504.53,144.82 497.94,147.27 491.34,149.7 484.75,152.1 478.16,154.47 471.57,156.81 464.98,159.12 458.39,161.39 451.79,163.64 445.2,165.86 438.61,168.05 435.1,169.21 431.58,170.36 428.07,171.5 424.56,172.63 421.04,173.76 417.53,174.78"/>
<polygon fill="#4561fc" points="417.53,174.78 421.04,174.78 424.56,174.78 428.07,174.78 431.58,174.78 435.1,174.47 438.61,173.78 445.2,172.46 451.79,171.12 458.39,169.74 464.98,168.34 471.57,166.9 478.16,165.44 484.75,163.95 491.34,162.43 497.94,160.88 504.53,159.3 511.12,157.7 517.71,156.06 524.3,154.39 530.89,152.7 537.48,150.98 544.08,149.22 550.67,147.44 557.26,145.63 563.85,143.79 570.44,141.93 577.03,140.03 583.63,138.1 590.22,136.15 596.81,134.16 603.4,132.15 603.4,105.93 596.81,108.59 590.22,111.27 583.63,113.95 577.03,116.64 570.44,119.33 563.85,122 557.26,124.65 550.67,127.29 544.08,129.9 537.48,132.49 530.89,135.05 524.3,137.58 517.71,140.1 511.12,142.58 504.53,145.05 497.94,147.49 491.34,149.91 484.75,152.29 478.16,154.65 471.57,156.97 464.98,159.26 458.39,161.52 451.79,163.76 445.2,165.96 438.61,168.14 435.1,169.29 431.58,170.43 428.07,171.56 424.56,172.69 421.04,173.81 417.53,174.78"/>
<polygon fill="#4563fd" points="417.53,174.78 421.04,174.78 424.56,174.78 428.07,174.78 431.58,174.78 435.1,174.47 438.61,173.78 445.2,172.46 451.79,171.12 458.39,169.74 464.98,168.34 471.57,166.9 478.16,165.44 484.75,163.95 491.34,162.43 497.94,160.88 504.53,159.3 511.12,157.7 517.71,156.06 524.3,154.39 530.89,152.7 537.48,150.98 544.08,149.22 550.67,147.44 557.26,145.63 563.85,143.79 570.44,141.93 577.03,140.03 583.63,138.1 590.22,136.15 596.81,134.16 603.4,132.15 603.4,106.33 596.81,108.98 590.22,111.65 583.63,114.33 577.03,117.01 570.44,119.68 563.85,122.34 557.26,124.98 550.67,127.61 544.08,130.2 537.48,132.78 530.89,135.32 524.3,137.85 517.71,140.35 511.12,142.82 504.53,145.27 497.94,147.7 491.34,150.1 484.75,152.47 478.16,154.81 471.57,157.12 464.98,159.4 458.39,161.65 451.79,163.87 445.2,166.06 438.61,168.22 435.1,169.36 431.58,170.5 428.07,171.63 424.56,172.75 421.04,173.86 417.53,174.78"/>
<polygon fill="#4465fd" points="417.53,174.78 421.04,174.78 424.56,174.78 428.07,174.78 431.58,174.78 435.1,174.47 438.61,173.78 445.2,172.46 451.79,171.12 458.39,169.74 464.98,168.34 471.57,166.9 478.16,165.44 484.75,163.95 491.34,162.43 497.94,160.88 504.53,159.3 511.12,157.7 517.71,156.06 524.3,154.39 530.89,152.7 537.48,150.98 544.08,149.22 550.67,147.44 557.26,145.63 563.85,143.79 570.44,141.93 577.03,140.03 583.63,138.1 590.22,136.15 596.81,134.16 603.4,132.15 603.4,106.72 596.81,109.36 590.22,112.02 583.63,114.69 577.03,117.36 570.44,120.02 563.85,122.67 557.26,125.3 550.67,127.91 544.08,130.5 537.48,133.06 530.89,135.59 524.3,138.1 517.71,140.59 511.12,143.05 504.53,145.49 497.94,147.9 491.34,150.29 484.75,152.65 478.16,154.98 471.57,157.27 464.98,159.54 458.39,161.77 451.79,163.98 445.2,166.15 438.61,168.3 435.1,169.44 431.58,170.57 428.07,171.69 424.56,172.8 421.04,173.91 417.53,174.78"/>
<polygon fill="#4466fd" points="417.53,174.78 421.04,174.78 424.56,174.78 428.07,174.78 431.58,174.78 435.1,174.47 438.61,173.78 445.2,172.46 451.79,171.12 458.39,169.74 464.98,168.34 471.57,166.9 478.16,165.44 484.75,163.95 491.34,162.43 497.94,160.88 504.53,159.3 511.12,157.7 517.71,156.06 524.3,154.39 530.89,152.7 537.48,150.98 544.08,149.22 550.67,147.44 557.26,145.63 563.85,143.79 570.44,141.93 577.03,140.03 583.63,138.1 590.22,136.15 596.81,134.16 603.4,132.15 603.4,107.1 596.81,109.73 590.22,112.38 583.63,115.04 577.03,117.7 570.44,120.35 563.85,122.99 557.26,125.61 550.67,128.21 544.08,130.78 537.48,133.33 530.89,135.85 524.3,138.35 517.71,140.82 511.12,143.27 504.53,145.7 497.94,148.1 491.34,150.47 484.75,152.82 478.16,155.13 471.57,157.42 464.98,159.67 458.39,161.89 451.79,164.08 445.2,166.25 438.61,168.38 435.1,169.51 431.58,170.63 428.07,171.75 424.56,172.85 421.04,173.95 417.53,174.78"/>
<polygon fill="#4368fe" points="417.53,174.78 421.04,174.78 424.56,174.78 428.07,174.78 431.58,174.78 435.1,174.47 438.61,173.78 445.2,172.46 451.79,171.12 458.39,169.74 464.98,168.34 471.57,166.9 478.16,165.44 484.75,163.95 491.34,162.43 497.94,160.88 504.53,159.3 511.12,157.7 517.71,156.06 524.3,154.39 530.89,152.7 537.48,150.98 544.08,149.22 550.67,147.44 557.26,145.63 563.85,143.79 570.44,141.93 577.03,140.03 583.63,138.1 590.22,136.15 596.81,134.16 603.4,132.15 603.4,107.46 596.81,110.09 590.22,112.73 583.63,115.38 577.03,118.03 570.44,120.67 563.85,123.3 557.26,125.91 550.67,128.49 544.08,131.05 537.48,133.59 530.89,136.1 524.3,138.59 517.71,141.05 511.12,143.49 504.53,145.9 497.94,148.29 491.34,150.65 484.75,152.98 478.16,155.28 471.57,157.55 464.98,159.79 458.39,162 451.79,164.18 445.2,166.33 438.61,168.46 435.1,169.58 431.58,170.69 428.07,171.8 424.56,172.9 421.04,173.99 417.53,174.78"/>
<polygon fill="#426afe" points="417.53,174.78 421.04,174.78 424.56,174.78 428.07,174.78 431.58,174.78 435.1,174.47 438.61,173.78 445.2,172.46 451.79,171.12 458.39,169.74 464.98,168.34 471.57,166.9 478.16,165.44 484.75,163.95 491.34,162.43 497.94,160.88 504.53,159.3 511.12,157.7 517.71,156.06 524.3,154.39 530.89,152.7 537.48,150.98 544.08,149.22 550.67,147.44 557.26,145.63 563.85,143.79 570.44,141.93 577.03,140.03 583.63,138.1 590.22,136.15 596.81,134.16 603.4,132.15 603.4,107.81 596.81,110.43 590.22,113.07 583.63,115.71 577.03,118.35 570.44,120.98 563.85,123.59 557.26,126.19 550.67,128.77 544.08,131.32 537.48,133.84 530.89,136.34 524.3,138.82 517.71,141.27 511.12,143.69 504.53,146.09 497.94,148.47 491.34,150.82 484.75,153.14 478.16,155.43 471.57,157.69 464.98,159.91 458.39,162.11 451.79,164.28 445.2,166.42 438.61,168.53 435.1,169.65 431.58,170.76 428.07,171.86 424.56,172.95 421.04,174.03 417.53,174.78"/>
<polygon fill="#416bfe" points="417.53,174.78 421.04,174.78 424.56,174.78 428.07,174.78 431.58,174.78 435.1,174.47 438.61,173.78 445.2,172.46 451.79,171.12 458.39,169.74 464.98,168.34 471.57,166.9 478.16,165.44 484.75,163.95 491.34,162.43 497.94,160.88 504.53,159.3 511.12,157.7 517.71,156.06 524.3,154.39 530.89,152.7 537.48,150.98 544.08,149.22 550.67,147.44 557.26,145.63 563.85,143.79 570.44,141.93 577.03,140.03 583.63,138.1 590.22,136.15 596.81,134.16 603.4,132.15 603.4,108.15 596.81,110.77 590.22,113.39 583.63,116.03 577.03,118.66 570.44,121.28 563.85,123.88 557.26,126.47 550.67,129.03 544.08,131.57 537.48,134.09 530.89,136.58 524.3,139.04 517.71,141.48 511.12,143.89 504.53,146.28 497.94,148.65 491.34,150.98 484.75,153.29 478.16,155.57 471.57,157.82 464.98,160.03 458.39,162.22 451.79,164.37 445.2,166.5 438.61,168.6 435.1,169.71 431.58,170.81 428.07,171.91 424.56,172.99 421.04,174.07 417.53,174.78"/>
<polygon fill="#406dfe" points="417.53,174.78 421.04,174.78 424.56,174.78 428.07,174.78 431.58,174.78 435.1,174.47 438.61,173.78 445.2,172.46 451.79,171.12 458.39,169.74 464.98,168.34 471.57,166.9 478.16,165.44 484.75,163.95 491.34,162.43 497.94,160.88 504.53,159.3 511.12,157.7 517.71,156.06 524.3,154.39 530.89,152.7 537.48,150.98 544.08,149.22 550.67,147.44 557.26,145.63 563.85,143.79 570.44,141.93 577.03,140.03 583.63,138.1 590.22,136.15 596.81,134.16 603.4,132.15 603.4,108.48 596.81,111.09 590.22,113.71 583.63,116.33 577.03,118.95 570.44,121.56 563.85,124.16 557.26,126.74 550.67,129.29 544.08,131.82 537.48,134.33 530.89,136.8 524.3,139.26 517.71,141.68 511.12,144.08 504.53,146.46 497.94,148.82 491.34,151.14 484.75,153.44 478.16,155.71 471.57,157.94 464.98,160.15 458.39,162.32 451.79,164.47 445.2,166.58 438.61,168.67 435.1,169.78 431.58,170.87 428.07,171.96 424.56,173.04 421.04,174.11 417.53,174.78"/>
<polygon fill="#3f6fff" points="417.53,174.78 421.04,174.78 424.56,174.78 428.07,174.78 431.58,174.78 435.1,174.47 438.61,173.78 445.2,172.46 451.79,171.12 458.39,169.74 464.98,168.34 471.57,166.9 478.16,165.44 484.75,163.95 491.34,162.43 497.94,160.88 504.53,159.3 511.12,157.7 517.71,156.06 524.3,154.39 530.89,152.7 537.48,150.98 544.08,149.22 550.67,147.44 557.26,145.63 563.85,143.79 570.44,141.93 577.03,140.03 583.63,138.1 590.22,136.15 596.81,134.16 603.4,132.15 603.4,108.8 596.81,111.4 590.22,114.02 583.63,116.63 577.03,119.24 570.44,121.84 563.85,124.43 557.26,127 550.67,129.54 544.08,132.06 537.48,134.55 530.89,137.02 524.3,139.46 517.71,141.88 511.12,144.27 504.53,146.64 497.94,148.98 491.34,151.3 484.75,153.58 478.16,155.84 471.57,158.06 464.98,160.26 458.39,162.42 451.79,164.55 445.2,166.66 438.61,168.74 435.1,169.84 431.58,170.93 428.07,172.01 424.56,173.08 421.04,174.15 417.53,174.78"/>
<polygon fill="#3d70ff" points="417.53,174.78 421.04,174.78 424.56,174.78 428.07,174.78 431.58,174.78 435.1,174.47 438.61,173.78 445.2,172.46 451.79,171.12 458.39,169.74 464.98,168.34 471.57,166.9 478.16,165.44 484.75,163.95 491.34,162.43 497.94,160.88 504.53,159.3 511.12,157.7 517.71,156.06 524.3,154.39 530.89,152.7 537.48,150.98 544.08,149.22 550.67,147.44 557.26,145.63 563.85,143.79 570.44,141.93 577.03,140.03 583.63,138.1 590.22,136.15 596.81,134.16 603.4,132.15 603.4,109.11 596.81,111.7 590.22,114.31 583.63,116.92 577.03,119.52 570.44,122.12 563.85,124.69 557.26,127.25 550.67,129.78 544.08,132.29 537.48,134.78 530.89,137.23 524.3,139.67 517.71,142.07 511.12,144.45 504.53,146.81 497.94,149.14 491.34,151.45 484.75,153.72 478.16,155.97 471.57,158.18 464.98,160.36 458.39,162.52 451.79,164.64 445.2,166.74 438.61,168.8 435.1,169.89 431.58,170.98 428.07,172.06 424.56,173.12 421.04,174.19 417.53,174.78"/>
<polygon fill="#3b72ff" points="417.53,174.78 421.04,174.78 424.56,174.78 428.07,174.78 431.58,174.78 435.1,174.47 438.61,173.78 445.2,172.46 451.79,171.12 458.39,169.74 464.98,168.34 471.57,166.9 478.16,165.44 484.75,163.95 491.34,162.43 497.94,160.88 504.53,159.3 511.12,157.7 517.71,156.06 524.3,154.39 530.89,152.7 537.48,150.98 544.08,149.22 550.67,147.44 557.26,145.63 563.85,143.79 570.44,141.93 577.03,140.03 583.63,138.1 590.22,136.15 596.81,134.16 603.4,132.15 603.4,109.41 596.81,112 590.22,114.6 583.63,117.2 577.03,119.79 570.44,122.38 563.85,124.95 557.26,127.49 550.67,130.02 544.08,132.52 537.48,134.99 530.89,137.44 524.3,139.86 517.71,142.26 511.12,144.63 504.53,146.97 497.94,149.3 491.34,151.59 484.75,153.86 478.16,156.09 471.57,158.29 464.98,160.47 458.39,162.61 451.79,164.72 445.2,166.81 438.61,168.87 435.1,169.95 431.58,171.03 428.07,172.1 424.56,173.16 421.04,174.22 417.53,174.78"/>
<polygon fill="#3a74fe" points="417.53,174.78 421.04,174.78 424.56,174.78 428.07,174.78 431.58,174.78 435.1,174.47 438.61,173.78 445.2,172.46 451.79,171.12 458.39,169.74 464.98,168.34 471.57,166.9 478.16,165.44 484.75,163.95 491.34,162.43 497.94,160.88 504.53,159.3 511.12,157.7 517.71,156.06 524.3,154.39 530.89,152.7 537.48,150.98 544.08,149.22 550.67,147.44 557.26,145.63 563.85,143.79 570.44,141.93 577.03,140.03 583.63,138.1 590.22,136.15 596.81,134.16 603.4,132.15 603.4,109.7 596.81,112.28 590.22,114.88 583.63,117.47 577.03,120.06 570.44,122.63 563.85,125.19 557.26,127.73 550.67,130.25 544.08,132.74 537.48,135.2 530.89,137.64 524.3,140.05 517.71,142.44 511.12,144.8 504.53,147.14 497.94,149.45 491.34,151.73 484.75,153.99 478.16,156.21 471.57,158.4 464.98,160.57 458.39,162.7 451.79,164.8 445.2,166.88 438.61,168.93 435.1,170.01 431.58,171.08 428.07,172.15 424.56,173.2 421.04,174.25 417.53,174.78"/>
<polygon fill="#3876fe" points="417.53,174.78 421.04,174.78 424.56,174.78 428.07,174.78 431.58,174.78 435.1,174.47 438.61,173.78 445.2,172.46 451.79,171.12 458.39,169.74 464.98,168.34 471.57,166.9 478.16,165.44 484.75,163.95 491.34,162.43 497.94,160.88 504.53,159.3 511.12,157.7 517.71,156.06 524.3,154.39 530.89,152.7 537.48,150.98 544.08,149.22 550.67,147.44 557.26,145.63 563.85,143.79 570.44,141.93 577.03,140.03 583.63,138.1 590.22,136.15 596.81,134.16 603.4,132.15 603.4,109.98 596.81,112.56 590.22,115.15 583.63,117.73 577.03,120.31 570.44,122.88 563.85,125.43 557.26,127.96 550.67,130.47 544.08,132.95 537.48,135.4 530.89,137.83 524.3,140.24 517.71,142.61 511.12,144.96 504.53,147.29 497.94,149.59 491.34,151.87 484.75,154.11 478.16,156.33 471.57,158.51 464.98,160.66 458.39,162.79 451.79,164.88 445.2,166.95 438.61,168.99 435.1,170.06 431.58,171.13 428.07,172.19 424.56,173.24 421.04,174.29 417.53,174.78"/>
<polygon fill="#3677fe" points="417.53,174.78 421.04,174.78 424.56,174.78 428.07,174.78 431.58,174.78 435.1,174.47 438.61,173.78 445.2,172.46 451.79,171.12 458.39,169.74 464.98,168.34 471.57,166.9 478.16,165.44 484.75,163.95 491.34,162.43 497.94,160.88 504.53,159.3 511.12,157.7 517.71,156.06 524.3,154.39 530.89,152.7 537.48,150.98 544.08,149.22 550.67,147.44 557.26,145.63 563.85,143.79 570.44,141.93 577.03,140.03 583.63,138.1 590.22,136.15 596.81,134.16 603.4,132.15 603.4,110.25 596.81,112.83 590.22,115.41 583.63,117.99 577.03,120.56 570.44,123.12 563.85,125.66 557.26,128.18 550.67,130.68 544.08,133.15 537.48,135.6 530.89,138.02 524.3,140.41 517.71,142.78 511.12,145.12 504.53,147.44 497.94,149.73 491.34,152 484.75,154.23 478.16,156.44 471.57,158.61 464.98,160.76 458.39,162.87 451.79,164.96 445.2,167.01 438.61,169.04 435.1,170.11 431.58,171.18 428.07,172.23 424.56,173.28 421.04,174.32 417.53,174.78"/>
<polygon fill="#3479fd" points="417.53,174.78 421.04,174.78 424.56,174.78 428.07,174.78 431.58,174.78 435.1,174.47 438.61,173.78 445.2,172.46 451.79,171.12 458.39,169.74 464.98,168.34 471.57,166.9 478.16,165.44 484.75,163.95 491.34,162.43 497.94,160.88 504.53,159.3 511.12,157.7 517.71,156.06 524.3,154.39 530.89,152.7 537.48,150.98 544.08,149.22 550.67,147.44 557.26,145.63 563.85,143.79 570.44,141.93 577.03,140.03 583.63,138.1 590.22,136.15 596.81,134.16 603.4,132.15 603.4,110.52 596.81,113.09 590.22,115.67 583.63,118.24 577.03,120.8 570.44,123.35 563.85,125.89 557.26,128.4 550.67,130.89 544.08,133.35 537.48,135.79 530.89,138.2 524.3,140.59 517.71,142.95 511.12,145.28 504.53,147.59 497.94,149.87 491.34,152.13 484.75,154.35 478.16,156.55 471.57,158.72 464.98,160.85 458.39,162.96 451.79,165.03 445.2,167.08 438.61,169.1 435.1,170.16 431.58,171.22 428.07,172.27 424.56,173.31 421.04,174.35 417.53,174.78"/>
<polygon fill="#317efb" points="417.53,174.78 421.04,174.78 424.56,174.78 428.07,174.78 431.58,174.78 435.1,174.47 438.61,173.78 445.2,172.46 451.79,171.12 458.39,169.74 464.98,168.34 471.57,166.9 478.16,165.44 484.75,163.95 491.34,162.43 497.94,160.88 504.53,159.3 511.12,157.7 517.71,156.06 524.3,154.39 530.89,152.7 537.48,150.98 544.08,149.22 550.67,147.44 557.26,145.63 563.85,143.79 570.44,141.93 577.03,140.03 583.63,138.1 590.22,136.15 596.81,134.16 603.4,132.15 603.4,110.78 596.81,113.35 590.22,115.92 583.63,118.48 577.03,121.04 570.44,123.58 563.85,126.11 557.26,128.61 550.67,131.09 544.08,133.55 537.48,135.98 530.89,138.38 524.3,140.76 517.71,143.11 511.12,145.43 504.53,147.73 497.94,150.01 491.34,152.25 484.75,154.47 478.16,156.66 471.57,158.81 464.98,160.94 458.39,163.04 451.79,165.1 445.2,167.14 438.61,169.15 435.1,170.21 431.58,171.27 428.07,172.31 424.56,173.35 421.04,174.38 417.53,174.78"/>
<polygon fill="#2e86f7" points="417.53,174.78 421.04,174.78 424.56,174.78 428.07,174.78 431.58,174.78 435.1,174.47 438.61,173.78 445.2,172.46 451.79,171.12 458.39,169.74 464.98,168.34 471.57,166.9 478.16,165.44 484.75,163.95 491.34,162.43 497.94,160.88 504.53,159.3 511.12,157.7 517.71,156.06 524.3,154.39 530.89,152.7 537.48,150.98 544.08,149.22 550.67,147.44 557.26,145.63 563.85,143.79 570.44,141.93 577.03,140.03 583.63,138.1 590.22,136.15 596.81,134.16 603.4,132.15 603.4,112 596.81,114.54 590.22,117.08 583.63,119.62 577.03,122.14 570.44,124.65 563.85,127.13 557.26,129.6 550.67,132.04 544.08,134.46 537.48,136.85 530.89,139.21 524.3,141.55 517.71,143.86 511.12,146.14 504.53,148.4 497.94,150.63 491.34,152.84 484.75,155.01 478.16,157.16 471.57,159.27 464.98,161.36 458.39,163.41 451.79,165.44 445.2,167.43 438.61,169.4 435.1,170.44 431.58,171.47 428.07,172.5 424.56,173.51 421.04,174.52 417.53,174.78"/>
<polygon fill="#2c8ef1" points="417.53,174.78 421.04,174.78 424.56,174.78 428.07,174.78 431.58,174.78 435.1,174.47 438.61,173.78 445.2,172.46 451.79,171.12 458.39,169.74 464.98,168.34 471.57,166.9 478.16,165.44 484.75,163.95 491.34,162.43 497.94,160.88 504.53,159.3 511.12,157.7 517.71,156.06 524.3,154.39 530.89,152.7 537.48,150.98 544.08,149.22 550.67,147.44 557.26,145.63 563.85,143.79 570.44,141.93 577.03,140.03 583.63,138.1 590.22,136.15 596.81,134.16 603.4,132.15 603.4,113.07 596.81,115.59 590.22,118.1 583.63,120.61 577.03,123.1 570.44,125.58 563.85,128.03 557.26,130.47 550.67,132.88 544.08,135.26 537.48,137.61 530.89,139.94 524.3,142.24 517.71,144.51 511.12,146.76 504.53,148.98 497.94,151.18 491.34,153.35 484.75,155.49 478.16,157.6 471.57,159.67 464.98,161.72 458.39,163.74 451.79,165.73 445.2,167.69 438.61,169.62 435.1,170.64 431.58,171.65 428.07,172.66 424.56,173.65 421.04,174.64 417.53,174.78"/>
<polygon fill="#2895ec" points="417.53,174.78 421.04,174.78 424.56,174.78 428.07,174.78 431.58,174.78 435.1,174.47 438.61,173.78 445.2,172.46 451.79,171.12 458.39,169.74 464.98,168.34 471.57,166.9 478.16,165.44 484.75,163.95 491.34,162.43 497.94,160.88 504.53,159.3 511.12,157.7 517.71,156.06 524.3,154.39 530.89,152.7 537.48,150.98 544.08,149.22 550.67,147.44 557.26,145.63 563.85,143.79 570.44,141.93 577.03,140.03 583.63,138.1 590.22,136.15 596.81,134.16 603.4,132.15 603.4,114.02 596.81,116.52 590.22,119.01 583.63,121.49 577.03,123.96 570.44,126.4 563.85,128.83 557.26,131.23 550.67,133.61 544.08,135.96 537.48,138.29 530.89,140.58 524.3,142.85 517.71,145.09 511.12,147.31 504.53,149.5 497.94,151.66 491.34,153.8 484.75,155.91 478.16,157.98 471.57,160.03 464.98,162.05 458.39,164.03 451.79,165.99 445.2,167.92 438.61,169.82 435.1,170.82 431.58,171.81 428.07,172.8 424.56,173.78 421.04,174.75 417.53,174.78"/>
<polygon fill="#259ce7" points="421.04,174.78 424.56,174.78 428.07,174.78 431.58,174.78 435.1,174.47 438.61,173.78 445.2,172.46 451.79,171.12 458.39,169.74 464.98,168.34 471.57,166.9 478.16,165.44 484.75,163.95 491.34,162.43 497.94,160.88 504.53,159.3 511.12,157.7 517.71,156.06 524.3,154.39 530.89,152.7 537.48,150.98 544.08,149.22 550.67,147.44 557.26,145.63 563.85,143.79 570.44,141.93 577.03,140.03 583.63,138.1 590.22,136.15 596.81,134.16 603.4,132.15 603.4,114.74 596.81,117.24 590.22,119.73 583.63,122.21 577.03,124.66 570.44,127.09 563.85,129.5 557.26,131.88 550.67,134.24 544.08,136.57 537.48,138.87 530.89,141.14 524.3,143.39 517.71,145.61 511.12,147.8 504.53,149.96 497.94,152.09 491.34,154.2 484.75,156.28 478.16,158.33 471.57,160.34 464.98,162.33 458.39,164.29 451.79,166.22 445.2,168.12 438.61,169.99 435.1,170.98 431.58,171.96 428.07,172.93 424.56,173.89 421.04,174.78"/>
<polygon fill="#21a3e3" points="421.04,174.78 424.56,174.78 428.07,174.78 431.58,174.78 435.1,174.47 438.61,173.78 445.2,172.46 451.79,171.12 458.39,169.74 464.98,168.34 471.57,166.9 478.16,165.44 484.75,163.95 491.34,162.43 497.94,160.88 504.53,159.3 511.12,157.7 517.71,156.06 524.3,154.39 530.89,152.7 537.48,150.98 544.08,149.22 550.67,147.44 557.26,145.63 563.85,143.79 570.44,141.93 577.03,140.03 583.63,138.1 590.22,136.15 596.81,134.16 603.4,132.15 603.4,115.27 596.81,117.77 590.22,120.24 583.63,122.7 577.03,125.14 570.44,127.55 563.85,129.95 557.26,132.31 550.67,134.65 544.08,136.96 537.48,139.25 530.89,141.5 524.3,143.73 517.71,145.93 511.12,148.1 504.53,150.25 497.94,152.36 491.34,154.45 484.75,156.51 478.16,158.54 471.57,160.54 464.98,162.51 458.39,164.45 451.79,166.37 445.2,168.25 438.61,170.11 435.1,171.08 431.58,172.05 428.07,173.01 424.56,173.97 421.04,174.78"/>
<polygon fill="#1ca9df" points="421.04,174.78 424.56,174.78 428.07,174.78 431.58,174.78 435.1,174.47 438.61,173.78 445.2,172.46 451.79,171.12 458.39,169.74 464.98,168.34 471.57,166.9 478.16,165.44 484.75,163.95 491.34,162.43 497.94,160.88 504.53,159.3 511.12,157.7 517.71,156.06 524.3,154.39 530.89,152.7 537.48,150.98 544.08,149.22 550.67,147.44 557.26,145.63 563.85,143.79 570.44,141.93 577.03,140.03 583.63,138.1 590.22,136.15 596.81,134.16 603.4,132.15 603.4,115.77 596.81,118.24 590.22,120.71 583.63,123.15 577.03,125.58 570.44,127.98 563.85,130.35 557.26,132.7 550.67,135.03 544.08,137.32 537.48,139.59 530.89,141.83 524.3,144.04 517.71,146.22 511.12,148.38 504.53,150.51 497.94,152.61 491.34,154.68 484.75,156.72 478.16,158.74 471.57,160.72 464.98,162.68 458.39,164.6 451.79,166.5 445.2,168.37 438.61,170.2 435.1,171.17 431.58,172.13 428.07,173.09 424.56,174.03 421.04,174.78"/>
<polygon fill="#15afd9" points="421.04,174.78 424.56,174.78 428.07,174.78 431.58,174.78 435.1,174.47 438.61,173.78 445.2,172.46 451.79,171.12 458.39,169.74 464.98,168.34 471.57,166.9 478.16,165.44 484.75,163.95 491.34,162.43 497.94,160.88 504.53,159.3 511.12,157.7 517.71,156.06 524.3,154.39 530.89,152.7 537.48,150.98 544.08,149.22 550.67,147.44 557.26,145.63 563.85,143.79 570.44,141.93 577.03,140.03 583.63,138.1 590.22,136.15 596.81,134.16 603.4,132.15 603.4,116.22 596.81,118.68 590.22,121.13 583.63,123.57 577.03,125.98 570.44,128.36 563.85,130.72 557.26,133.06 550.67,135.37 544.08,137.65 537.48,139.9 530.89,142.13 524.3,144.32 517.71,146.49 511.12,148.63 504.53,150.75 497.94,152.83 491.34,154.89 484.75,156.92 478.16,158.92 471.57,160.89 464.98,162.83 458.39,164.74 451.79,166.62 445.2,168.47 438.61,170.29 435.1,171.25 431.58,172.21 428.07,173.15 424.56,174.09 421.04,174.78"/>
<polygon fill="#08b4d1" points="421.04,174.78 424.56,174.78 428.07,174.78 431.58,174.78 435.1,174.47 438.61,173.78 445.2,172.46 451.79,171.12 458.39,169.74 464.98,168.34 471.57,166.9 478.16,165.44 484.75,163.95 491.34,162.43 497.94,160.88 504.53,159.3 511.12,157.7 517.71,156.06 524.3,154.39 530.89,152.7 537.48,150.98 544.08,149.22 550.67,147.44 557.26,145.63 563.85,143.79 570.44,141.93 577.03,140.03 583.63,138.1 590.22,136.15 596.81,134.16 603.4,132.15 603.4,116.63 596.81,119.09 590.22,121.53 583.63,123.95 577.03,126.35 570.44,128.72 563.85,131.07 557.26,133.39 550.67,135.69 544.08,137.95 537.48,140.19 530.89,142.4 524.3,144.59 517.71,146.74 511.12,148.87 504.53,150.97 497.94,153.04 491.34,155.08 484.75,157.1 478.16,159.08 471.57,161.04 464.98,162.96 458.39,164.86 451.79,166.73 445.2,168.57 438.61,170.38 435.1,171.33 431.58,172.28 428.07,173.21 424.56,174.14 421.04,174.78"/>
<polygon fill="#01b9c8" points="421.04,174.78 424.56,174.78 428.07,174.78 431.58,174.78 435.1,174.47 438.61,173.78 445.2,172.46 451.79,171.12 458.39,169.74 464.98,168.34 471.57,166.9 478.16,165.44 484.75,163.95 491.34,162.43 497.94,160.88 504.53,159.3 511.12,157.7 517.71,156.06 524.3,154.39 530.89,152.7 537.48,150.98 544.08,149.22 550.67,147.44 557.26,145.63 563.85,143.79 570.44,141.93 577.03,140.03 583.63,138.1 590.22,136.15 596.81,134.16 603.4,132.15 603.4,117.02 596.81,119.47 590.22,121.89 583.63,124.3 577.03,126.69 570.44,129.05 563.85,131.39 557.26,133.7 550.67,135.98 544.08,138.23 537.48,140.46 530.89,142.66 524.3,144.83 517.71,146.97 511.12,149.09 504.53,151.17 497.94,153.23 491.34,155.26 484.75,157.26 478.16,159.24 471.57,161.18 464.98,163.09 458.39,164.98 451.79,166.83 445.2,168.66 438.61,170.45 435.1,171.4 431.58,172.34 428.07,173.27 424.56,174.19 421.04,174.78"/>
<polygon fill="#09bcbe" points="421.04,174.78 424.56,174.78 428.07,174.78 431.58,174.78 435.1,174.47 438.61,173.78 445.2,172.46 451.79,171.12 458.39,169.74 464.98,168.34 471.57,166.9 478.16,165.44 484.75,163.95 491.34,162.43 497.94,160.88 504.53,159.3 511.12,157.7 517.71,156.06 524.3,154.39 530.89,152.7 537.48,150.98 544.08,149.22 550.67,147.44 557.26,145.63 563.85,143.79 570.44,141.93 577.03,140.03 583.63,138.1 590.22,136.15 596.81,134.16 603.4,132.15 603.4,117.38 596.81,119.81 590.22,122.23 583.63,124.63 577.03,127 570.44,129.36 563.85,131.68 557.26,133.98 550.67,136.25 544.08,138.49 537.48,140.71 530.89,142.9 524.3,145.06 517.71,147.19 511.12,149.29 504.53,151.36 497.94,153.41 491.34,155.43 484.75,157.42 478.16,159.38 471.57,161.31 464.98,163.21 458.39,165.08 451.79,166.93 445.2,168.74 438.61,170.52 435.1,171.46 431.58,172.4 428.07,173.32 424.56,174.24 421.04,174.78"/>
<polygon fill="#1bc0b4" points="421.04,174.78 424.56,174.78 428.07,174.78 431.58,174.78 435.1,174.47 438.61,173.78 445.2,172.46 451.79,171.12 458.39,169.74 464.98,168.34 471.57,166.9 478.16,165.44 484.75,163.95 491.34,162.43 497.94,160.88 504.53,159.3 511.12,157.7 517.71,156.06 524.3,154.39 530.89,152.7 537.48,150.98 544.08,149.22 550.67,147.44 557.26,145.63 563.85,143.79 570.44,141.93 577.03,140.03 583.63,138.1 590.22,136.15 596.81,134.16 603.4,132.15 603.4,117.72 596.81,120.14 590.22,122.55 583.63,124.94 577.03,127.3 570.44,129.64 563.85,131.96 557.26,134.24 550.67,136.5 544.08,138.74 537.48,140.94 530.89,143.12 524.3,145.27 517.71,147.39 511.12,149.48 504.53,151.54 497.94,153.58 491.34,155.58 484.75,157.56 478.16,159.51 471.57,161.43 464.98,163.32 458.39,165.18 451.79,167.01 445.2,168.82 438.61,170.59 435.1,171.52 431.58,172.45 428.07,173.37 424.56,174.28 421.04,174.78"/>
<polygon fill="#29c3aa" points="421.04,174.78 424.56,174.78 428.07,174.78 431.58,174.78 435.1,174.47 438.61,173.78 445.2,172.46 451.79,171.12 458.39,169.74 464.98,168.34 471.57,166.9 478.16,165.44 484.75,163.95 491.34,162.43 497.94,160.88 504.53,159.3 511.12,157.7 517.71,156.06 524.3,154.39 530.89,152.7 537.48,150.98 544.08,149.22 550.67,147.44 557.26,145.63 563.85,143.79 570.44,141.93 577.03,140.03 583.63,138.1 590.22,136.15 596.81,134.16 603.4,132.15 603.4,118.18 596.81,120.57 590.22,122.96 583.63,125.32 577.03,127.67 570.44,129.99 563.85,132.29 557.26,134.56 550.67,136.8 544.08,139.02 537.48,141.21 530.89,143.37 524.3,145.51 517.71,147.61 511.12,149.69 504.53,151.74 497.94,153.76 491.34,155.76 484.75,157.72 478.16,159.66 471.57,161.57 464.98,163.44 458.39,165.29 451.79,167.11 445.2,168.9 438.61,170.66 435.1,171.59 431.58,172.51 428.07,173.42 424.56,174.32 421.04,174.78"/>
<polygon fill="#32c69f" points="421.04,174.78 424.56,174.78 428.07,174.78 431.58,174.78 435.1,174.47 438.61,173.78 445.2,172.46 451.79,171.12 458.39,169.74 464.98,168.34 471.57,166.9 478.16,165.44 484.75,163.95 491.34,162.43 497.94,160.88 504.53,159.3 511.12,157.7 517.71,156.06 524.3,154.39 530.89,152.7 537.48,150.98 544.08,149.22 550.67,147.44 557.26,145.63 563.85,143.79 570.44,141.93 577.03,140.03 583.63,138.1 590.22,136.15 596.81,134.16 603.4,132.15 603.4,118.6 596.81,120.98 590.22,123.36 583.63,125.71 577.03,128.04 570.44,130.35 563.85,132.64 557.26,134.89 550.67,137.13 544.08,139.33 537.48,141.51 530.89,143.65 524.3,145.77 517.71,147.86 511.12,149.93 504.53,151.97 497.94,153.97 491.34,155.96 484.75,157.91 478.16,159.83 471.57,161.72 464.98,163.58 458.39,165.42 451.79,167.22 445.2,169 438.61,170.74 435.1,171.66 431.58,172.58 428.07,173.48 424.56,174.38 421.04,174.78"/>
<polygon fill="#3bc992" points="421.04,174.78 424.56,174.78 428.07,174.78 431.58,174.78 435.1,174.47 438.61,173.78 445.2,172.46 451.79,171.12 458.39,169.74 464.98,168.34 471.57,166.9 478.16,165.44 484.75,163.95 491.34,162.43 497.94,160.88 504.53,159.3 511.12,157.7 517.71,156.06 524.3,154.39 530.89,152.7 537.48,150.98 544.08,149.22 550.67,147.44 557.26,145.63 563.85,143.79 570.44,141.93 577.03,140.03 583.63,138.1 590.22,136.15 596.81,134.16 603.4,132.15 603.4,118.99 596.81,121.37 590.22,123.73 583.63,126.07 577.03,128.39 570.44,130.69 563.85,132.96 557.26,135.21 550.67,137.43 544.08,139.62 537.48,141.78 530.89,143.91 524.3,146.02 517.71,148.1 511.12,150.15 504.53,152.18 497.94,154.17 491.34,156.14 484.75,158.08 478.16,159.99 471.57,161.87 464.98,163.71 458.39,165.54 451.79,167.33 445.2,169.09 438.61,170.82 435.1,171.74 431.58,172.64 428.07,173.54 424.56,174.43 421.04,174.78"/>
<polygon fill="#49cb85" points="421.04,174.78 424.56,174.78 428.07,174.78 431.58,174.78 435.1,174.47 438.61,173.78 445.2,172.46 451.79,171.12 458.39,169.74 464.98,168.34 471.57,166.9 478.16,165.44 484.75,163.95 491.34,162.43 497.94,160.88 504.53,159.3 511.12,157.7 517.71,156.06 524.3,154.39 530.89,152.7 537.48,150.98 544.08,149.22 550.67,147.44 557.26,145.63 563.85,143.79 570.44,141.93 577.03,140.03 583.63,138.1 590.22,136.15 596.81,134.16 603.4,132.15 603.4,119.36 596.81,121.72 590.22,124.08 583.63,126.41 577.03,128.72 570.44,131 563.85,133.26 557.26,135.5 550.67,137.71 544.08,139.89 537.48,142.04 530.89,144.16 524.3,146.25 517.71,148.32 511.12,150.36 504.53,152.37 497.94,154.36 491.34,156.31 484.75,158.24 478.16,160.13 471.57,162 464.98,163.84 458.39,165.65 451.79,167.42 445.2,169.17 438.61,170.9 435.1,171.8 431.58,172.7 428.07,173.59 424.56,174.47 421.04,174.78"/>
<polygon fill="#5ccc76" points="421.04,174.78 424.56,174.78 428.07,174.78 431.58,174.78 435.1,174.47 438.61,173.78 445.2,172.46 451.79,171.12 458.39,169.74 464.98,168.34 471.57,166.9 478.16,165.44 484.75,163.95 491.34,162.43 497.94,160.88 504.53,159.3 511.12,157.7 517.71,156.06 524.3,154.39 530.89,152.7 537.48,150.98 544.08,149.22 550.67,147.44 557.26,145.63 563.85,143.79 570.44,141.93 577.03,140.03 583.63,138.1 590.22,136.15 596.81,134.16 603.4,132.15 603.4,119.7 596.81,122.06 590.22,124.4 583.63,126.72 577.03,129.02 570.44,131.3 563.85,133.55 557.26,135.77 550.67,137.97 544.08,140.14 537.48,142.28 530.89,144.39 524.3,146.47 517.71,148.53 511.12,150.56 504.53,152.56 497.94,154.53 491.34,156.47 484.75,158.39 478.16,160.27 471.57,162.13 464.98,163.95 458.39,165.75 451.79,167.52 445.2,169.26 438.61,170.97 435.1,171.87 431.58,172.76 428.07,173.64 424.56,174.52 421.04,174.78"/>
<polygon fill="#6fcd66" points="421.04,174.78 424.56,174.78 428.07,174.78 431.58,174.78 435.1,174.47 438.61,173.78 445.2,172.46 451.79,171.12 458.39,169.74 464.98,168.34 471.57,166.9 478.16,165.44 484.75,163.95 491.34,162.43 497.94,160.88 504.53,159.3 511.12,157.7 517.71,156.06 524.3,154.39 530.89,152.7 537.48,150.98 544.08,149.22 550.67,147.44 557.26,145.63 563.85,143.79 570.44,141.93 577.03,140.03 583.63,138.1 590.22,136.15 596.81,134.16 603.4,132.15 603.4,120.02 596.81,122.38 590.22,124.71 583.63,127.02 577.03,129.31 570.44,131.58 563.85,133.82 557.26,136.03 550.67,138.22 544.08,140.37 537.48,142.5 530.89,144.6 524.3,146.68 517.71,148.72 511.12,150.74 504.53,152.73 497.94,154.69 491.34,156.62 484.75,158.53 478.16,160.4 471.57,162.24 464.98,164.06 458.39,165.85 451.79,167.6 445.2,169.33 438.61,171.03 435.1,171.92 431.58,172.81 428.07,173.69 424.56,174.56 421.04,174.78"/>
<polygon fill="#84cc56" points="421.04,174.78 424.56,174.78 428.07,174.78 431.58,174.78 435.1,174.47 438.61,173.78 445.2,172.46 451.79,171.12 458.39,169.74 464.98,168.34 471.57,166.9 478.16,165.44 484.75,163.95 491.34,162.43 497.94,160.88 504.53,159.3 511.12,157.7 517.71,156.06 524.3,154.39 530.89,152.7 537.48,150.98 544.08,149.22 550.67,147.44 557.26,145.63 563.85,143.79 570.44,141.93 577.03,140.03 583.63,138.1 590.22,136.15 596.81,134.16 603.4,132.15 603.4,120.28 596.81,122.64 590.22,124.97 583.63,127.28 577.03,129.57 570.44,131.83 563.85,134.06 557.26,136.27 550.67,138.45 544.08,140.6 537.48,142.72 530.89,144.81 524.3,146.87 517.71,148.9 511.12,150.91 504.53,152.89 497.94,154.84 491.34,156.76 484.75,158.66 478.16,160.52 471.57,162.36 464.98,164.16 458.39,165.94 451.79,167.68 445.2,169.4 438.61,171.09 435.1,171.98 431.58,172.86 428.07,173.73 424.56,174.6 421.04,174.78"/>
<polygon fill="#99c946" points="421.04,174.78 424.56,174.78 428.07,174.78 431.58,174.78 435.1,174.47 438.61,173.78 445.2,172.46 451.79,171.12 458.39,169.74 464.98,168.34 471.57,166.9 478.16,165.44 484.75,163.95 491.34,162.43 497.94,160.88 504.53,159.3 511.12,157.7 517.71,156.06 524.3,154.39 530.89,152.7 537.48,150.98 544.08,149.22 550.67,147.44 557.26,145.63 563.85,143.79 570.44,141.93 577.03,140.03 583.63,138.1 590.22,136.15 596.81,134.16 603.4,132.15 603.4,120.48 596.81,122.83 590.22,125.16 583.63,127.47 577.03,129.75 570.44,132 563.85,134.23 557.26,136.43 550.67,138.6 544.08,140.74 537.48,142.86 530.89,144.94 524.3,147 517.71,149.03 511.12,151.03 504.53,153 497.94,154.95 491.34,156.86 484.75,158.75 478.16,160.61 471.57,162.43 464.98,164.23 458.39,166 451.79,167.74 445.2,169.45 438.61,171.14 435.1,172.02 431.58,172.9 428.07,173.77 424.56,174.63 421.04,174.78"/>
<polygon fill="#adc638" points="421.04,174.78 424.56,174.78 428.07,174.78 431.58,174.78 435.1,174.47 438.61,173.78 445.2,172.46 451.79,171.12 458.39,169.74 464.98,168.34 471.57,166.9 478.16,165.44 484.75,163.95 491.34,162.43 497.94,160.88 504.53,159.3 511.12,157.7 517.71,156.06 524.3,154.39 530.89,152.7 537.48,150.98 544.08,149.22 550.67,147.44 557.26,145.63 563.85,143.79 570.44,141.93 577.03,140.03 583.63,138.1 590.22,136.15 596.81,134.16 603.4,132.15 603.4,120.68 596.81,123.02 590.22,125.35 583.63,127.64 577.03,129.92 570.44,132.17 563.85,134.39 557.26,136.58 550.67,138.75 544.08,140.88 537.48,142.99 530.89,145.07 524.3,147.12 517.71,149.14 511.12,151.14 504.53,153.1 497.94,155.04 491.34,156.95 484.75,158.83 478.16,160.68 471.57,162.5 464.98,164.3 458.39,166.06 451.79,167.79 445.2,169.5 438.61,171.17 435.1,172.06 431.58,172.93 428.07,173.8 424.56,174.65 421.04,174.78"/>
<polygon fill="#bfc32d" points="421.04,174.78 424.56,174.78 428.07,174.78 431.58,174.78 435.1,174.47 438.61,173.78 445.2,172.46 451.79,171.12 458.39,169.74 464.98,168.34 471.57,166.9 478.16,165.44 484.75,163.95 491.34,162.43 497.94,160.88 504.53,159.3 511.12,157.7 517.71,156.06 524.3,154.39 530.89,152.7 537.48,150.98 544.08,149.22 550.67,147.44 557.26,145.63 563.85,143.79 570.44,141.93 577.03,140.03 583.63,138.1 590.22,136.15 596.81,134.16 603.4,132.15 603.4,120.86 596.81,123.2 590.22,125.52 583.63,127.81 577.03,130.08 570.44,132.32 563.85,134.54 557.26,136.72 550.67,138.88 544.08,141.01 537.48,143.12 530.89,145.19 524.3,147.24 517.71,149.25 511.12,151.24 504.53,153.2 497.94,155.13 491.34,157.04 484.75,158.91 478.16,160.75 471.57,162.57 464.98,164.36 458.39,166.11 451.79,167.84 445.2,169.54 438.61,171.21 435.1,172.09 431.58,172.96 428.07,173.82 424.56,174.68 421.04,174.78"/>
<polygon fill="#d1bf27" points="421.04,174.78 424.56,174.78 428.07,174.78 431.58,174.78 435.1,174.47 438.61,173.78 445.2,172.46 451.79,171.12 458.39,169.74 464.98,168.34 471.57,166.9 478.16,165.44 484.75,163.95 491.34,162.43 497.94,160.88 504.53,159.3 511.12,157.7 517.71,156.06 524.3,154.39 530.89,152.7 537.48,150.98 544.08,149.22 550.67,147.44 557.26,145.63 563.85,143.79 570.44,141.93 577.03,140.03 583.63,138.1 590.22,136.15 596.81,134.16 603.4,132.15 603.4,121.04 596.81,123.37 590.22,125.68 583.63,127.97 577.03,130.23 570.44,132.47 563.85,134.68 557.26,136.86 550.67,139.02 544.08,141.14 537.48,143.24 530.89,145.31 524.3,147.35 517.71,149.36 511.12,151.34 504.53,153.29 497.94,155.22 491.34,157.12 484.75,158.98 478.16,160.82 471.57,162.63 464.98,164.41 458.39,166.16 451.79,167.89 445.2,169.58 438.61,171.24 435.1,172.12 431.58,172.99 428.07,173.85 424.56,174.7 421.04,174.78"/>
<polygon fill="#e0bc2b" points="421.04,174.78 424.56,174.78 428.07,174.78 431.58,174.78 435.1,174.47 438.61,173.78 445.2,172.46 451.79,171.12 458.39,169.74 464.98,168.34 471.57,166.9 478.16,165.44 484.75,163.95 491.34,162.43 497.94,160.88 504.53,159.3 511.12,157.7 517.71,156.06 524.3,154.39 530.89,152.7 537.48,150.98 544.08,149.22 550.67,147.44 557.26,145.63 563.85,143.79 570.44,141.93 577.03,140.03 583.63,138.1 590.22,136.15 596.81,134.16 603.4,132.15 603.4,121.2 596.81,123.53 590.22,125.84 583.63,128.13 577.03,130.38 570.44,132.61 563.85,134.82 557.26,136.99 550.67,139.14 544.08,141.26 537.48,143.35 530.89,145.42 524.3,147.45 517.71,149.46 511.12,151.43 504.53,153.38 497.94,155.3 491.34,157.19 484.75,159.06 478.16,160.89 471.57,162.69 464.98,164.47 458.39,166.21 451.79,167.93 445.2,169.62 438.61,171.28 435.1,172.15 431.58,173.01 428.07,173.87 424.56,174.72 421.04,174.78"/>
<polygon fill="#eeba34" points="421.04,174.78 424.56,174.78 428.07,174.78 431.58,174.78 435.1,174.47 438.61,173.78 445.2,172.46 451.79,171.12 458.39,169.74 464.98,168.34 471.57,166.9 478.16,165.44 484.75,163.95 491.34,162.43 497.94,160.88 504.53,159.3 511.12,157.7 517.71,156.06 524.3,154.39 530.89,152.7 537.48,150.98 544.08,149.22 550.67,147.44 557.26,145.63 563.85,143.79 570.44,141.93 577.03,140.03 583.63,138.1 590.22,136.15 596.81,134.16 603.4,132.15 603.4,121.36 596.81,123.69 590.22,125.99 583.63,128.27 577.03,130.52 570.44,132.75 563.85,134.95 557.26,137.12 550.67,139.26 544.08,141.38 537.48,143.46 530.89,145.52 524.3,147.55 517.71,149.55 511.12,151.52 504.53,153.47 497.94,155.38 491.34,157.27 484.75,159.12 478.16,160.95 471.57,162.75 464.98,164.52 458.39,166.26 451.79,167.97 445.2,169.66 438.61,171.31 435.1,172.18 431.58,173.04 428.07,173.89 424.56,174.74 421.04,174.78"/>
<polygon fill="#fabb3d" points="421.04,174.78 424.56,174.78 428.07,174.78 431.58,174.78 435.1,174.47 438.61,173.78 445.2,172.46 451.79,171.12 458.39,169.74 464.98,168.34 471.57,166.9 478.16,165.44 484.75,163.95 491.34,162.43 497.94,160.88 504.53,159.3 511.12,157.7 517.71,156.06 524.3,154.39 530.89,152.7 537.48,150.98 544.08,149.22 550.67,147.44 557.26,145.63 563.85,143.79 570.44,141.93 577.03,140.03 583.63,138.1 590.22,136.15 596.81,134.16 603.4,132.15 603.4,121.52 596.81,123.84 590.22,126.14 583.63,128.41 577.03,130.66 570.44,132.88 563.85,135.07 557.26,137.24 550.67,139.38 544.08,141.49 537.48,143.57 530.89,145.62 524.3,147.65 517.71,149.64 511.12,151.61 504.53,153.55 497.94,155.46 491.34,157.34 484.75,159.19 478.16,161.01 471.57,162.81 464.98,164.57 458.39,166.31 451.79,168.01 445.2,169.69 438.61,171.34 435.1,172.21 431.58,173.06 428.07,173.92 424.56,174.76 421.04,174.78"/>
<polygon fill="#fec239" points="421.04,174.78 424.56,174.78 428.07,174.78 431.58,174.78 435.1,174.47 438.61,173.78 445.2,172.46 451.79,171.12 458.39,169.74 464.98,168.34 471.57,166.9 478.16,165.44 484.75,163.95 491.34,162.43 497.94,160.88 504.53,159.3 511.12,157.7 517.71,156.06 524.3,154.39 530.89,152.7 537.48,150.98 544.08,149.22 550.67,147.44 557.26,145.63 563.85,143.79 570.44,141.93 577.03,140.03 583.63,138.1 590.22,136.15 596.81,134.16 603.4,132.15 603.4,121.67 596.81,123.98 590.22,126.28 583.63,128.55 577.03,130.79 570.44,133.01 563.85,135.2 557.26,137.36 550.67,139.49 544.08,141.6 537.48,143.67 530.89,145.72 524.3,147.74 517.71,149.73 511.12,151.69 504.53,153.62 497.94,155.53 491.34,157.41 484.75,159.25 478.16,161.07 471.57,162.86 464.98,164.62 458.39,166.35 451.79,168.05 445.2,169.72 438.61,171.37 435.1,172.23 431.58,173.09 428.07,173.94 424.56,174.78 421.04,174.78"/>
<polygon fill="#feca33" points="424.56,174.78 428.07,174.78 431.58,174.78 435.1,174.47 438.61,173.78 445.2,172.46 451.79,171.12 458.39,169.74 464.98,168.34 471.57,166.9 478.16,165.44 484.75,163.95 491.34,162.43 497.94,160.88 504.53,159.3 511.12,157.7 517.71,156.06 524.3,154.39 530.89,152.7 537.48,150.98 544.08,149.22 550.67,147.44 557.26,145.63 563.85,143.79 570.44,141.93 577.03,140.03 583.63,138.1 590.22,136.15 596.81,134.16 603.4,132.15 603.4,121.81 596.81,124.12 590.22,126.41 583.63,128.68 577.03,130.91 570.44,133.13 563.85,135.31 557.26,137.47 550.67,139.6 544.08,141.7 537.48,143.77 530.89,145.81 524.3,147.83 517.71,149.81 511.12,151.77 504.53,153.7 497.94,155.6 491.34,157.47 484.75,159.31 478.16,161.13 471.57,162.91 464.98,164.67 458.39,166.39 451.79,168.09 445.2,169.76 438.61,171.4 435.1,172.26 431.58,173.11 428.07,173.96 424.56,174.78"/>
<polygon fill="#fbd32e" points="424.56,174.78 428.07,174.78 431.58,174.78 435.1,174.47 438.61,173.78 445.2,172.46 451.79,171.12 458.39,169.74 464.98,168.34 471.57,166.9 478.16,165.44 484.75,163.95 491.34,162.43 497.94,160.88 504.53,159.3 511.12,157.7 517.71,156.06 524.3,154.39 530.89,152.7 537.48,150.98 544.08,149.22 550.67,147.44 557.26,145.63 563.85,143.79 570.44,141.93 577.03,140.03 583.63,138.1 590.22,136.15 596.81,134.16 603.4,132.15 603.4,122.1 596.81,124.38 590.22,126.65 583.63,128.89 577.03,131.11 570.44,133.31 563.85,135.48 557.26,137.62 550.67,139.74 544.08,141.83 537.48,143.89 530.89,145.93 524.3,147.93 517.71,149.91 511.12,151.86 504.53,153.78 497.94,155.68 491.34,157.54 484.75,159.38 478.16,161.19 471.57,162.97 464.98,164.72 458.39,166.44 451.79,168.13 445.2,169.79 438.61,171.42 435.1,172.28 431.58,173.13 428.07,173.98 424.56,174.78"/>
<polygon fill="#f7dc2a" points="424.56,174.78 428.07,174.78 431.58,174.78 435.1,174.47 438.61,173.78 445.2,172.46 451.79,171.12 458.39,169.74 464.98,168.34 471.57,166.9 478.16,165.44 484.75,163.95 491.34,162.43 497.94,160.88 504.53,159.3 511.12,157.7 517.71,156.06 524.3,154.39 530.89,152.7 537.48,150.98 544.08,149.22 550.67,147.44 557.26,145.63 563.85,143.79 570.44,141.93 577.03,140.03 583.63,138.1 590.22,136.15 596.81,134.16 603.4,132.15 603.4,122.41 596.81,124.68 590.22,126.93 583.63,129.17 577.03,131.38 570.44,133.57 563.85,135.73 557.26,137.87 550.67,139.97 544.08,142.05 537.48,144.11 530.89,146.13 524.3,148.13 517.71,150.1 511.12,152.04 504.53,153.95 497.94,155.83 491.34,157.69 484.75,159.51 478.16,161.31 471.57,163.08 464.98,164.82 458.39,166.53 451.79,168.21 445.2,169.86 438.61,171.48 435.1,172.33 431.58,173.18 428.07,174.02 424.56,174.78"/>
<polygon fill="#f5e526" points="424.56,174.78 428.07,174.78 431.58,174.78 435.1,174.47 438.61,173.78 445.2,172.46 451.79,171.12 458.39,169.74 464.98,168.34 471.57,166.9 478.16,165.44 484.75,163.95 491.34,162.43 497.94,160.88 504.53,159.3 511.12,157.7 517.71,156.06 524.3,154.39 530.89,152.7 537.48,150.98 544.08,149.22 550.67,147.44 557.26,145.63 563.85,143.79 570.44,141.93 577.03,140.03 583.63,138.1 590.22,136.15 596.81,134.16 603.4,132.15 603.4,122.69 596.81,124.96 590.22,127.21 583.63,129.43 577.03,131.64 570.44,133.82 563.85,135.97 557.26,138.1 550.67,140.2 544.08,142.27 537.48,144.31 530.89,146.32 524.3,148.31 517.71,150.27 511.12,152.2 504.53,154.1 497.94,155.98 491.34,157.82 484.75,159.64 478.16,161.43 471.57,163.19 464.98,164.91 458.39,166.61 451.79,168.28 445.2,169.93 438.61,171.54 435.1,172.39 431.58,173.23 428.07,174.06 424.56,174.78"/>
<polygon fill="#f5ee21" points="424.56,174.78 428.07,174.78 431.58,174.78 435.1,174.47 438.61,173.78 445.2,172.46 451.79,171.12 458.39,169.74 464.98,168.34 471.57,166.9 478.16,165.44 484.75,163.95 491.34,162.43 497.94,160.88 504.53,159.3 511.12,157.7 517.71,156.06 524.3,154.39 530.89,152.7 537.48,150.98 544.08,149.22 550.67,147.44 557.26,145.63 563.85,143.79 570.44,141.93 577.03,140.03 583.63,138.1 590.22,136.15 596.81,134.16 603.4,132.15 603.4,122.97 596.81,125.23 590.22,127.47 583.63,129.69 577.03,131.88 570.44,134.05 563.85,136.2 557.26,138.31 550.67,140.41 544.08,142.47 537.48,144.5 530.89,146.51 524.3,148.49 517.71,150.43 511.12,152.36 504.53,154.25 497.94,156.11 491.34,157.95 484.75,159.76 478.16,161.54 471.57,163.29 464.98,165.01 458.39,166.7 451.79,168.36 445.2,169.99 438.61,171.59 435.1,172.44 431.58,173.27 428.07,174.1 424.56,174.78"/>
<polygon fill="#f8f719" points="424.56,174.78 428.07,174.78 431.58,174.78 435.1,174.47 438.61,173.78 445.2,172.46 451.79,171.12 458.39,169.74 464.98,168.34 471.57,166.9 478.16,165.44 484.75,163.95 491.34,162.43 497.94,160.88 504.53,159.3 511.12,157.7 517.71,156.06 524.3,154.39 530.89,152.7 537.48,150.98 544.08,149.22 550.67,147.44 557.26,145.63 563.85,143.79 570.44,141.93 577.03,140.03 583.63,138.1 590.22,136.15 596.81,134.16 603.4,132.15 603.4,123.23 596.81,125.48 590.22,127.71 583.63,129.93 577.03,132.11 570.44,134.28 563.85,136.41 557.26,138.52 550.67,140.6 544.08,142.66 537.48,144.68 530.89,146.68 524.3,148.65 517.71,150.59 511.12,152.5 504.53,154.39 497.94,156.25 491.34,158.07 484.75,159.87 478.16,161.64 471.57,163.38 464.98,165.09 458.39,166.78 451.79,168.43 445.2,170.05 438.61,171.65 435.1,172.49 431.58,173.32 428.07,174.14 424.56,174.78"/>
<polygon fill="#f9fb15" points="424.56,174.78 428.07,174.78 431.58,174.78 435.1,174.47 438.61,173.78 445.2,172.46 451.79,171.12 458.39,169.74 464.98,168.34 471.57,166.9 478.16,165.44 484.75,163.95 491.34,162.43 497.94,160.88 504.53,159.3 511.12,157.7 517.71,156.06 524.3,154.39 530.89,152.7 537.48,150.98 544.08,149.22 550.67,147.44 557.26,145.63 563.85,143.79 570.44,141.93 577.03,140.03 583.63,138.1 590.22,136.15 596.81,134.16 603.4,132.15 603.4,123.46 596.81,125.72 590.22,127.95 583.63,130.15 577.03,132.33 570.44,134.49 563.85,136.62 557.26,138.72 550.67,140.79 544.08,142.84 537.48,144.86 530.89,146.85 524.3,148.81 517.71,150.74 511.12,152.65 504.53,154.52 497.94,156.37 491.34,158.19 484.75,159.98 478.16,161.74 471.57,163.47 464.98,165.18 458.39,166.85 451.79,168.49 445.2,170.11 438.61,171.7 435.1,172.53 431.58,173.36 428.07,174.17 424.56,174.78"/>
<polygon fill="#000" points="431.58,174.67 435.1,173.99 438.61,173.3 445.2,171.98 451.79,170.64 458.39,169.26 464.98,167.86 471.57,166.42 478.16,164.96 484.75,163.47 491.34,161.95 497.94,160.4 504.53,158.82 511.12,157.21 517.71,155.58 524.3,153.91 530.89,152.22 537.48,150.49 544.08,148.74 550.67,146.96 557.26,145.15 563.85,143.31 570.44,141.44 577.03,139.55 583.63,137.62 590.22,135.66 596.81,133.68 603.4,131.67 603.4,175.3 431.58,175.3"/>
</g>
<linearGradient id="cb" x1="0" y1="1" x2="0" y2="0">
<stop offset="0" stop-color="#3e26a8"/>
<stop offset="0.02" stop-color="#402ab4"/>
<stop offset="0.03" stop-color="#422ec0"/>
<stop offset="0.05" stop-color="#4332cb"/>
<stop offset="0.06" stop-color="#4537d5"/>
<stop offset="0.08" stop-color="#463cde"/>
<stop offset="0.1" stop-color="#4741e5"/>
<stop offset="0.11" stop-color="#4747eb"/>
<stop offset="0.13" stop-color="#484df0"/>
<stop offset="0.14" stop-color="#4852f4"/>
<stop offset="0.16" stop-color="#4758f8"/>
<stop offset="0.17" stop-color="#465efb"/>
<stop offset="0.19" stop-color="#4563fd"/>
<stop offset="0.21" stop-color="#4269fe"/>
<stop offset="0.22" stop-color="#3e6fff"/>
<stop offset="0.24" stop-color="#3875fe"/>
<stop offset="0.25" stop-color="#327cfc"/>
<stop offset="0.27" stop-color="#2f81fa"/>
<stop offset="0.29" stop-color="#2e87f7"/>
<stop offset="0.3" stop-color="#2d8cf3"/>
<stop offset="0.32" stop-color="#2b91ef"/>
<stop offset="0.33" stop-color="#2797eb"/>
<stop offset="0.35" stop-color="#259be8"/>
<stop offset="0.37" stop-color="#23a0e5"/>
<stop offset="0.38" stop-color="#20a5e3"/>
<stop offset="0.4" stop-color="#1ca9df"/>
<stop offset="0.41" stop-color="#18addb"/>
<stop offset="0.43" stop-color="#12b1d6"/>
<stop offset="0.44" stop-color="#08b5d0"/>
<stop offset="0.46" stop-color="#01b8ca"/>
<stop offset="0.48" stop-color="#02bac3"/>
<stop offset="0.49" stop-color="#0bbdbd"/>
<stop offset="0.51" stop-color="#19bfb6"/>
<stop offset="0.52" stop-color="#24c1ae"/>
<stop offset="0.54" stop-color="#2cc4a7"/>
<stop offset="0.56" stop-color="#31c69f"/>
<stop offset="0.57" stop-color="#37c897"/>
<stop offset="0.59" stop-color="#3fca8e"/>
<stop offset="0.6" stop-color="#4acb84"/>
<stop offset="0.62" stop-color="#57cc7a"/>
<stop offset="0.63" stop-color="#64cd6f"/>
<stop offset="0.65" stop-color="#72cd64"/>
<stop offset="0.67" stop-color="#81cc59"/>
<stop offset="0.68" stop-color="#8fcb4e"/>
<stop offset="0.7" stop-color="#9dc943"/>
<stop offset="0.71" stop-color="#abc739"/>
<stop offset="0.73" stop-color="#b9c431"/>
<stop offset="0.75" stop-color="#c5c22a"/>
<stop offset="0.76" stop-color="#d1bf27"/>
<stop offset="0.78" stop-color="#dcbd29"/>
<stop offset="0.79" stop-color="#e6bb2d"/>
<stop offset="0.81" stop-color="#f0ba36"/>
<stop offset="0.83" stop-color="#f8ba3d"/>
<stop offset="0.84" stop-color="#febe3c"/>
<stop offset="0.86" stop-color="#fec338"/>
<stop offset="0.87" stop-color="#fec934"/>
<stop offset="0.89" stop-color="#fccf30"/>
<stop offset="0.9" stop-color="#fad62d"/>
<stop offset="0.92" stop-color="#f7dc2a"/>
<stop offset="0.94" stop-color="#f5e327"/>
<stop offset="0.95" stop-color="#f5e924"/>
<stop offset="0.97" stop-color="#f6ef20"/>
<stop offset="0.98" stop-color="#f7f51b"/>
<stop offset="1" stop-color="#f9fb15"/>
</linearGradient>
<rect x="264.9" y="14.3" width="20" height="160" fill="url(#cb)" stroke="#262626" stroke-width="1"/>
<text x="290.8" y="178.9" font-family="'Liberation Sans', sans-serif" font-size="13" fill="#262626">0</text>
<line x1="283.1" y1="142.3" x2="284.9" y2="142.3" stroke="#333" stroke-width="0.8"/>
<text x="290.8" y="146.9" font-family="'Liberation Sans', sans-serif" font-size="13" fill="#262626">2</text>
<line x1="283.1" y1="110.3" x2="284.9" y2="110.3" stroke="#333" stroke-width="0.8"/>
<text x="290.8" y="114.9" font-family="'Liberation Sans', sans-serif" font-size="13" fill="#262626">4</text>
<line x1="283.1" y1="78.3" x2="284.9" y2="78.3" stroke="#333" stroke-width="0.8"/>
<text x="290.8" y="82.9" font-family="'Liberation Sans', sans-serif" font-size="13" fill="#262626">6</text>
<line x1="283.1" y1="46.3" x2="284.9" y2="46.3" stroke="#333" stroke-width="0.8"/>
<text x="290.8" y="50.9" font-family="'Liberation Sans', sans-serif" font-size="13" fill="#262626">8</text>
<text x="290.8" y="19.6" font-family="'Liberation Sans', sans-serif" font-size="13" fill="#262626">10</text>
<rect x="632.2" y="14.3" width="20.5" height="160" fill="url(#cb)" stroke="#262626" stroke-width="1"/>
<text x="658.1" y="178.9" font-family="'Liberation Sans', sans-serif" font-size="13" fill="#262626">0</text>
<line x1="650.9" y1="142.3" x2="652.7" y2="142.3" stroke="#333" stroke-width="0.8"/>
<text x="658.1" y="146.9" font-family="'Liberation Sans', sans-serif" font-size="13" fill="#262626">2</text>
<line x1="650.9" y1="110.3" x2="652.7" y2="110.3" stroke="#333" stroke-width="0.8"/>
<text x="658.1" y="114.9" font-family="'Liberation Sans', sans-serif" font-size="13" fill="#262626">4</text>
<line x1="650.9" y1="78.3" x2="652.7" y2="78.3" stroke="#333" stroke-width="0.8"/>
<text x="658.1" y="82.9" font-family="'Liberation Sans', sans-serif" font-size="13" fill="#262626">6</text>
<line x1="650.9" y1="46.3" x2="652.7" y2="46.3" stroke="#333" stroke-width="0.8"/>
<text x="658.1" y="50.9" font-family="'Liberation Sans', sans-serif" font-size="13" fill="#262626">8</text>
<text x="658.1" y="19.6" font-family="'Liberation Sans', sans-serif" font-size="13" fill="#262626">10</text>
<text x="96.6" y="192.3" font-family="'Liberation Sans', sans-serif" font-size="14.7" text-anchor="middle" fill="#262626">50</text>
<text x="45.8" y="140.83" font-family="'Liberation Sans', sans-serif" font-size="14.7" text-anchor="end" fill="#262626">50</text>
<text x="145.16" y="192.3" font-family="'Liberation Sans', sans-serif" font-size="14.7" text-anchor="middle" fill="#262626">100</text>
<text x="45.8" y="100.65" font-family="'Liberation Sans', sans-serif" font-size="14.7" text-anchor="end" fill="#262626">100</text>
<text x="193.73" y="192.3" font-family="'Liberation Sans', sans-serif" font-size="14.7" text-anchor="middle" fill="#262626">150</text>
<text x="45.8" y="60.48" font-family="'Liberation Sans', sans-serif" font-size="14.7" text-anchor="end" fill="#262626">150</text>
<text x="242.3" y="192.3" font-family="'Liberation Sans', sans-serif" font-size="14.7" text-anchor="middle" fill="#262626">200</text>
<text x="45.8" y="20.3" font-family="'Liberation Sans', sans-serif" font-size="14.7" text-anchor="end" fill="#262626">200</text>
<text transform="translate(137.04,209.8) scale(1.076,1)" font-family="'Liberation Serif', serif" font-size="17.8" font-style="italic" fill="#262626">N</text>
<text transform="translate(151.65,203) scale(1.124,1)" font-family="'Liberation Serif', serif" font-size="12.3" font-style="italic" fill="#262626">I</text>
<g transform="translate(0,94.35) rotate(-90)">
<text transform="translate(-12.12,14.7) scale(0.982,1)" font-family="'Liberation Serif', serif" font-size="17.8" font-style="italic" fill="#262626">N</text>
<text transform="translate(1.61,7.9) scale(1.230,1)" font-family="'Liberation Serif', serif" font-size="12.5" font-style="italic" fill="#262626">II</text>
</g>
<text x="456.6" y="192.3" font-family="'Liberation Sans', sans-serif" font-size="14.7" text-anchor="middle" fill="#262626">50</text>
<text x="405.9" y="140.83" font-family="'Liberation Sans', sans-serif" font-size="14.7" text-anchor="end" fill="#262626">50</text>
<text x="505.07" y="192.3" font-family="'Liberation Sans', sans-serif" font-size="14.7" text-anchor="middle" fill="#262626">100</text>
<text x="405.9" y="100.65" font-family="'Liberation Sans', sans-serif" font-size="14.7" text-anchor="end" fill="#262626">100</text>
<text x="553.53" y="192.3" font-family="'Liberation Sans', sans-serif" font-size="14.7" text-anchor="middle" fill="#262626">150</text>
<text x="405.9" y="60.48" font-family="'Liberation Sans', sans-serif" font-size="14.7" text-anchor="end" fill="#262626">150</text>
<text x="602" y="192.3" font-family="'Liberation Sans', sans-serif" font-size="14.7" text-anchor="middle" fill="#262626">200</text>
<text x="405.9" y="20.3" font-family="'Liberation Sans', sans-serif" font-size="14.7" text-anchor="end" fill="#262626">200</text>
<text transform="translate(497.14,209.8) scale(1.076,1)" font-family="'Liberation Serif', serif" font-size="17.8" font-style="italic" fill="#262626">N</text>
<text transform="translate(511.75,203) scale(1.124,1)" font-family="'Liberation Serif', serif" font-size="12.3" font-style="italic" fill="#262626">I</text>
<g transform="translate(360.1,94.35) rotate(-90)">
<text transform="translate(-12.12,14.7) scale(0.982,1)" font-family="'Liberation Serif', serif" font-size="17.8" font-style="italic" fill="#262626">N</text>
<text transform="translate(1.61,7.9) scale(1.230,1)" font-family="'Liberation Serif', serif" font-size="12.5" font-style="italic" fill="#262626">II</text>
</g>
<text x="0.1" y="13.8" font-family="'Liberation Sans', sans-serif" font-size="17.7" font-weight="bold" fill="#000">a</text>
<text x="360.2" y="13.7" font-family="'Liberation Sans', sans-serif" font-size="19.6" font-weight="bold" fill="#000">b</text>
<text x="-0.7" y="235.8" font-family="'Liberation Sans', sans-serif" font-size="20" font-weight="bold" fill="#000">c</text>
<text x="359.4" y="235.2" font-family="'Liberation Sans', sans-serif" font-size="19.6" font-weight="bold" fill="#000">d</text>
<rect x="74.8" y="235.6" width="248.8" height="157.6" fill="#aadca2"/>
<line x1="75.2" y1="393.5" x2="75.2" y2="235.6" stroke="#1e1e1e" stroke-width="1.3" stroke-dasharray="15.9,10"/>
<polyline fill="none" stroke="#0f77be" stroke-width="0.98" points="75.3,318 75.37,318.27 75.59,318.58 75.94,318.92 76.44,319.28 77.08,319.68 77.87,320.09 78.8,320.52 79.87,320.97 81.08,321.42 82.43,321.89 83.93,322.36 85.57,322.83 87.35,323.31 89.28,323.78 91.35,324.26 93.56,324.74 95.91,325.21 98.41,325.69 101.05,326.16 103.83,326.63 106.76,327.09 109.82,327.55 113.03,328.01 116.39,328.47 119.88,328.93 123.52,329.39 127.3,329.84 131.22,330.3 135.29,330.76 139.5,331.22 143.85,331.68 148.34,332.15 152.98,332.62 157.76,333.09 162.68,333.57 167.74,334.06 172.95,334.56 178.3,335.06 183.79,335.57 189.43,336.09 195.21,336.62 201.13,337.16 207.19,337.7 213.4,338.26 219.74,338.82 226.23,339.39 232.87,339.96 239.64,340.54 246.56,341.13 253.63,341.71 260.83,342.3 268.18,342.89 275.67,343.47 283.3,344.04 291.07,344.6 298.99,345.16 307.05,345.69 315.25,346.2 323.6,346.69"/>
<polyline fill="none" stroke="#dc2f33" stroke-width="0.98" points="75.3,318 75.37,317.4 75.59,316.82 75.94,316.27 76.44,315.73 77.08,315.21 77.87,314.69 78.8,314.18 79.87,313.67 81.08,313.16 82.43,312.64 83.93,312.11 85.57,311.57 87.35,311.01 89.28,310.44 91.35,309.85 93.56,309.25 95.91,308.62 98.41,307.97 101.05,307.29 103.83,306.6 106.76,305.87 109.82,305.13 113.03,304.35 116.39,303.55 119.88,302.73 123.52,301.88 127.3,301 131.22,300.09 135.29,299.16 139.5,298.2 143.85,297.21 148.34,296.2 152.98,295.16 157.76,294.09 162.68,293 167.74,291.88 172.95,290.73 178.3,289.55 183.79,288.35 189.43,287.11 195.21,285.85 201.13,284.56 207.19,283.24 213.4,281.88 219.74,280.5 226.23,279.08 232.87,277.62 239.64,276.12 246.56,274.59 253.63,273.01 260.83,271.39 268.18,269.73 275.67,268.01 283.3,266.24 291.07,264.41 298.99,262.52 307.05,260.56 315.25,258.54 323.6,256.44"/>
<rect x="50.65" y="235.6" width="272.95" height="157.6" fill="none" stroke="#262626" stroke-width="1.2"/>
<line x1="187.12" y1="393.2" x2="187.12" y2="390.4" stroke="#262626" stroke-width="1"/>
<line x1="187.12" y1="235.6" x2="187.12" y2="238.4" stroke="#262626" stroke-width="1"/>
<line x1="50.65" y1="314.4" x2="53.45" y2="314.4" stroke="#262626" stroke-width="1"/>
<line x1="323.6" y1="314.4" x2="320.8" y2="314.4" stroke="#262626" stroke-width="1"/>
<text x="44.85" y="399.2" font-family="'Liberation Sans', sans-serif" font-size="16.2" text-anchor="end" fill="#262626">0</text>
<text x="44.85" y="320.4" font-family="'Liberation Sans', sans-serif" font-size="16.2" text-anchor="end" fill="#262626">0.2</text>
<text x="44.85" y="241.6" font-family="'Liberation Sans', sans-serif" font-size="16.2" text-anchor="end" fill="#262626">0.4</text>
<text x="50.65" y="415.4" font-family="'Liberation Sans', sans-serif" font-size="16.2" text-anchor="middle" fill="#262626">0.98</text>
<text x="187.12" y="415.4" font-family="'Liberation Sans', sans-serif" font-size="16.2" text-anchor="middle" fill="#262626">0.99</text>
<text x="323.6" y="415.4" font-family="'Liberation Sans', sans-serif" font-size="16.2" text-anchor="middle" fill="#262626">1</text>
<text x="187.93" y="435.2" font-family="'Liberation Serif', serif" font-size="19" font-style="italic" text-anchor="middle" fill="#262626">λ</text>
<text transform="translate(12.95,314.4) rotate(-90)" font-family="'Liberation Serif', serif" font-size="19" font-style="italic" text-anchor="middle" fill="#262626">β</text>
<rect x="91.5" y="240.5" width="96" height="42" fill="#fff" stroke="#262626" stroke-width="1"/>
<line x1="98" y1="252.6" x2="147" y2="252.6" stroke="#0f77be" stroke-width="1.1"/>
<line x1="98" y1="270.6" x2="147" y2="270.6" stroke="#dc2f33" stroke-width="1.1"/>
<text transform="translate(152.06,256.2) scale(0.987,1)" font-family="'Liberation Serif', serif" font-size="16.2" font-style="italic" fill="#000">β</text>
<text transform="translate(160.8,258.4) scale(0.843,1)" font-family="'Liberation Serif', serif" font-size="11.5" font-style="italic" fill="#000">c</text>
<text transform="translate(152.06,274.3) scale(0.987,1)" font-family="'Liberation Serif', serif" font-size="16.2" font-style="italic" fill="#000">β</text>
<text transform="translate(160.68,276.5) scale(1.018,1)" font-family="'Liberation Serif', serif" font-size="11.5" font-style="italic" fill="#000">max</text>
<text transform="translate(76.31,364.6) scale(0.895,1)" font-family="'Liberation Serif', serif" font-size="18.6" font-style="italic" fill="#000">λ</text>
<text transform="translate(83.48,366.2) scale(0.870,1)" font-family="'Liberation Serif', serif" font-size="12" font-style="italic" fill="#000">c</text>
<text transform="translate(92.66,364.9) scale(1.226,1)" font-family="'Liberation Serif', serif" font-size="17" fill="#000">=</text>
<line x1="110.2" y1="358.9" x2="197" y2="358.9" stroke="#000" stroke-width="0.85"/>
<text transform="translate(111.62,353.6) scale(1.069,1)" font-family="'Liberation Serif', serif" font-size="14.8" font-style="italic" fill="#000">N</text>
<text transform="translate(123.54,348.1) scale(1.059,1)" font-family="'Liberation Serif', serif" font-size="10.3" font-style="italic" fill="#000">I</text>
<text transform="translate(131.21,356.5) scale(1.020,1)" font-family="'Liberation Serif', serif" font-size="21.5" fill="#000">+</text>
<text transform="translate(148.22,353.6) scale(1.116,1)" font-family="'Liberation Serif', serif" font-size="14.8" font-style="italic" fill="#000">N</text>
<text transform="translate(160.85,348.1) scale(1.265,1)" font-family="'Liberation Serif', serif" font-size="10.3" font-style="italic" fill="#000">I</text>
<text transform="translate(166.65,348.1) scale(1.291,1)" font-family="'Liberation Serif', serif" font-size="10.3" font-style="italic" fill="#000">I</text>
<text transform="translate(175.48,356.5) scale(0.950,1)" font-family="'Liberation Serif', serif" font-size="21.5" fill="#000">−</text>
<text transform="translate(188.9,353.6) scale(1.047,1)" font-family="'Liberation Serif', serif" font-size="14.8" fill="#000">4</text>
<text transform="translate(123.22,374.2) scale(1.134,1)" font-family="'Liberation Serif', serif" font-size="14.8" font-style="italic" fill="#000">N</text>
<text transform="translate(135.84,368.7) scale(1.059,1)" font-family="'Liberation Serif', serif" font-size="10.3" font-style="italic" fill="#000">I</text>
<text transform="translate(144.21,377.1) scale(1.020,1)" font-family="'Liberation Serif', serif" font-size="21.5" fill="#000">+</text>
<text transform="translate(160.92,374.2) scale(1.116,1)" font-family="'Liberation Serif', serif" font-size="14.8" font-style="italic" fill="#000">N</text>
<text transform="translate(173.55,368.7) scale(1.265,1)" font-family="'Liberation Serif', serif" font-size="10.3" font-style="italic" fill="#000">I</text>
<text transform="translate(179.35,368.7) scale(1.291,1)" font-family="'Liberation Serif', serif" font-size="10.3" font-style="italic" fill="#000">I</text>
<text transform="translate(198.21,363.7) scale(0.954,1)" font-family="'Liberation Serif', serif" font-size="15.5" font-style="italic" fill="#000">ω</text>
<rect x="464.75" y="235.6" width="219.15" height="157.6" fill="#aadca2"/>
<line x1="465.15" y1="393.5" x2="465.15" y2="235.6" stroke="#1e1e1e" stroke-width="1.3" stroke-dasharray="15.9,10"/>
<polyline fill="none" stroke="#0f77be" stroke-width="0.98" points="465.2,322.2 465.26,322.77 465.45,323.33 465.77,323.88 466.21,324.42 466.77,324.95 467.46,325.47 468.28,325.98 469.22,326.48 470.29,326.97 471.48,327.45 472.8,327.92 474.25,328.39 475.82,328.84 477.51,329.29 479.34,329.74 481.28,330.17 483.36,330.6 485.56,331.03 487.88,331.45 490.33,331.87 492.91,332.28 495.61,332.69 498.44,333.1 501.39,333.5 504.47,333.9 507.67,334.3 511,334.7 514.46,335.09 518.04,335.49 521.74,335.89 525.58,336.28 529.53,336.68 533.62,337.07 537.83,337.47 542.16,337.87 546.62,338.27 551.21,338.67 555.92,339.07 560.76,339.48 565.72,339.88 570.81,340.29 576.03,340.7 581.37,341.11 586.83,341.52 592.42,341.93 598.14,342.34 603.98,342.75 609.95,343.17 616.05,343.58 622.27,343.99 628.61,344.39 635.08,344.8 641.68,345.2 648.4,345.6 655.25,345.99 662.22,346.38 669.32,346.76 676.55,347.13 683.9,347.49"/>
<polyline fill="none" stroke="#dc2f33" stroke-width="0.98" points="465.2,322.2 465.26,321.73 465.45,321.22 465.77,320.67 466.21,320.09 466.77,319.47 467.46,318.84 468.28,318.18 469.22,317.51 470.29,316.82 471.48,316.12 472.8,315.41 474.25,314.7 475.82,313.97 477.51,313.24 479.34,312.51 481.28,311.76 483.36,311.02 485.56,310.26 487.88,309.5 490.33,308.72 492.91,307.94 495.61,307.15 498.44,306.34 501.39,305.51 504.47,304.67 507.67,303.81 511,302.93 514.46,302.02 518.04,301.09 521.74,300.13 525.58,299.14 529.53,298.12 533.62,297.06 537.83,295.96 542.16,294.82 546.62,293.65 551.21,292.42 555.92,291.16 560.76,289.85 565.72,288.49 570.81,287.08 576.03,285.63 581.37,284.12 586.83,282.57 592.42,280.96 598.14,279.31 603.98,277.61 609.95,275.87 616.05,274.08 622.27,272.24 628.61,270.37 635.08,268.46 641.68,266.52 648.4,264.55 655.25,262.56 662.22,260.55 669.32,258.52 676.55,256.49 683.9,254.46"/>
<rect x="410.6" y="235.6" width="273.3" height="157.6" fill="none" stroke="#262626" stroke-width="1.2"/>
<line x1="547.25" y1="393.2" x2="547.25" y2="390.4" stroke="#262626" stroke-width="1"/>
<line x1="547.25" y1="235.6" x2="547.25" y2="238.4" stroke="#262626" stroke-width="1"/>
<line x1="410.6" y1="314.4" x2="413.4" y2="314.4" stroke="#262626" stroke-width="1"/>
<line x1="683.9" y1="314.4" x2="681.1" y2="314.4" stroke="#262626" stroke-width="1"/>
<text x="404.8" y="399.2" font-family="'Liberation Sans', sans-serif" font-size="16.2" text-anchor="end" fill="#262626">0</text>
<text x="404.8" y="320.4" font-family="'Liberation Sans', sans-serif" font-size="16.2" text-anchor="end" fill="#262626">0.7</text>
<text x="404.8" y="241.6" font-family="'Liberation Sans', sans-serif" font-size="16.2" text-anchor="end" fill="#262626">1.4</text>
<text x="410.6" y="415.4" font-family="'Liberation Sans', sans-serif" font-size="16.2" text-anchor="middle" fill="#262626">0.98</text>
<text x="547.25" y="415.4" font-family="'Liberation Sans', sans-serif" font-size="16.2" text-anchor="middle" fill="#262626">0.99</text>
<text x="683.9" y="415.4" font-family="'Liberation Sans', sans-serif" font-size="16.2" text-anchor="middle" fill="#262626">1</text>
<text x="548.05" y="435.2" font-family="'Liberation Serif', serif" font-size="19" font-style="italic" text-anchor="middle" fill="#262626">λ</text>
<text transform="translate(372.9,314.4) rotate(-90)" font-family="'Liberation Serif', serif" font-size="19" font-style="italic" text-anchor="middle" fill="#262626">β</text>
<rect x="479.5" y="240.5" width="96" height="42" fill="#fff" stroke="#262626" stroke-width="1"/>
<line x1="486" y1="252.6" x2="535" y2="252.6" stroke="#0f77be" stroke-width="1.1"/>
<line x1="486" y1="270.6" x2="535" y2="270.6" stroke="#dc2f33" stroke-width="1.1"/>
<text transform="translate(540.06,256.2) scale(0.987,1)" font-family="'Liberation Serif', serif" font-size="16.2" font-style="italic" fill="#000">β</text>
<text transform="translate(548.8,258.4) scale(0.843,1)" font-family="'Liberation Serif', serif" font-size="11.5" font-style="italic" fill="#000">c</text>
<text transform="translate(540.06,274.3) scale(0.987,1)" font-family="'Liberation Serif', serif" font-size="16.2" font-style="italic" fill="#000">β</text>
<text transform="translate(548.68,276.5) scale(1.018,1)" font-family="'Liberation Serif', serif" font-size="11.5" font-style="italic" fill="#000">max</text>
<text transform="translate(466.01,366.7) scale(0.895,1)" font-family="'Liberation Serif', serif" font-size="18.6" font-style="italic" fill="#000">λ</text>
<text transform="translate(473.18,368.3) scale(0.870,1)" font-family="'Liberation Serif', serif" font-size="12" font-style="italic" fill="#000">c</text>
<text transform="translate(482.36,367) scale(1.226,1)" font-family="'Liberation Serif', serif" font-size="17" fill="#000">=</text>
<line x1="499.9" y1="361" x2="586.7" y2="361" stroke="#000" stroke-width="0.85"/>
<text transform="translate(501.32,355.7) scale(1.069,1)" font-family="'Liberation Serif', serif" font-size="14.8" font-style="italic" fill="#000">N</text>
<text transform="translate(513.24,350.2) scale(1.059,1)" font-family="'Liberation Serif', serif" font-size="10.3" font-style="italic" fill="#000">I</text>
<text transform="translate(520.91,358.6) scale(1.020,1)" font-family="'Liberation Serif', serif" font-size="21.5" fill="#000">+</text>
<text transform="translate(537.92,355.7) scale(1.116,1)" font-family="'Liberation Serif', serif" font-size="14.8" font-style="italic" fill="#000">N</text>
<text transform="translate(550.55,350.2) scale(1.265,1)" font-family="'Liberation Serif', serif" font-size="10.3" font-style="italic" fill="#000">I</text>
<text transform="translate(556.35,350.2) scale(1.291,1)" font-family="'Liberation Serif', serif" font-size="10.3" font-style="italic" fill="#000">I</text>
<text transform="translate(565.18,358.6) scale(0.950,1)" font-family="'Liberation Serif', serif" font-size="21.5" fill="#000">−</text>
<text transform="translate(578.6,355.7) scale(1.047,1)" font-family="'Liberation Serif', serif" font-size="14.8" fill="#000">4</text>
<text transform="translate(512.92,376.3) scale(1.134,1)" font-family="'Liberation Serif', serif" font-size="14.8" font-style="italic" fill="#000">N</text>
<text transform="translate(525.54,370.8) scale(1.059,1)" font-family="'Liberation Serif', serif" font-size="10.3" font-style="italic" fill="#000">I</text>
<text transform="translate(533.91,379.2) scale(1.020,1)" font-family="'Liberation Serif', serif" font-size="21.5" fill="#000">+</text>
<text transform="translate(550.62,376.3) scale(1.116,1)" font-family="'Liberation Serif', serif" font-size="14.8" font-style="italic" fill="#000">N</text>
<text transform="translate(563.25,370.8) scale(1.265,1)" font-family="'Liberation Serif', serif" font-size="10.3" font-style="italic" fill="#000">I</text>
<text transform="translate(569.05,370.8) scale(1.291,1)" font-family="'Liberation Serif', serif" font-size="10.3" font-style="italic" fill="#000">I</text>
<text transform="translate(587.91,365.8) scale(0.954,1)" font-family="'Liberation Serif', serif" font-size="15.5" font-style="italic" fill="#000">ω</text>
</svg>
</body></html>
